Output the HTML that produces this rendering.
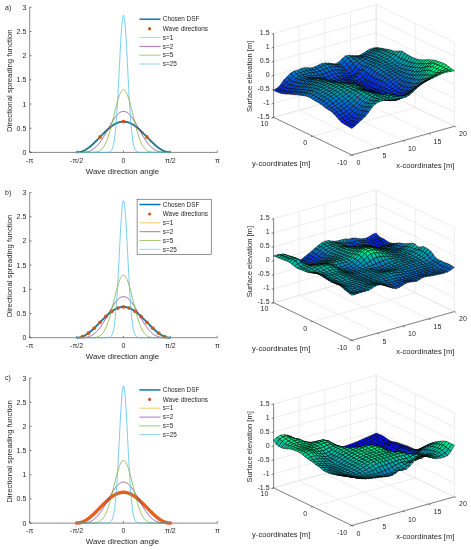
<!DOCTYPE html>
<html><head><meta charset="utf-8"><title>Directional spreading functions and wave surfaces</title>
<style>
html,body{margin:0;padding:0;background:#fff}
svg{display:block}
text{font-family:"Liberation Sans", sans-serif;fill:#262626}
.tk{font-size:7px}
.lb{font-size:7.9px}
.lg{font-size:6.4px}
.l3{font-size:7.6px}
</style></head><body>
<svg width="471" height="550" viewBox="0 0 471 550">
<rect width="471" height="550" fill="#fff"/>
<path d="M29.70 7.30V152.40H217.30" fill="none" stroke="#262626" stroke-width="0.55"/>
<path d="M29.70 152.40h1.9M29.70 128.22h1.9M29.70 104.03h1.9M29.70 79.85h1.9M29.70 55.67h1.9M29.70 31.48h1.9M29.70 7.30h1.9M29.70 152.40v-1.9M76.60 152.40v-1.9M123.50 152.40v-1.9M170.40 152.40v-1.9M217.30 152.40v-1.9" fill="none" stroke="#262626" stroke-width="0.55"/>
<text x="26.3" y="154.90" text-anchor="end" class="tk">0</text>
<text x="26.3" y="130.72" text-anchor="end" class="tk">0.5</text>
<text x="26.3" y="106.53" text-anchor="end" class="tk">1</text>
<text x="26.3" y="82.35" text-anchor="end" class="tk">1.5</text>
<text x="26.3" y="58.17" text-anchor="end" class="tk">2</text>
<text x="26.3" y="33.98" text-anchor="end" class="tk">2.5</text>
<text x="26.3" y="9.80" text-anchor="end" class="tk">3</text>
<text x="29.70" y="162.60" text-anchor="middle" class="tk">-π</text>
<text x="76.60" y="162.60" text-anchor="middle" class="tk">-π/2</text>
<text x="123.50" y="162.60" text-anchor="middle" class="tk">0</text>
<text x="170.40" y="162.60" text-anchor="middle" class="tk">π/2</text>
<text x="217.30" y="162.60" text-anchor="middle" class="tk">π</text>
<text x="122.50" y="173.70" text-anchor="middle" class="lb">Wave direction angle</text>
<text transform="translate(12.1 80.70) rotate(-90)" text-anchor="middle" class="lb" style="font-size:7.8px">Directional spreading function</text>
<text x="5" y="9.70" class="tk">a)</text>
<polyline points="76.60,152.40 77.12,152.39 77.64,152.36 78.16,152.32 78.68,152.25 79.21,152.17 79.73,152.06 80.25,151.94 80.77,151.80 81.29,151.65 81.81,151.47 82.33,151.28 82.85,151.07 83.37,150.84 83.90,150.60 84.42,150.34 84.94,150.06 85.46,149.77 85.98,149.46 86.50,149.14 87.02,148.80 87.54,148.45 88.06,148.08 88.59,147.70 89.11,147.31 89.63,146.90 90.15,146.48 90.67,146.05 91.19,145.61 91.71,145.16 92.23,144.70 92.75,144.23 93.28,143.75 93.80,143.27 94.32,142.77 94.84,142.27 95.36,141.76 95.88,141.25 96.40,140.73 96.92,140.21 97.44,139.68 97.97,139.15 98.49,138.61 99.01,138.08 99.53,137.54 100.05,137.00 100.57,136.47 101.09,135.93 101.61,135.40 102.13,134.86 102.66,134.33 103.18,133.80 103.70,133.28 104.22,132.76 104.74,132.25 105.26,131.74 105.78,131.24 106.30,130.74 106.82,130.26 107.35,129.78 107.87,129.31 108.39,128.85 108.91,128.40 109.43,127.96 109.95,127.53 110.47,127.11 110.99,126.70 111.51,126.31 112.04,125.93 112.56,125.56 113.08,125.21 113.60,124.87 114.12,124.55 114.64,124.24 115.16,123.95 115.68,123.67 116.20,123.41 116.73,123.17 117.25,122.94 117.77,122.73 118.29,122.54 118.81,122.36 119.33,122.21 119.85,122.07 120.37,121.95 120.89,121.84 121.42,121.76 121.94,121.69 122.46,121.65 122.98,121.62 123.50,121.61 124.02,121.62 124.54,121.65 125.06,121.69 125.58,121.76 126.11,121.84 126.63,121.95 127.15,122.07 127.67,122.21 128.19,122.36 128.71,122.54 129.23,122.73 129.75,122.94 130.27,123.17 130.80,123.41 131.32,123.67 131.84,123.95 132.36,124.24 132.88,124.55 133.40,124.87 133.92,125.21 134.44,125.56 134.96,125.93 135.49,126.31 136.01,126.70 136.53,127.11 137.05,127.53 137.57,127.96 138.09,128.40 138.61,128.85 139.13,129.31 139.65,129.78 140.18,130.26 140.70,130.74 141.22,131.24 141.74,131.74 142.26,132.25 142.78,132.76 143.30,133.28 143.82,133.80 144.34,134.33 144.87,134.86 145.39,135.40 145.91,135.93 146.43,136.47 146.95,137.00 147.47,137.54 147.99,138.08 148.51,138.61 149.03,139.15 149.56,139.68 150.08,140.21 150.60,140.73 151.12,141.25 151.64,141.76 152.16,142.27 152.68,142.77 153.20,143.27 153.72,143.75 154.25,144.23 154.77,144.70 155.29,145.16 155.81,145.61 156.33,146.05 156.85,146.48 157.37,146.90 157.89,147.31 158.41,147.70 158.94,148.08 159.46,148.45 159.98,148.80 160.50,149.14 161.02,149.46 161.54,149.77 162.06,150.06 162.58,150.34 163.10,150.60 163.63,150.84 164.15,151.07 164.67,151.28 165.19,151.47 165.71,151.65 166.23,151.80 166.75,151.94 167.27,152.06 167.79,152.17 168.32,152.25 168.84,152.32 169.36,152.36 169.88,152.39 170.40,152.40" fill="none" stroke="#1b7bb3" stroke-width="1.9" stroke-linejoin="round"/>
<circle cx="100.05" cy="137.00" r="1.9" fill="#E0581B"/>
<circle cx="123.50" cy="121.61" r="1.9" fill="#E0581B"/>
<circle cx="146.95" cy="137.00" r="1.9" fill="#E0581B"/>
<polyline points="76.60,152.40 77.12,152.39 77.64,152.36 78.16,152.32 78.68,152.25 79.21,152.17 79.73,152.06 80.25,151.94 80.77,151.80 81.29,151.65 81.81,151.47 82.33,151.28 82.85,151.07 83.37,150.84 83.90,150.60 84.42,150.34 84.94,150.06 85.46,149.77 85.98,149.46 86.50,149.14 87.02,148.80 87.54,148.45 88.06,148.08 88.59,147.70 89.11,147.31 89.63,146.90 90.15,146.48 90.67,146.05 91.19,145.61 91.71,145.16 92.23,144.70 92.75,144.23 93.28,143.75 93.80,143.27 94.32,142.77 94.84,142.27 95.36,141.76 95.88,141.25 96.40,140.73 96.92,140.21 97.44,139.68 97.97,139.15 98.49,138.61 99.01,138.08 99.53,137.54 100.05,137.00 100.57,136.47 101.09,135.93 101.61,135.40 102.13,134.86 102.66,134.33 103.18,133.80 103.70,133.28 104.22,132.76 104.74,132.25 105.26,131.74 105.78,131.24 106.30,130.74 106.82,130.26 107.35,129.78 107.87,129.31 108.39,128.85 108.91,128.40 109.43,127.96 109.95,127.53 110.47,127.11 110.99,126.70 111.51,126.31 112.04,125.93 112.56,125.56 113.08,125.21 113.60,124.87 114.12,124.55 114.64,124.24 115.16,123.95 115.68,123.67 116.20,123.41 116.73,123.17 117.25,122.94 117.77,122.73 118.29,122.54 118.81,122.36 119.33,122.21 119.85,122.07 120.37,121.95 120.89,121.84 121.42,121.76 121.94,121.69 122.46,121.65 122.98,121.62 123.50,121.61 124.02,121.62 124.54,121.65 125.06,121.69 125.58,121.76 126.11,121.84 126.63,121.95 127.15,122.07 127.67,122.21 128.19,122.36 128.71,122.54 129.23,122.73 129.75,122.94 130.27,123.17 130.80,123.41 131.32,123.67 131.84,123.95 132.36,124.24 132.88,124.55 133.40,124.87 133.92,125.21 134.44,125.56 134.96,125.93 135.49,126.31 136.01,126.70 136.53,127.11 137.05,127.53 137.57,127.96 138.09,128.40 138.61,128.85 139.13,129.31 139.65,129.78 140.18,130.26 140.70,130.74 141.22,131.24 141.74,131.74 142.26,132.25 142.78,132.76 143.30,133.28 143.82,133.80 144.34,134.33 144.87,134.86 145.39,135.40 145.91,135.93 146.43,136.47 146.95,137.00 147.47,137.54 147.99,138.08 148.51,138.61 149.03,139.15 149.56,139.68 150.08,140.21 150.60,140.73 151.12,141.25 151.64,141.76 152.16,142.27 152.68,142.77 153.20,143.27 153.72,143.75 154.25,144.23 154.77,144.70 155.29,145.16 155.81,145.61 156.33,146.05 156.85,146.48 157.37,146.90 157.89,147.31 158.41,147.70 158.94,148.08 159.46,148.45 159.98,148.80 160.50,149.14 161.02,149.46 161.54,149.77 162.06,150.06 162.58,150.34 163.10,150.60 163.63,150.84 164.15,151.07 164.67,151.28 165.19,151.47 165.71,151.65 166.23,151.80 166.75,151.94 167.27,152.06 167.79,152.17 168.32,152.25 168.84,152.32 169.36,152.36 169.88,152.39 170.40,152.40" fill="none" stroke="#4f6f3c" stroke-width="0.75" stroke-linejoin="round"/>
<polyline points="76.60,152.40 77.12,152.40 77.64,152.40 78.16,152.40 78.68,152.40 79.21,152.40 79.73,152.40 80.25,152.39 80.77,152.38 81.29,152.38 81.81,152.36 82.33,152.35 82.85,152.32 83.37,152.29 83.90,152.26 84.42,152.22 84.94,152.16 85.46,152.10 85.98,152.03 86.50,151.94 87.02,151.84 87.54,151.72 88.06,151.59 88.59,151.44 89.11,151.28 89.63,151.09 90.15,150.88 90.67,150.66 91.19,150.41 91.71,150.13 92.23,149.83 92.75,149.51 93.28,149.16 93.80,148.79 94.32,148.39 94.84,147.96 95.36,147.50 95.88,147.01 96.40,146.50 96.92,145.96 97.44,145.39 97.97,144.79 98.49,144.17 99.01,143.52 99.53,142.84 100.05,142.14 100.57,141.41 101.09,140.65 101.61,139.88 102.13,139.08 102.66,138.26 103.18,137.42 103.70,136.57 104.22,135.70 104.74,134.81 105.26,133.91 105.78,133.01 106.30,132.09 106.82,131.17 107.35,130.24 107.87,129.31 108.39,128.38 108.91,127.45 109.43,126.52 109.95,125.61 110.47,124.70 110.99,123.81 111.51,122.92 112.04,122.06 112.56,121.21 113.08,120.39 113.60,119.59 114.12,118.81 114.64,118.06 115.16,117.35 115.68,116.66 116.20,116.01 116.73,115.39 117.25,114.82 117.77,114.28 118.29,113.78 118.81,113.33 119.33,112.92 119.85,112.56 120.37,112.24 120.89,111.97 121.42,111.74 121.94,111.57 122.46,111.45 122.98,111.37 123.50,111.35 124.02,111.37 124.54,111.45 125.06,111.57 125.58,111.74 126.11,111.97 126.63,112.24 127.15,112.56 127.67,112.92 128.19,113.33 128.71,113.78 129.23,114.28 129.75,114.82 130.27,115.39 130.80,116.01 131.32,116.66 131.84,117.35 132.36,118.06 132.88,118.81 133.40,119.59 133.92,120.39 134.44,121.21 134.96,122.06 135.49,122.92 136.01,123.81 136.53,124.70 137.05,125.61 137.57,126.52 138.09,127.45 138.61,128.38 139.13,129.31 139.65,130.24 140.18,131.17 140.70,132.09 141.22,133.01 141.74,133.91 142.26,134.81 142.78,135.70 143.30,136.57 143.82,137.42 144.34,138.26 144.87,139.08 145.39,139.88 145.91,140.65 146.43,141.41 146.95,142.14 147.47,142.84 147.99,143.52 148.51,144.17 149.03,144.79 149.56,145.39 150.08,145.96 150.60,146.50 151.12,147.01 151.64,147.50 152.16,147.96 152.68,148.39 153.20,148.79 153.72,149.16 154.25,149.51 154.77,149.83 155.29,150.13 155.81,150.41 156.33,150.66 156.85,150.88 157.37,151.09 157.89,151.28 158.41,151.44 158.94,151.59 159.46,151.72 159.98,151.84 160.50,151.94 161.02,152.03 161.54,152.10 162.06,152.16 162.58,152.22 163.10,152.26 163.63,152.29 164.15,152.32 164.67,152.35 165.19,152.36 165.71,152.38 166.23,152.38 166.75,152.39 167.27,152.40 167.79,152.40 168.32,152.40 168.84,152.40 169.36,152.40 169.88,152.40 170.40,152.40" fill="none" stroke="#7E2F8E" stroke-width="0.75" stroke-linejoin="round"/>
<polyline points="76.60,152.40 77.12,152.40 77.64,152.40 78.16,152.40 78.68,152.40 79.21,152.40 79.73,152.40 80.25,152.40 80.77,152.40 81.29,152.40 81.81,152.40 82.33,152.40 82.85,152.40 83.37,152.40 83.90,152.40 84.42,152.40 84.94,152.40 85.46,152.40 85.98,152.40 86.50,152.40 87.02,152.40 87.54,152.40 88.06,152.40 88.59,152.39 89.11,152.39 89.63,152.39 90.15,152.38 90.67,152.38 91.19,152.37 91.71,152.36 92.23,152.34 92.75,152.32 93.28,152.29 93.80,152.26 94.32,152.21 94.84,152.16 95.36,152.09 95.88,152.01 96.40,151.91 96.92,151.79 97.44,151.65 97.97,151.48 98.49,151.27 99.01,151.04 99.53,150.76 100.05,150.45 100.57,150.08 101.09,149.66 101.61,149.19 102.13,148.65 102.66,148.05 103.18,147.37 103.70,146.62 104.22,145.80 104.74,144.89 105.26,143.89 105.78,142.81 106.30,141.63 106.82,140.36 107.35,139.00 107.87,137.55 108.39,136.01 108.91,134.38 109.43,132.67 109.95,130.88 110.47,129.01 110.99,127.07 111.51,125.08 112.04,123.03 112.56,120.94 113.08,118.81 113.60,116.67 114.12,114.52 114.64,112.38 115.16,110.26 115.68,108.17 116.20,106.13 116.73,104.15 117.25,102.24 117.77,100.43 118.29,98.72 118.81,97.13 119.33,95.67 119.85,94.35 120.37,93.18 120.89,92.18 121.42,91.35 121.94,90.69 122.46,90.22 122.98,89.94 123.50,89.84 124.02,89.94 124.54,90.22 125.06,90.69 125.58,91.35 126.11,92.18 126.63,93.18 127.15,94.35 127.67,95.67 128.19,97.13 128.71,98.72 129.23,100.43 129.75,102.24 130.27,104.15 130.80,106.13 131.32,108.17 131.84,110.26 132.36,112.38 132.88,114.52 133.40,116.67 133.92,118.81 134.44,120.94 134.96,123.03 135.49,125.08 136.01,127.07 136.53,129.01 137.05,130.88 137.57,132.67 138.09,134.38 138.61,136.01 139.13,137.55 139.65,139.00 140.18,140.36 140.70,141.63 141.22,142.81 141.74,143.89 142.26,144.89 142.78,145.80 143.30,146.62 143.82,147.37 144.34,148.05 144.87,148.65 145.39,149.19 145.91,149.66 146.43,150.08 146.95,150.45 147.47,150.76 147.99,151.04 148.51,151.27 149.03,151.48 149.56,151.65 150.08,151.79 150.60,151.91 151.12,152.01 151.64,152.09 152.16,152.16 152.68,152.21 153.20,152.26 153.72,152.29 154.25,152.32 154.77,152.34 155.29,152.36 155.81,152.37 156.33,152.38 156.85,152.38 157.37,152.39 157.89,152.39 158.41,152.39 158.94,152.40 159.46,152.40 159.98,152.40 160.50,152.40 161.02,152.40 161.54,152.40 162.06,152.40 162.58,152.40 163.10,152.40 163.63,152.40 164.15,152.40 164.67,152.40 165.19,152.40 165.71,152.40 166.23,152.40 166.75,152.40 167.27,152.40 167.79,152.40 168.32,152.40 168.84,152.40 169.36,152.40 169.88,152.40 170.40,152.40" fill="none" stroke="#77AC30" stroke-width="0.75" stroke-linejoin="round"/>
<polyline points="76.60,152.40 77.12,152.40 77.64,152.40 78.16,152.40 78.68,152.40 79.21,152.40 79.73,152.40 80.25,152.40 80.77,152.40 81.29,152.40 81.81,152.40 82.33,152.40 82.85,152.40 83.37,152.40 83.90,152.40 84.42,152.40 84.94,152.40 85.46,152.40 85.98,152.40 86.50,152.40 87.02,152.40 87.54,152.40 88.06,152.40 88.59,152.40 89.11,152.40 89.63,152.40 90.15,152.40 90.67,152.40 91.19,152.40 91.71,152.40 92.23,152.40 92.75,152.40 93.28,152.40 93.80,152.40 94.32,152.40 94.84,152.40 95.36,152.40 95.88,152.40 96.40,152.40 96.92,152.40 97.44,152.40 97.97,152.40 98.49,152.40 99.01,152.40 99.53,152.40 100.05,152.40 100.57,152.40 101.09,152.40 101.61,152.40 102.13,152.40 102.66,152.40 103.18,152.40 103.70,152.40 104.22,152.40 104.74,152.40 105.26,152.39 105.78,152.39 106.30,152.38 106.82,152.36 107.35,152.34 107.87,152.30 108.39,152.23 108.91,152.13 109.43,151.97 109.95,151.74 110.47,151.40 110.99,150.91 111.51,150.22 112.04,149.27 112.56,147.99 113.08,146.28 113.60,144.07 114.12,141.25 114.64,137.71 115.16,133.38 115.68,128.17 116.20,122.04 116.73,114.96 117.25,106.97 117.77,98.14 118.29,88.62 118.81,78.59 119.33,68.31 119.85,58.07 120.37,48.21 120.89,39.08 121.42,31.02 121.94,24.36 122.46,19.39 122.98,16.32 123.50,15.28 124.02,16.32 124.54,19.39 125.06,24.36 125.58,31.02 126.11,39.08 126.63,48.21 127.15,58.07 127.67,68.31 128.19,78.59 128.71,88.62 129.23,98.14 129.75,106.97 130.27,114.96 130.80,122.04 131.32,128.17 131.84,133.38 132.36,137.71 132.88,141.25 133.40,144.07 133.92,146.28 134.44,147.99 134.96,149.27 135.49,150.22 136.01,150.91 136.53,151.40 137.05,151.74 137.57,151.97 138.09,152.13 138.61,152.23 139.13,152.30 139.65,152.34 140.18,152.36 140.70,152.38 141.22,152.39 141.74,152.39 142.26,152.40 142.78,152.40 143.30,152.40 143.82,152.40 144.34,152.40 144.87,152.40 145.39,152.40 145.91,152.40 146.43,152.40 146.95,152.40 147.47,152.40 147.99,152.40 148.51,152.40 149.03,152.40 149.56,152.40 150.08,152.40 150.60,152.40 151.12,152.40 151.64,152.40 152.16,152.40 152.68,152.40 153.20,152.40 153.72,152.40 154.25,152.40 154.77,152.40 155.29,152.40 155.81,152.40 156.33,152.40 156.85,152.40 157.37,152.40 157.89,152.40 158.41,152.40 158.94,152.40 159.46,152.40 159.98,152.40 160.50,152.40 161.02,152.40 161.54,152.40 162.06,152.40 162.58,152.40 163.10,152.40 163.63,152.40 164.15,152.40 164.67,152.40 165.19,152.40 165.71,152.40 166.23,152.40 166.75,152.40 167.27,152.40 167.79,152.40 168.32,152.40 168.84,152.40 169.36,152.40 169.88,152.40 170.40,152.40" fill="none" stroke="#4DBEEE" stroke-width="0.75" stroke-linejoin="round"/>
<path d="M139.4 19.20H160.5" stroke="#0072BD" stroke-width="1.45"/>
<text x="162.8" y="21.45" class="lg">Chosen DSF</text>
<circle cx="149.6" cy="28.70" r="1.6" fill="#D95319"/>
<text x="162.8" y="30.95" class="lg">Wave directions</text>
<path d="M139.4 37.50H160.5" stroke="#EDB120" stroke-width="0.65"/>
<text x="162.8" y="39.75" class="lg">s=1</text>
<path d="M139.4 46.40H160.5" stroke="#7E2F8E" stroke-width="0.65"/>
<text x="162.8" y="48.65" class="lg">s=2</text>
<path d="M139.4 55.20H160.5" stroke="#77AC30" stroke-width="0.65"/>
<text x="162.8" y="57.45" class="lg">s=5</text>
<path d="M139.4 64.00H160.5" stroke="#4DBEEE" stroke-width="0.65"/>
<text x="162.8" y="66.25" class="lg">s=25</text>
<path d="M29.70 192.60V337.70H217.30" fill="none" stroke="#262626" stroke-width="0.55"/>
<path d="M29.70 337.70h1.9M29.70 313.52h1.9M29.70 289.33h1.9M29.70 265.15h1.9M29.70 240.97h1.9M29.70 216.78h1.9M29.70 192.60h1.9M29.70 337.70v-1.9M76.60 337.70v-1.9M123.50 337.70v-1.9M170.40 337.70v-1.9M217.30 337.70v-1.9" fill="none" stroke="#262626" stroke-width="0.55"/>
<text x="26.3" y="340.20" text-anchor="end" class="tk">0</text>
<text x="26.3" y="316.02" text-anchor="end" class="tk">0.5</text>
<text x="26.3" y="291.83" text-anchor="end" class="tk">1</text>
<text x="26.3" y="267.65" text-anchor="end" class="tk">1.5</text>
<text x="26.3" y="243.47" text-anchor="end" class="tk">2</text>
<text x="26.3" y="219.28" text-anchor="end" class="tk">2.5</text>
<text x="26.3" y="195.10" text-anchor="end" class="tk">3</text>
<text x="29.70" y="347.90" text-anchor="middle" class="tk">-π</text>
<text x="76.60" y="347.90" text-anchor="middle" class="tk">-π/2</text>
<text x="123.50" y="347.90" text-anchor="middle" class="tk">0</text>
<text x="170.40" y="347.90" text-anchor="middle" class="tk">π/2</text>
<text x="217.30" y="347.90" text-anchor="middle" class="tk">π</text>
<text x="122.50" y="359.00" text-anchor="middle" class="lb">Wave direction angle</text>
<text transform="translate(12.1 266.00) rotate(-90)" text-anchor="middle" class="lb" style="font-size:7.8px">Directional spreading function</text>
<text x="5" y="195.00" class="tk">b)</text>
<polyline points="76.60,337.70 77.12,337.69 77.64,337.66 78.16,337.62 78.68,337.55 79.21,337.47 79.73,337.36 80.25,337.24 80.77,337.10 81.29,336.95 81.81,336.77 82.33,336.58 82.85,336.37 83.37,336.14 83.90,335.90 84.42,335.64 84.94,335.36 85.46,335.07 85.98,334.76 86.50,334.44 87.02,334.10 87.54,333.75 88.06,333.38 88.59,333.00 89.11,332.61 89.63,332.20 90.15,331.78 90.67,331.35 91.19,330.91 91.71,330.46 92.23,330.00 92.75,329.53 93.28,329.05 93.80,328.57 94.32,328.07 94.84,327.57 95.36,327.06 95.88,326.55 96.40,326.03 96.92,325.51 97.44,324.98 97.97,324.45 98.49,323.91 99.01,323.38 99.53,322.84 100.05,322.30 100.57,321.77 101.09,321.23 101.61,320.70 102.13,320.16 102.66,319.63 103.18,319.10 103.70,318.58 104.22,318.06 104.74,317.55 105.26,317.04 105.78,316.54 106.30,316.04 106.82,315.56 107.35,315.08 107.87,314.61 108.39,314.15 108.91,313.70 109.43,313.26 109.95,312.83 110.47,312.41 110.99,312.00 111.51,311.61 112.04,311.23 112.56,310.86 113.08,310.51 113.60,310.17 114.12,309.85 114.64,309.54 115.16,309.25 115.68,308.97 116.20,308.71 116.73,308.47 117.25,308.24 117.77,308.03 118.29,307.84 118.81,307.66 119.33,307.51 119.85,307.37 120.37,307.25 120.89,307.14 121.42,307.06 121.94,306.99 122.46,306.95 122.98,306.92 123.50,306.91 124.02,306.92 124.54,306.95 125.06,306.99 125.58,307.06 126.11,307.14 126.63,307.25 127.15,307.37 127.67,307.51 128.19,307.66 128.71,307.84 129.23,308.03 129.75,308.24 130.27,308.47 130.80,308.71 131.32,308.97 131.84,309.25 132.36,309.54 132.88,309.85 133.40,310.17 133.92,310.51 134.44,310.86 134.96,311.23 135.49,311.61 136.01,312.00 136.53,312.41 137.05,312.83 137.57,313.26 138.09,313.70 138.61,314.15 139.13,314.61 139.65,315.08 140.18,315.56 140.70,316.04 141.22,316.54 141.74,317.04 142.26,317.55 142.78,318.06 143.30,318.58 143.82,319.10 144.34,319.63 144.87,320.16 145.39,320.70 145.91,321.23 146.43,321.77 146.95,322.30 147.47,322.84 147.99,323.38 148.51,323.91 149.03,324.45 149.56,324.98 150.08,325.51 150.60,326.03 151.12,326.55 151.64,327.06 152.16,327.57 152.68,328.07 153.20,328.57 153.72,329.05 154.25,329.53 154.77,330.00 155.29,330.46 155.81,330.91 156.33,331.35 156.85,331.78 157.37,332.20 157.89,332.61 158.41,333.00 158.94,333.38 159.46,333.75 159.98,334.10 160.50,334.44 161.02,334.76 161.54,335.07 162.06,335.36 162.58,335.64 163.10,335.90 163.63,336.14 164.15,336.37 164.67,336.58 165.19,336.77 165.71,336.95 166.23,337.10 166.75,337.24 167.27,337.36 167.79,337.47 168.32,337.55 168.84,337.62 169.36,337.66 169.88,337.69 170.40,337.70" fill="none" stroke="#1b7bb3" stroke-width="1.9" stroke-linejoin="round"/>
<circle cx="82.46" cy="336.53" r="1.9" fill="#E0581B"/>
<circle cx="88.33" cy="333.19" r="1.9" fill="#E0581B"/>
<circle cx="94.19" cy="328.20" r="1.9" fill="#E0581B"/>
<circle cx="100.05" cy="322.30" r="1.9" fill="#E0581B"/>
<circle cx="105.91" cy="316.41" r="1.9" fill="#E0581B"/>
<circle cx="111.78" cy="311.42" r="1.9" fill="#E0581B"/>
<circle cx="117.64" cy="308.08" r="1.9" fill="#E0581B"/>
<circle cx="123.50" cy="306.91" r="1.9" fill="#E0581B"/>
<circle cx="129.36" cy="308.08" r="1.9" fill="#E0581B"/>
<circle cx="135.22" cy="311.42" r="1.9" fill="#E0581B"/>
<circle cx="141.09" cy="316.41" r="1.9" fill="#E0581B"/>
<circle cx="146.95" cy="322.30" r="1.9" fill="#E0581B"/>
<circle cx="152.81" cy="328.20" r="1.9" fill="#E0581B"/>
<circle cx="158.67" cy="333.19" r="1.9" fill="#E0581B"/>
<circle cx="164.54" cy="336.53" r="1.9" fill="#E0581B"/>
<polyline points="76.60,337.70 77.12,337.69 77.64,337.66 78.16,337.62 78.68,337.55 79.21,337.47 79.73,337.36 80.25,337.24 80.77,337.10 81.29,336.95 81.81,336.77 82.33,336.58 82.85,336.37 83.37,336.14 83.90,335.90 84.42,335.64 84.94,335.36 85.46,335.07 85.98,334.76 86.50,334.44 87.02,334.10 87.54,333.75 88.06,333.38 88.59,333.00 89.11,332.61 89.63,332.20 90.15,331.78 90.67,331.35 91.19,330.91 91.71,330.46 92.23,330.00 92.75,329.53 93.28,329.05 93.80,328.57 94.32,328.07 94.84,327.57 95.36,327.06 95.88,326.55 96.40,326.03 96.92,325.51 97.44,324.98 97.97,324.45 98.49,323.91 99.01,323.38 99.53,322.84 100.05,322.30 100.57,321.77 101.09,321.23 101.61,320.70 102.13,320.16 102.66,319.63 103.18,319.10 103.70,318.58 104.22,318.06 104.74,317.55 105.26,317.04 105.78,316.54 106.30,316.04 106.82,315.56 107.35,315.08 107.87,314.61 108.39,314.15 108.91,313.70 109.43,313.26 109.95,312.83 110.47,312.41 110.99,312.00 111.51,311.61 112.04,311.23 112.56,310.86 113.08,310.51 113.60,310.17 114.12,309.85 114.64,309.54 115.16,309.25 115.68,308.97 116.20,308.71 116.73,308.47 117.25,308.24 117.77,308.03 118.29,307.84 118.81,307.66 119.33,307.51 119.85,307.37 120.37,307.25 120.89,307.14 121.42,307.06 121.94,306.99 122.46,306.95 122.98,306.92 123.50,306.91 124.02,306.92 124.54,306.95 125.06,306.99 125.58,307.06 126.11,307.14 126.63,307.25 127.15,307.37 127.67,307.51 128.19,307.66 128.71,307.84 129.23,308.03 129.75,308.24 130.27,308.47 130.80,308.71 131.32,308.97 131.84,309.25 132.36,309.54 132.88,309.85 133.40,310.17 133.92,310.51 134.44,310.86 134.96,311.23 135.49,311.61 136.01,312.00 136.53,312.41 137.05,312.83 137.57,313.26 138.09,313.70 138.61,314.15 139.13,314.61 139.65,315.08 140.18,315.56 140.70,316.04 141.22,316.54 141.74,317.04 142.26,317.55 142.78,318.06 143.30,318.58 143.82,319.10 144.34,319.63 144.87,320.16 145.39,320.70 145.91,321.23 146.43,321.77 146.95,322.30 147.47,322.84 147.99,323.38 148.51,323.91 149.03,324.45 149.56,324.98 150.08,325.51 150.60,326.03 151.12,326.55 151.64,327.06 152.16,327.57 152.68,328.07 153.20,328.57 153.72,329.05 154.25,329.53 154.77,330.00 155.29,330.46 155.81,330.91 156.33,331.35 156.85,331.78 157.37,332.20 157.89,332.61 158.41,333.00 158.94,333.38 159.46,333.75 159.98,334.10 160.50,334.44 161.02,334.76 161.54,335.07 162.06,335.36 162.58,335.64 163.10,335.90 163.63,336.14 164.15,336.37 164.67,336.58 165.19,336.77 165.71,336.95 166.23,337.10 166.75,337.24 167.27,337.36 167.79,337.47 168.32,337.55 168.84,337.62 169.36,337.66 169.88,337.69 170.40,337.70" fill="none" stroke="#4f6f3c" stroke-width="0.75" stroke-linejoin="round"/>
<polyline points="76.60,337.70 77.12,337.70 77.64,337.70 78.16,337.70 78.68,337.70 79.21,337.70 79.73,337.70 80.25,337.69 80.77,337.68 81.29,337.68 81.81,337.66 82.33,337.65 82.85,337.62 83.37,337.59 83.90,337.56 84.42,337.52 84.94,337.46 85.46,337.40 85.98,337.33 86.50,337.24 87.02,337.14 87.54,337.02 88.06,336.89 88.59,336.74 89.11,336.58 89.63,336.39 90.15,336.18 90.67,335.96 91.19,335.71 91.71,335.43 92.23,335.13 92.75,334.81 93.28,334.46 93.80,334.09 94.32,333.69 94.84,333.26 95.36,332.80 95.88,332.31 96.40,331.80 96.92,331.26 97.44,330.69 97.97,330.09 98.49,329.47 99.01,328.82 99.53,328.14 100.05,327.44 100.57,326.71 101.09,325.95 101.61,325.18 102.13,324.38 102.66,323.56 103.18,322.72 103.70,321.87 104.22,321.00 104.74,320.11 105.26,319.21 105.78,318.31 106.30,317.39 106.82,316.47 107.35,315.54 107.87,314.61 108.39,313.68 108.91,312.75 109.43,311.82 109.95,310.91 110.47,310.00 110.99,309.11 111.51,308.22 112.04,307.36 112.56,306.51 113.08,305.69 113.60,304.89 114.12,304.11 114.64,303.36 115.16,302.65 115.68,301.96 116.20,301.31 116.73,300.69 117.25,300.12 117.77,299.58 118.29,299.08 118.81,298.63 119.33,298.22 119.85,297.86 120.37,297.54 120.89,297.27 121.42,297.04 121.94,296.87 122.46,296.75 122.98,296.67 123.50,296.65 124.02,296.67 124.54,296.75 125.06,296.87 125.58,297.04 126.11,297.27 126.63,297.54 127.15,297.86 127.67,298.22 128.19,298.63 128.71,299.08 129.23,299.58 129.75,300.12 130.27,300.69 130.80,301.31 131.32,301.96 131.84,302.65 132.36,303.36 132.88,304.11 133.40,304.89 133.92,305.69 134.44,306.51 134.96,307.36 135.49,308.22 136.01,309.11 136.53,310.00 137.05,310.91 137.57,311.82 138.09,312.75 138.61,313.68 139.13,314.61 139.65,315.54 140.18,316.47 140.70,317.39 141.22,318.31 141.74,319.21 142.26,320.11 142.78,321.00 143.30,321.87 143.82,322.72 144.34,323.56 144.87,324.38 145.39,325.18 145.91,325.95 146.43,326.71 146.95,327.44 147.47,328.14 147.99,328.82 148.51,329.47 149.03,330.09 149.56,330.69 150.08,331.26 150.60,331.80 151.12,332.31 151.64,332.80 152.16,333.26 152.68,333.69 153.20,334.09 153.72,334.46 154.25,334.81 154.77,335.13 155.29,335.43 155.81,335.71 156.33,335.96 156.85,336.18 157.37,336.39 157.89,336.58 158.41,336.74 158.94,336.89 159.46,337.02 159.98,337.14 160.50,337.24 161.02,337.33 161.54,337.40 162.06,337.46 162.58,337.52 163.10,337.56 163.63,337.59 164.15,337.62 164.67,337.65 165.19,337.66 165.71,337.68 166.23,337.68 166.75,337.69 167.27,337.70 167.79,337.70 168.32,337.70 168.84,337.70 169.36,337.70 169.88,337.70 170.40,337.70" fill="none" stroke="#7E2F8E" stroke-width="0.75" stroke-linejoin="round"/>
<polyline points="76.60,337.70 77.12,337.70 77.64,337.70 78.16,337.70 78.68,337.70 79.21,337.70 79.73,337.70 80.25,337.70 80.77,337.70 81.29,337.70 81.81,337.70 82.33,337.70 82.85,337.70 83.37,337.70 83.90,337.70 84.42,337.70 84.94,337.70 85.46,337.70 85.98,337.70 86.50,337.70 87.02,337.70 87.54,337.70 88.06,337.70 88.59,337.69 89.11,337.69 89.63,337.69 90.15,337.68 90.67,337.68 91.19,337.67 91.71,337.66 92.23,337.64 92.75,337.62 93.28,337.59 93.80,337.56 94.32,337.51 94.84,337.46 95.36,337.39 95.88,337.31 96.40,337.21 96.92,337.09 97.44,336.95 97.97,336.78 98.49,336.57 99.01,336.34 99.53,336.06 100.05,335.75 100.57,335.38 101.09,334.96 101.61,334.49 102.13,333.95 102.66,333.35 103.18,332.67 103.70,331.92 104.22,331.10 104.74,330.19 105.26,329.19 105.78,328.11 106.30,326.93 106.82,325.66 107.35,324.30 107.87,322.85 108.39,321.31 108.91,319.68 109.43,317.97 109.95,316.18 110.47,314.31 110.99,312.37 111.51,310.38 112.04,308.33 112.56,306.24 113.08,304.11 113.60,301.97 114.12,299.82 114.64,297.68 115.16,295.56 115.68,293.47 116.20,291.43 116.73,289.45 117.25,287.54 117.77,285.73 118.29,284.02 118.81,282.43 119.33,280.97 119.85,279.65 120.37,278.48 120.89,277.48 121.42,276.65 121.94,275.99 122.46,275.52 122.98,275.24 123.50,275.14 124.02,275.24 124.54,275.52 125.06,275.99 125.58,276.65 126.11,277.48 126.63,278.48 127.15,279.65 127.67,280.97 128.19,282.43 128.71,284.02 129.23,285.73 129.75,287.54 130.27,289.45 130.80,291.43 131.32,293.47 131.84,295.56 132.36,297.68 132.88,299.82 133.40,301.97 133.92,304.11 134.44,306.24 134.96,308.33 135.49,310.38 136.01,312.37 136.53,314.31 137.05,316.18 137.57,317.97 138.09,319.68 138.61,321.31 139.13,322.85 139.65,324.30 140.18,325.66 140.70,326.93 141.22,328.11 141.74,329.19 142.26,330.19 142.78,331.10 143.30,331.92 143.82,332.67 144.34,333.35 144.87,333.95 145.39,334.49 145.91,334.96 146.43,335.38 146.95,335.75 147.47,336.06 147.99,336.34 148.51,336.57 149.03,336.78 149.56,336.95 150.08,337.09 150.60,337.21 151.12,337.31 151.64,337.39 152.16,337.46 152.68,337.51 153.20,337.56 153.72,337.59 154.25,337.62 154.77,337.64 155.29,337.66 155.81,337.67 156.33,337.68 156.85,337.68 157.37,337.69 157.89,337.69 158.41,337.69 158.94,337.70 159.46,337.70 159.98,337.70 160.50,337.70 161.02,337.70 161.54,337.70 162.06,337.70 162.58,337.70 163.10,337.70 163.63,337.70 164.15,337.70 164.67,337.70 165.19,337.70 165.71,337.70 166.23,337.70 166.75,337.70 167.27,337.70 167.79,337.70 168.32,337.70 168.84,337.70 169.36,337.70 169.88,337.70 170.40,337.70" fill="none" stroke="#77AC30" stroke-width="0.75" stroke-linejoin="round"/>
<polyline points="76.60,337.70 77.12,337.70 77.64,337.70 78.16,337.70 78.68,337.70 79.21,337.70 79.73,337.70 80.25,337.70 80.77,337.70 81.29,337.70 81.81,337.70 82.33,337.70 82.85,337.70 83.37,337.70 83.90,337.70 84.42,337.70 84.94,337.70 85.46,337.70 85.98,337.70 86.50,337.70 87.02,337.70 87.54,337.70 88.06,337.70 88.59,337.70 89.11,337.70 89.63,337.70 90.15,337.70 90.67,337.70 91.19,337.70 91.71,337.70 92.23,337.70 92.75,337.70 93.28,337.70 93.80,337.70 94.32,337.70 94.84,337.70 95.36,337.70 95.88,337.70 96.40,337.70 96.92,337.70 97.44,337.70 97.97,337.70 98.49,337.70 99.01,337.70 99.53,337.70 100.05,337.70 100.57,337.70 101.09,337.70 101.61,337.70 102.13,337.70 102.66,337.70 103.18,337.70 103.70,337.70 104.22,337.70 104.74,337.70 105.26,337.69 105.78,337.69 106.30,337.68 106.82,337.66 107.35,337.64 107.87,337.60 108.39,337.53 108.91,337.43 109.43,337.27 109.95,337.04 110.47,336.70 110.99,336.21 111.51,335.52 112.04,334.57 112.56,333.29 113.08,331.58 113.60,329.37 114.12,326.55 114.64,323.01 115.16,318.68 115.68,313.47 116.20,307.34 116.73,300.26 117.25,292.27 117.77,283.44 118.29,273.92 118.81,263.89 119.33,253.61 119.85,243.37 120.37,233.51 120.89,224.38 121.42,216.32 121.94,209.66 122.46,204.69 122.98,201.62 123.50,200.58 124.02,201.62 124.54,204.69 125.06,209.66 125.58,216.32 126.11,224.38 126.63,233.51 127.15,243.37 127.67,253.61 128.19,263.89 128.71,273.92 129.23,283.44 129.75,292.27 130.27,300.26 130.80,307.34 131.32,313.47 131.84,318.68 132.36,323.01 132.88,326.55 133.40,329.37 133.92,331.58 134.44,333.29 134.96,334.57 135.49,335.52 136.01,336.21 136.53,336.70 137.05,337.04 137.57,337.27 138.09,337.43 138.61,337.53 139.13,337.60 139.65,337.64 140.18,337.66 140.70,337.68 141.22,337.69 141.74,337.69 142.26,337.70 142.78,337.70 143.30,337.70 143.82,337.70 144.34,337.70 144.87,337.70 145.39,337.70 145.91,337.70 146.43,337.70 146.95,337.70 147.47,337.70 147.99,337.70 148.51,337.70 149.03,337.70 149.56,337.70 150.08,337.70 150.60,337.70 151.12,337.70 151.64,337.70 152.16,337.70 152.68,337.70 153.20,337.70 153.72,337.70 154.25,337.70 154.77,337.70 155.29,337.70 155.81,337.70 156.33,337.70 156.85,337.70 157.37,337.70 157.89,337.70 158.41,337.70 158.94,337.70 159.46,337.70 159.98,337.70 160.50,337.70 161.02,337.70 161.54,337.70 162.06,337.70 162.58,337.70 163.10,337.70 163.63,337.70 164.15,337.70 164.67,337.70 165.19,337.70 165.71,337.70 166.23,337.70 166.75,337.70 167.27,337.70 167.79,337.70 168.32,337.70 168.84,337.70 169.36,337.70 169.88,337.70 170.40,337.70" fill="none" stroke="#4DBEEE" stroke-width="0.75" stroke-linejoin="round"/>
<rect x="137.1" y="199.20" width="74.1" height="55.4" fill="#fff" stroke="#262626" stroke-width="0.5"/>
<path d="M139.4 204.50H160.5" stroke="#0072BD" stroke-width="1.45"/>
<text x="162.8" y="206.75" class="lg">Chosen DSF</text>
<circle cx="149.6" cy="214.00" r="1.6" fill="#D95319"/>
<text x="162.8" y="216.25" class="lg">Wave directions</text>
<path d="M139.4 222.80H160.5" stroke="#EDB120" stroke-width="0.65"/>
<text x="162.8" y="225.05" class="lg">s=1</text>
<path d="M139.4 231.70H160.5" stroke="#7E2F8E" stroke-width="0.65"/>
<text x="162.8" y="233.95" class="lg">s=2</text>
<path d="M139.4 240.50H160.5" stroke="#77AC30" stroke-width="0.65"/>
<text x="162.8" y="242.75" class="lg">s=5</text>
<path d="M139.4 249.30H160.5" stroke="#4DBEEE" stroke-width="0.65"/>
<text x="162.8" y="251.55" class="lg">s=25</text>
<path d="M29.70 378.00V523.10H217.30" fill="none" stroke="#262626" stroke-width="0.55"/>
<path d="M29.70 523.10h1.9M29.70 498.92h1.9M29.70 474.73h1.9M29.70 450.55h1.9M29.70 426.37h1.9M29.70 402.18h1.9M29.70 378.00h1.9M29.70 523.10v-1.9M76.60 523.10v-1.9M123.50 523.10v-1.9M170.40 523.10v-1.9M217.30 523.10v-1.9" fill="none" stroke="#262626" stroke-width="0.55"/>
<text x="26.3" y="525.60" text-anchor="end" class="tk">0</text>
<text x="26.3" y="501.42" text-anchor="end" class="tk">0.5</text>
<text x="26.3" y="477.23" text-anchor="end" class="tk">1</text>
<text x="26.3" y="453.05" text-anchor="end" class="tk">1.5</text>
<text x="26.3" y="428.87" text-anchor="end" class="tk">2</text>
<text x="26.3" y="404.68" text-anchor="end" class="tk">2.5</text>
<text x="26.3" y="380.50" text-anchor="end" class="tk">3</text>
<text x="29.70" y="533.30" text-anchor="middle" class="tk">-π</text>
<text x="76.60" y="533.30" text-anchor="middle" class="tk">-π/2</text>
<text x="123.50" y="533.30" text-anchor="middle" class="tk">0</text>
<text x="170.40" y="533.30" text-anchor="middle" class="tk">π/2</text>
<text x="217.30" y="533.30" text-anchor="middle" class="tk">π</text>
<text x="122.50" y="544.40" text-anchor="middle" class="lb">Wave direction angle</text>
<text transform="translate(12.1 451.40) rotate(-90)" text-anchor="middle" class="lb" style="font-size:7.8px">Directional spreading function</text>
<text x="5" y="380.40" class="tk">c)</text>
<polyline points="76.60,523.10 77.12,523.09 77.64,523.06 78.16,523.02 78.68,522.95 79.21,522.87 79.73,522.76 80.25,522.64 80.77,522.50 81.29,522.35 81.81,522.17 82.33,521.98 82.85,521.77 83.37,521.54 83.90,521.30 84.42,521.04 84.94,520.76 85.46,520.47 85.98,520.16 86.50,519.84 87.02,519.50 87.54,519.15 88.06,518.78 88.59,518.40 89.11,518.01 89.63,517.60 90.15,517.18 90.67,516.75 91.19,516.31 91.71,515.86 92.23,515.40 92.75,514.93 93.28,514.45 93.80,513.97 94.32,513.47 94.84,512.97 95.36,512.46 95.88,511.95 96.40,511.43 96.92,510.91 97.44,510.38 97.97,509.85 98.49,509.31 99.01,508.78 99.53,508.24 100.05,507.70 100.57,507.17 101.09,506.63 101.61,506.10 102.13,505.56 102.66,505.03 103.18,504.50 103.70,503.98 104.22,503.46 104.74,502.95 105.26,502.44 105.78,501.94 106.30,501.44 106.82,500.96 107.35,500.48 107.87,500.01 108.39,499.55 108.91,499.10 109.43,498.66 109.95,498.23 110.47,497.81 110.99,497.40 111.51,497.01 112.04,496.63 112.56,496.26 113.08,495.91 113.60,495.57 114.12,495.25 114.64,494.94 115.16,494.65 115.68,494.37 116.20,494.11 116.73,493.87 117.25,493.64 117.77,493.43 118.29,493.24 118.81,493.06 119.33,492.91 119.85,492.77 120.37,492.65 120.89,492.54 121.42,492.46 121.94,492.39 122.46,492.35 122.98,492.32 123.50,492.31 124.02,492.32 124.54,492.35 125.06,492.39 125.58,492.46 126.11,492.54 126.63,492.65 127.15,492.77 127.67,492.91 128.19,493.06 128.71,493.24 129.23,493.43 129.75,493.64 130.27,493.87 130.80,494.11 131.32,494.37 131.84,494.65 132.36,494.94 132.88,495.25 133.40,495.57 133.92,495.91 134.44,496.26 134.96,496.63 135.49,497.01 136.01,497.40 136.53,497.81 137.05,498.23 137.57,498.66 138.09,499.10 138.61,499.55 139.13,500.01 139.65,500.48 140.18,500.96 140.70,501.44 141.22,501.94 141.74,502.44 142.26,502.95 142.78,503.46 143.30,503.98 143.82,504.50 144.34,505.03 144.87,505.56 145.39,506.10 145.91,506.63 146.43,507.17 146.95,507.70 147.47,508.24 147.99,508.78 148.51,509.31 149.03,509.85 149.56,510.38 150.08,510.91 150.60,511.43 151.12,511.95 151.64,512.46 152.16,512.97 152.68,513.47 153.20,513.97 153.72,514.45 154.25,514.93 154.77,515.40 155.29,515.86 155.81,516.31 156.33,516.75 156.85,517.18 157.37,517.60 157.89,518.01 158.41,518.40 158.94,518.78 159.46,519.15 159.98,519.50 160.50,519.84 161.02,520.16 161.54,520.47 162.06,520.76 162.58,521.04 163.10,521.30 163.63,521.54 164.15,521.77 164.67,521.98 165.19,522.17 165.71,522.35 166.23,522.50 166.75,522.64 167.27,522.76 167.79,522.87 168.32,522.95 168.84,523.02 169.36,523.06 169.88,523.09 170.40,523.10" fill="none" stroke="#1b7bb3" stroke-width="1.9" stroke-linejoin="round"/>
<polyline points="76.60,523.10 77.12,523.09 77.64,523.06 78.16,523.02 78.68,522.95 79.21,522.87 79.73,522.76 80.25,522.64 80.77,522.50 81.29,522.35 81.81,522.17 82.33,521.98 82.85,521.77 83.37,521.54 83.90,521.30 84.42,521.04 84.94,520.76 85.46,520.47 85.98,520.16 86.50,519.84 87.02,519.50 87.54,519.15 88.06,518.78 88.59,518.40 89.11,518.01 89.63,517.60 90.15,517.18 90.67,516.75 91.19,516.31 91.71,515.86 92.23,515.40 92.75,514.93 93.28,514.45 93.80,513.97 94.32,513.47 94.84,512.97 95.36,512.46 95.88,511.95 96.40,511.43 96.92,510.91 97.44,510.38 97.97,509.85 98.49,509.31 99.01,508.78 99.53,508.24 100.05,507.70 100.57,507.17 101.09,506.63 101.61,506.10 102.13,505.56 102.66,505.03 103.18,504.50 103.70,503.98 104.22,503.46 104.74,502.95 105.26,502.44 105.78,501.94 106.30,501.44 106.82,500.96 107.35,500.48 107.87,500.01 108.39,499.55 108.91,499.10 109.43,498.66 109.95,498.23 110.47,497.81 110.99,497.40 111.51,497.01 112.04,496.63 112.56,496.26 113.08,495.91 113.60,495.57 114.12,495.25 114.64,494.94 115.16,494.65 115.68,494.37 116.20,494.11 116.73,493.87 117.25,493.64 117.77,493.43 118.29,493.24 118.81,493.06 119.33,492.91 119.85,492.77 120.37,492.65 120.89,492.54 121.42,492.46 121.94,492.39 122.46,492.35 122.98,492.32 123.50,492.31 124.02,492.32 124.54,492.35 125.06,492.39 125.58,492.46 126.11,492.54 126.63,492.65 127.15,492.77 127.67,492.91 128.19,493.06 128.71,493.24 129.23,493.43 129.75,493.64 130.27,493.87 130.80,494.11 131.32,494.37 131.84,494.65 132.36,494.94 132.88,495.25 133.40,495.57 133.92,495.91 134.44,496.26 134.96,496.63 135.49,497.01 136.01,497.40 136.53,497.81 137.05,498.23 137.57,498.66 138.09,499.10 138.61,499.55 139.13,500.01 139.65,500.48 140.18,500.96 140.70,501.44 141.22,501.94 141.74,502.44 142.26,502.95 142.78,503.46 143.30,503.98 143.82,504.50 144.34,505.03 144.87,505.56 145.39,506.10 145.91,506.63 146.43,507.17 146.95,507.70 147.47,508.24 147.99,508.78 148.51,509.31 149.03,509.85 149.56,510.38 150.08,510.91 150.60,511.43 151.12,511.95 151.64,512.46 152.16,512.97 152.68,513.47 153.20,513.97 153.72,514.45 154.25,514.93 154.77,515.40 155.29,515.86 155.81,516.31 156.33,516.75 156.85,517.18 157.37,517.60 157.89,518.01 158.41,518.40 158.94,518.78 159.46,519.15 159.98,519.50 160.50,519.84 161.02,520.16 161.54,520.47 162.06,520.76 162.58,521.04 163.10,521.30 163.63,521.54 164.15,521.77 164.67,521.98 165.19,522.17 165.71,522.35 166.23,522.50 166.75,522.64 167.27,522.76 167.79,522.87 168.32,522.95 168.84,523.02 169.36,523.06 169.88,523.09 170.40,523.10" fill="none" stroke="#E5601E" stroke-width="3.4" stroke-linecap="round" stroke-linejoin="round"/>
<polyline points="76.60,523.10 77.12,523.10 77.64,523.10 78.16,523.10 78.68,523.10 79.21,523.10 79.73,523.10 80.25,523.09 80.77,523.08 81.29,523.08 81.81,523.06 82.33,523.05 82.85,523.02 83.37,522.99 83.90,522.96 84.42,522.92 84.94,522.86 85.46,522.80 85.98,522.73 86.50,522.64 87.02,522.54 87.54,522.42 88.06,522.29 88.59,522.14 89.11,521.98 89.63,521.79 90.15,521.58 90.67,521.36 91.19,521.11 91.71,520.83 92.23,520.53 92.75,520.21 93.28,519.86 93.80,519.49 94.32,519.09 94.84,518.66 95.36,518.20 95.88,517.71 96.40,517.20 96.92,516.66 97.44,516.09 97.97,515.49 98.49,514.87 99.01,514.22 99.53,513.54 100.05,512.84 100.57,512.11 101.09,511.35 101.61,510.58 102.13,509.78 102.66,508.96 103.18,508.12 103.70,507.27 104.22,506.40 104.74,505.51 105.26,504.61 105.78,503.71 106.30,502.79 106.82,501.87 107.35,500.94 107.87,500.01 108.39,499.08 108.91,498.15 109.43,497.22 109.95,496.31 110.47,495.40 110.99,494.51 111.51,493.62 112.04,492.76 112.56,491.91 113.08,491.09 113.60,490.29 114.12,489.51 114.64,488.76 115.16,488.05 115.68,487.36 116.20,486.71 116.73,486.09 117.25,485.52 117.77,484.98 118.29,484.48 118.81,484.03 119.33,483.62 119.85,483.26 120.37,482.94 120.89,482.67 121.42,482.44 121.94,482.27 122.46,482.15 122.98,482.07 123.50,482.05 124.02,482.07 124.54,482.15 125.06,482.27 125.58,482.44 126.11,482.67 126.63,482.94 127.15,483.26 127.67,483.62 128.19,484.03 128.71,484.48 129.23,484.98 129.75,485.52 130.27,486.09 130.80,486.71 131.32,487.36 131.84,488.05 132.36,488.76 132.88,489.51 133.40,490.29 133.92,491.09 134.44,491.91 134.96,492.76 135.49,493.62 136.01,494.51 136.53,495.40 137.05,496.31 137.57,497.22 138.09,498.15 138.61,499.08 139.13,500.01 139.65,500.94 140.18,501.87 140.70,502.79 141.22,503.71 141.74,504.61 142.26,505.51 142.78,506.40 143.30,507.27 143.82,508.12 144.34,508.96 144.87,509.78 145.39,510.58 145.91,511.35 146.43,512.11 146.95,512.84 147.47,513.54 147.99,514.22 148.51,514.87 149.03,515.49 149.56,516.09 150.08,516.66 150.60,517.20 151.12,517.71 151.64,518.20 152.16,518.66 152.68,519.09 153.20,519.49 153.72,519.86 154.25,520.21 154.77,520.53 155.29,520.83 155.81,521.11 156.33,521.36 156.85,521.58 157.37,521.79 157.89,521.98 158.41,522.14 158.94,522.29 159.46,522.42 159.98,522.54 160.50,522.64 161.02,522.73 161.54,522.80 162.06,522.86 162.58,522.92 163.10,522.96 163.63,522.99 164.15,523.02 164.67,523.05 165.19,523.06 165.71,523.08 166.23,523.08 166.75,523.09 167.27,523.10 167.79,523.10 168.32,523.10 168.84,523.10 169.36,523.10 169.88,523.10 170.40,523.10" fill="none" stroke="#7E2F8E" stroke-width="0.75" stroke-linejoin="round"/>
<polyline points="76.60,523.10 77.12,523.10 77.64,523.10 78.16,523.10 78.68,523.10 79.21,523.10 79.73,523.10 80.25,523.10 80.77,523.10 81.29,523.10 81.81,523.10 82.33,523.10 82.85,523.10 83.37,523.10 83.90,523.10 84.42,523.10 84.94,523.10 85.46,523.10 85.98,523.10 86.50,523.10 87.02,523.10 87.54,523.10 88.06,523.10 88.59,523.09 89.11,523.09 89.63,523.09 90.15,523.08 90.67,523.08 91.19,523.07 91.71,523.06 92.23,523.04 92.75,523.02 93.28,522.99 93.80,522.96 94.32,522.91 94.84,522.86 95.36,522.79 95.88,522.71 96.40,522.61 96.92,522.49 97.44,522.35 97.97,522.18 98.49,521.97 99.01,521.74 99.53,521.46 100.05,521.15 100.57,520.78 101.09,520.36 101.61,519.89 102.13,519.35 102.66,518.75 103.18,518.07 103.70,517.32 104.22,516.50 104.74,515.59 105.26,514.59 105.78,513.51 106.30,512.33 106.82,511.06 107.35,509.70 107.87,508.25 108.39,506.71 108.91,505.08 109.43,503.37 109.95,501.58 110.47,499.71 110.99,497.77 111.51,495.78 112.04,493.73 112.56,491.64 113.08,489.51 113.60,487.37 114.12,485.22 114.64,483.08 115.16,480.96 115.68,478.87 116.20,476.83 116.73,474.85 117.25,472.94 117.77,471.13 118.29,469.42 118.81,467.83 119.33,466.37 119.85,465.05 120.37,463.88 120.89,462.88 121.42,462.05 121.94,461.39 122.46,460.92 122.98,460.64 123.50,460.54 124.02,460.64 124.54,460.92 125.06,461.39 125.58,462.05 126.11,462.88 126.63,463.88 127.15,465.05 127.67,466.37 128.19,467.83 128.71,469.42 129.23,471.13 129.75,472.94 130.27,474.85 130.80,476.83 131.32,478.87 131.84,480.96 132.36,483.08 132.88,485.22 133.40,487.37 133.92,489.51 134.44,491.64 134.96,493.73 135.49,495.78 136.01,497.77 136.53,499.71 137.05,501.58 137.57,503.37 138.09,505.08 138.61,506.71 139.13,508.25 139.65,509.70 140.18,511.06 140.70,512.33 141.22,513.51 141.74,514.59 142.26,515.59 142.78,516.50 143.30,517.32 143.82,518.07 144.34,518.75 144.87,519.35 145.39,519.89 145.91,520.36 146.43,520.78 146.95,521.15 147.47,521.46 147.99,521.74 148.51,521.97 149.03,522.18 149.56,522.35 150.08,522.49 150.60,522.61 151.12,522.71 151.64,522.79 152.16,522.86 152.68,522.91 153.20,522.96 153.72,522.99 154.25,523.02 154.77,523.04 155.29,523.06 155.81,523.07 156.33,523.08 156.85,523.08 157.37,523.09 157.89,523.09 158.41,523.09 158.94,523.10 159.46,523.10 159.98,523.10 160.50,523.10 161.02,523.10 161.54,523.10 162.06,523.10 162.58,523.10 163.10,523.10 163.63,523.10 164.15,523.10 164.67,523.10 165.19,523.10 165.71,523.10 166.23,523.10 166.75,523.10 167.27,523.10 167.79,523.10 168.32,523.10 168.84,523.10 169.36,523.10 169.88,523.10 170.40,523.10" fill="none" stroke="#77AC30" stroke-width="0.75" stroke-linejoin="round"/>
<polyline points="76.60,523.10 77.12,523.10 77.64,523.10 78.16,523.10 78.68,523.10 79.21,523.10 79.73,523.10 80.25,523.10 80.77,523.10 81.29,523.10 81.81,523.10 82.33,523.10 82.85,523.10 83.37,523.10 83.90,523.10 84.42,523.10 84.94,523.10 85.46,523.10 85.98,523.10 86.50,523.10 87.02,523.10 87.54,523.10 88.06,523.10 88.59,523.10 89.11,523.10 89.63,523.10 90.15,523.10 90.67,523.10 91.19,523.10 91.71,523.10 92.23,523.10 92.75,523.10 93.28,523.10 93.80,523.10 94.32,523.10 94.84,523.10 95.36,523.10 95.88,523.10 96.40,523.10 96.92,523.10 97.44,523.10 97.97,523.10 98.49,523.10 99.01,523.10 99.53,523.10 100.05,523.10 100.57,523.10 101.09,523.10 101.61,523.10 102.13,523.10 102.66,523.10 103.18,523.10 103.70,523.10 104.22,523.10 104.74,523.10 105.26,523.09 105.78,523.09 106.30,523.08 106.82,523.06 107.35,523.04 107.87,523.00 108.39,522.93 108.91,522.83 109.43,522.67 109.95,522.44 110.47,522.10 110.99,521.61 111.51,520.92 112.04,519.97 112.56,518.69 113.08,516.98 113.60,514.77 114.12,511.95 114.64,508.41 115.16,504.08 115.68,498.87 116.20,492.74 116.73,485.66 117.25,477.67 117.77,468.84 118.29,459.32 118.81,449.29 119.33,439.01 119.85,428.77 120.37,418.91 120.89,409.78 121.42,401.72 121.94,395.06 122.46,390.09 122.98,387.02 123.50,385.98 124.02,387.02 124.54,390.09 125.06,395.06 125.58,401.72 126.11,409.78 126.63,418.91 127.15,428.77 127.67,439.01 128.19,449.29 128.71,459.32 129.23,468.84 129.75,477.67 130.27,485.66 130.80,492.74 131.32,498.87 131.84,504.08 132.36,508.41 132.88,511.95 133.40,514.77 133.92,516.98 134.44,518.69 134.96,519.97 135.49,520.92 136.01,521.61 136.53,522.10 137.05,522.44 137.57,522.67 138.09,522.83 138.61,522.93 139.13,523.00 139.65,523.04 140.18,523.06 140.70,523.08 141.22,523.09 141.74,523.09 142.26,523.10 142.78,523.10 143.30,523.10 143.82,523.10 144.34,523.10 144.87,523.10 145.39,523.10 145.91,523.10 146.43,523.10 146.95,523.10 147.47,523.10 147.99,523.10 148.51,523.10 149.03,523.10 149.56,523.10 150.08,523.10 150.60,523.10 151.12,523.10 151.64,523.10 152.16,523.10 152.68,523.10 153.20,523.10 153.72,523.10 154.25,523.10 154.77,523.10 155.29,523.10 155.81,523.10 156.33,523.10 156.85,523.10 157.37,523.10 157.89,523.10 158.41,523.10 158.94,523.10 159.46,523.10 159.98,523.10 160.50,523.10 161.02,523.10 161.54,523.10 162.06,523.10 162.58,523.10 163.10,523.10 163.63,523.10 164.15,523.10 164.67,523.10 165.19,523.10 165.71,523.10 166.23,523.10 166.75,523.10 167.27,523.10 167.79,523.10 168.32,523.10 168.84,523.10 169.36,523.10 169.88,523.10 170.40,523.10" fill="none" stroke="#4DBEEE" stroke-width="0.75" stroke-linejoin="round"/>
<path d="M139.4 389.90H160.5" stroke="#0072BD" stroke-width="1.45"/>
<text x="162.8" y="392.15" class="lg">Chosen DSF</text>
<circle cx="149.6" cy="399.40" r="1.6" fill="#D95319"/>
<text x="162.8" y="401.65" class="lg">Wave directions</text>
<path d="M139.4 408.20H160.5" stroke="#EDB120" stroke-width="0.65"/>
<text x="162.8" y="410.45" class="lg">s=1</text>
<path d="M139.4 417.10H160.5" stroke="#7E2F8E" stroke-width="0.65"/>
<text x="162.8" y="419.35" class="lg">s=2</text>
<path d="M139.4 425.90H160.5" stroke="#77AC30" stroke-width="0.65"/>
<text x="162.8" y="428.15" class="lg">s=5</text>
<path d="M139.4 434.70H160.5" stroke="#4DBEEE" stroke-width="0.65"/>
<text x="162.8" y="436.95" class="lg">s=25</text>
<path d="M351.8 155.0L273.6 117.4M273.6 117.4L273.6 33.4M377.4 147.8L299.2 110.2M299.2 110.2L299.2 26.2M403.1 140.7L324.9 103.1M324.9 103.1L324.9 19.1M428.8 133.5L350.6 95.9M350.6 95.9L350.6 11.9M454.4 126.3L376.2 88.7M376.2 88.7L376.2 4.7M351.8 155.0L454.4 126.3M454.4 126.3L454.4 42.3M312.7 136.2L415.3 107.5M415.3 107.5L415.3 23.5M273.6 117.4L376.2 88.7M376.2 88.7L376.2 4.7M273.6 117.4L376.2 88.7M376.2 88.7L454.4 126.3M273.6 103.4L376.2 74.7M376.2 74.7L454.4 112.3M273.6 89.4L376.2 60.7M376.2 60.7L454.4 98.3M273.6 75.4L376.2 46.7M376.2 46.7L454.4 84.3M273.6 61.4L376.2 32.7M376.2 32.7L454.4 70.3M273.6 47.4L376.2 18.7M376.2 18.7L454.4 56.3M273.6 33.4L376.2 4.7M376.2 4.7L454.4 42.3" fill="none" stroke="#e0e0e0" stroke-width="0.6"/>
<g stroke="#000" stroke-width="0.52" stroke-linejoin="round"><path d="M375.4 48.9l3.4-1l-2.6-.4l-3.4 .8z" fill="#009ab2"/><path d="M372 50.2l3.4-1.3l-2.6-.6l-3.4 1.1z" fill="#0097b3"/><path d="M378 49.4l3.4-1.1l-2.6-.4l-3.4 1z" fill="#00a0af"/><path d="M368.5 52.2l3.5-2l-2.6-.8l-3.5 2.1z" fill="#008fb7"/><path d="M374.6 50.8l3.4-1.4l-2.6-.5l-3.4 1.3z" fill="#009cb1"/><path d="M380.6 49.8l3.4-1l-2.6-.5l-3.4 1.1z" fill="#00a7ac"/><path d="M365.1 54.3l3.4-2.1l-2.6-.7l-3.4 2.3z" fill="#0086bc"/><path d="M371.2 52.7l3.4-1.9l-2.6-.6l-3.5 2z" fill="#0095b5"/><path d="M377.2 51.3l3.4-1.5l-2.6-.4l-3.4 1.4z" fill="#00a3ae"/><path d="M383.2 50.5l3.4-1.3l-2.6-.4l-3.4 1z" fill="#00aba9"/><path d="M361.7 55.9l3.4-1.6l-2.6-.5l-3.4 1.7z" fill="#0081bf"/><path d="M367.7 54.7l3.5-2l-2.7-.5l-3.4 2.1z" fill="#008db9"/><path d="M373.8 53.3l3.4-2l-2.6-.5l-3.4 1.9z" fill="#009ab2"/><path d="M379.8 52.1l3.4-1.6l-2.6-.7l-3.4 1.5z" fill="#00a6ac"/><path d="M358.3 56.5l3.4-.6l-2.6-.4l-3.4 .3z" fill="#0083bd"/><path d="M385.8 51.4l3.4-1.8l-2.6-.4l-3.4 1.3z" fill="#00aea8"/><path d="M364.3 56.3l3.4-1.6l-2.6-.4l-3.4 1.6z" fill="#0088bb"/><path d="M370.3 55.3l3.5-2l-2.6-.6l-3.5 2z" fill="#0092b6"/><path d="M376.4 54.1l3.4-2l-2.6-.8l-3.4 2z" fill="#009eb0"/><path d="M354.9 56.7l3.4-.2l-2.6-.7l-3.4-.2z" fill="#008aba"/><path d="M382.4 53.3l3.4-1.9l-2.6-.9l-3.4 1.6z" fill="#00a7ac"/><path d="M360.9 57.2l3.4-.9l-2.6-.4l-3.4 .6z" fill="#0088bb"/><path d="M388.4 52.5l3.4-2.1l-2.6-.8l-3.4 1.8z" fill="#00afa7"/><path d="M366.9 57l3.4-1.7l-2.6-.6l-3.4 1.6z" fill="#008cb9"/><path d="M372.9 56.2l3.5-2.1l-2.6-.8l-3.5 2z" fill="#0095b5"/><path d="M351.4 57l3.5-.3l-2.6-1.1l-3.5-.2z" fill="#008fb8"/><path d="M379 55.3l3.4-2l-2.6-1.2l-3.4 2z" fill="#009fb0"/><path d="M357.5 57.8l3.4-.6l-2.6-.7l-3.4 .2z" fill="#008bba"/><path d="M385 54.5l3.4-2l-2.6-1.1l-3.4 1.9z" fill="#00a7ac"/><path d="M363.5 58.1l3.4-1.1l-2.6-.7l-3.4 .9z" fill="#008aba"/><path d="M391 53.6l3.4-2.4l-2.6-.8l-3.4 2.1z" fill="#00b0a7"/><path d="M369.5 58l3.4-1.8l-2.6-.9l-3.4 1.7z" fill="#008eb8"/><path d="M348 58.4l3.4-1.4l-2.6-1.6l-3.4 .6z" fill="#008bb9"/><path d="M375.6 57.3l3.4-2l-2.6-1.2l-3.5 2.1z" fill="#0096b4"/><path d="M354.1 58.8l3.4-1l-2.6-1.1l-3.5 .3z" fill="#008aba"/><path d="M381.6 56.5l3.4-2l-2.6-1.2l-3.4 2z" fill="#009fb0"/><path d="M360.1 59.2l3.4-1.1l-2.6-.9l-3.4 .6z" fill="#008aba"/><path d="M387.6 55.8l3.4-2.2l-2.6-1.1l-3.4 2z" fill="#00a7ac"/><path d="M366.1 59.4l3.4-1.4l-2.6-1l-3.4 1.1z" fill="#008aba"/><path d="M344.6 61.6l3.4-3.2l-2.6-2.4l-3.4 2.8z" fill="#0079c2"/><path d="M393.6 54.4l3.5-3.2l-2.7 0l-3.4 2.4z" fill="#00b4a5"/><path d="M372.1 59.2l3.5-1.9l-2.7-1.1l-3.4 1.8z" fill="#008eb8"/><path d="M350.6 60.9l3.5-2.1l-2.7-1.8l-3.4 1.4z" fill="#0082be"/><path d="M378.2 58.4l3.4-1.9l-2.6-1.2l-3.4 2z" fill="#0097b3"/><path d="M356.7 60.8l3.4-1.6l-2.6-1.4l-3.4 1z" fill="#0084bd"/><path d="M384.2 57.8l3.4-2l-2.6-1.3l-3.4 2z" fill="#009fb0"/><path d="M362.7 60.8l3.4-1.4l-2.6-1.3l-3.4 1.1z" fill="#0087bc"/><path d="M341.2 64.6l3.4-3l-2.6-2.8l-3.4 3.4z" fill="#0069ca"/><path d="M390.2 57.1l3.4-2.7l-2.6-.8l-3.4 2.2z" fill="#00a7ac"/><path d="M368.7 60.8l3.4-1.6l-2.6-1.2l-3.4 1.4z" fill="#0089ba"/><path d="M347.2 64.7l3.4-3.8l-2.6-2.5l-3.4 3.2z" fill="#006bca"/><path d="M396.2 55.4l3.5-4.4l-2.6 .2l-3.5 3.2z" fill="#00b6a4"/><path d="M374.7 60.2l3.5-1.8l-2.6-1.1l-3.5 1.9z" fill="#0091b7"/><path d="M353.2 63.5l3.5-2.7l-2.6-2l-3.5 2.1z" fill="#0077c4"/><path d="M380.8 59.5l3.4-1.7l-2.6-1.3l-3.4 1.9z" fill="#0098b3"/><path d="M359.3 63.2l3.4-2.4l-2.6-1.6l-3.4 1.6z" fill="#007cc1"/><path d="M337.8 65l3.4-.4l-2.6-2.4l-3.4 1.8z" fill="#006dc8"/><path d="M386.8 59.1l3.4-2l-2.6-1.3l-3.4 2z" fill="#009eb0"/><path d="M365.3 62.6l3.4-1.8l-2.6-1.4l-3.4 1.4z" fill="#0083be"/><path d="M343.8 68l3.4-3.3l-2.6-3.1l-3.4 3z" fill="#0058d3"/><path d="M392.8 58.7l3.4-3.3l-2.6-1l-3.4 2.7z" fill="#00a3ad"/><path d="M371.3 61.9l3.4-1.7l-2.6-1l-3.4 1.6z" fill="#008bba"/><path d="M349.8 67.2l3.4-3.7l-2.6-2.6l-3.4 3.8z" fill="#0061ce"/><path d="M398.8 57.4l3.5-6.2l-2.6-.2l-3.5 4.4z" fill="#00b1a7"/><path d="M377.3 61.2l3.5-1.7l-2.6-1.1l-3.5 1.8z" fill="#0093b6"/><path d="M355.8 67.1l3.5-3.9l-2.6-2.4l-3.5 2.7z" fill="#0064cd"/><path d="M334.3 64.7l3.5 .3l-2.6-1l-3.5-.4z" fill="#0078c3"/><path d="M383.4 60.8l3.4-1.7l-2.6-1.3l-3.4 1.7z" fill="#0098b3"/><path d="M361.9 65.4l3.4-2.8l-2.6-1.8l-3.4 2.4z" fill="#0074c5"/><path d="M340.4 66.7l3.4 1.3l-2.6-3.4l-3.4 .4z" fill="#006aca"/><path d="M389.4 60.8l3.4-2.1l-2.6-1.6l-3.4 2z" fill="#009bb2"/><path d="M367.9 63.8l3.4-1.9l-2.6-1.1l-3.4 1.8z" fill="#0083be"/><path d="M346.4 70.5l3.4-3.3l-2.6-2.5l-3.4 3.3z" fill="#004ed8"/><path d="M395.4 60.9l3.4-3.5l-2.6-2l-3.4 3.3z" fill="#009cb1"/><path d="M373.9 62.8l3.4-1.6l-2.6-1l-3.4 1.7z" fill="#008db8"/><path d="M352.4 71.2l3.4-4.1l-2.6-3.6l-3.4 3.7z" fill="#004ada"/><path d="M330.9 64.4l3.4 .3l-2.6-1.1l-3.4-.6z" fill="#0082be"/><path d="M401.5 58.9l3.4-5.8l-2.6-1.9l-3.5 6.2z" fill="#00aea8"/><path d="M380 62.3l3.4-1.5l-2.6-1.3l-3.5 1.7z" fill="#0093b5"/><path d="M358.5 69.7l3.4-4.3l-2.6-2.2l-3.5 3.9z" fill="#0059d2"/><path d="M337 66.5l3.4 .2l-2.6-1.7l-3.5-.3z" fill="#0073c5"/><path d="M386 62.4l3.4-1.6l-2.6-1.7l-3.4 1.7z" fill="#0096b4"/><path d="M364.5 66.5l3.4-2.7l-2.6-1.2l-3.4 2.8z" fill="#0075c4"/><path d="M343 70.4l3.4 .1l-2.6-2.5l-3.4-1.3z" fill="#0057d4"/><path d="M392 62.8l3.4-1.9l-2.6-2.2l-3.4 2.1z" fill="#0094b5"/><path d="M370.5 64.7l3.4-1.9l-2.6-.9l-3.4 1.9z" fill="#0085bc"/><path d="M349 73.5l3.4-2.3l-2.6-4l-3.4 3.3z" fill="#0040df"/><path d="M327.5 64.6l3.4-.2l-2.6-1.4l-3.4 .1z" fill="#0087bb"/><path d="M398 62.6l3.5-3.7l-2.7-1.5l-3.4 3.5z" fill="#0098b3"/><path d="M376.5 63.9l3.5-1.6l-2.7-1.1l-3.4 1.6z" fill="#008fb8"/><path d="M355 74.3l3.5-4.6l-2.7-2.6l-3.4 4.1z" fill="#003ce1"/><path d="M333.5 66.6l3.5-.1l-2.7-1.8l-3.4-.3z" fill="#007ac2"/><path d="M404.1 59.9l3.4-5.1l-2.6-1.7l-3.4 5.8z" fill="#00b0a7"/><path d="M382.6 63.7l3.4-1.3l-2.6-1.6l-3.4 1.5z" fill="#0092b6"/><path d="M361.1 69.8l3.4-3.3l-2.6-1.1l-3.4 4.3z" fill="#0062ce"/><path d="M339.6 69.8l3.4 .6l-2.6-3.7l-3.4-.2z" fill="#0063cd"/><path d="M388.6 64.2l3.4-1.4l-2.6-2l-3.4 1.6z" fill="#0091b7"/><path d="M367.1 67.2l3.4-2.5l-2.6-.9l-3.4 2.7z" fill="#0079c2"/><path d="M345.6 73.6l3.4-.1l-2.6-3l-3.4-.1z" fill="#0047dc"/><path d="M324.1 65.6l3.4-1l-2.6-1.5l-3.4 .7z" fill="#0087bb"/><path d="M394.6 64.8l3.4-2.2l-2.6-1.7l-3.4 1.9z" fill="#008fb8"/><path d="M373.1 65.8l3.4-1.9l-2.6-1.1l-3.4 1.9z" fill="#0087bb"/><path d="M351.6 75.8l3.4-1.5l-2.6-3.1l-3.4 2.3z" fill="#0038e3"/><path d="M330.1 67l3.4-.4l-2.6-2.2l-3.4 .2z" fill="#007ec0"/><path d="M400.6 63.9l3.5-4l-2.6-1l-3.5 3.7z" fill="#0098b3"/><path d="M379.1 65.1l3.5-1.4l-2.6-1.4l-3.5 1.6z" fill="#008fb8"/><path d="M357.6 73.4l3.5-3.6l-2.6-.1l-3.5 4.6z" fill="#004ed8"/><path d="M336.1 69.8l3.5 0l-2.6-3.3l-3.5 .1z" fill="#006bca"/><path d="M406.7 61.1l3.4-5l-2.6-1.3l-3.4 5.1z" fill="#00b0a7"/><path d="M385.2 65.4l3.4-1.2l-2.6-1.8l-3.4 1.3z" fill="#008fb7"/><path d="M363.7 70.1l3.4-2.9l-2.6-.7l-3.4 3.3z" fill="#006aca"/><path d="M342.2 73.2l3.4 .4l-2.6-3.2l-3.4-.6z" fill="#0052d6"/><path d="M320.7 66.9l3.4-1.3l-2.6-1.8l-3.4 1.4z" fill="#0084bd"/><path d="M391.2 66.2l3.4-1.4l-2.6-2l-3.4 1.4z" fill="#008bb9"/><path d="M369.7 68.4l3.4-2.6l-2.6-1.1l-3.4 2.5z" fill="#007ac2"/><path d="M348.2 76l3.4-.2l-2.6-2.3l-3.4 .1z" fill="#003de0"/><path d="M326.7 68.2l3.4-1.2l-2.6-2.4l-3.4 1z" fill="#007dc1"/><path d="M397.2 66.4l3.4-2.5l-2.6-1.3l-3.4 2.2z" fill="#008cb9"/><path d="M375.7 67l3.4-1.9l-2.6-1.2l-3.4 1.9z" fill="#0087bb"/><path d="M354.2 76.1l3.4-2.7l-2.6 .9l-3.4 1.5z" fill="#003fe0"/><path d="M332.7 70.4l3.4-.6l-2.6-3.2l-3.4 .4z" fill="#006dc8"/><path d="M403.2 65l3.5-3.9l-2.6-1.2l-3.5 4z" fill="#0099b2"/><path d="M381.7 66.6l3.5-1.2l-2.6-1.7l-3.5 1.4z" fill="#008db9"/><path d="M360.2 73.3l3.5-3.2l-2.6-.3l-3.5 3.6z" fill="#0058d3"/><path d="M338.7 73.2l3.5 0l-2.6-3.4l-3.5 0z" fill="#0059d2"/><path d="M409.3 62.2l3.4-4.7l-2.6-1.4l-3.4 5z" fill="#00b2a6"/><path d="M317.2 68.5l3.5-1.6l-2.6-1.7l-3.5 1.7z" fill="#007fbf"/><path d="M387.8 67.2l3.4-1l-2.6-2l-3.4 1.2z" fill="#008bba"/><path d="M366.3 72.1l3.4-3.7l-2.6-1.2l-3.4 2.9z" fill="#0064cd"/><path d="M344.8 75.9l3.4 .1l-2.6-2.4l-3.4-.4z" fill="#0046dc"/><path d="M323.3 69.5l3.4-1.3l-2.6-2.6l-3.4 1.3z" fill="#007ac2"/><path d="M393.8 68l3.4-1.6l-2.6-1.6l-3.4 1.4z" fill="#0087bc"/><path d="M372.3 69.8l3.4-2.8l-2.6-1.2l-3.4 2.6z" fill="#0078c3"/><path d="M350.8 77.5l3.4-1.4l-2.6-.3l-3.4 .2z" fill="#003ce1"/><path d="M329.3 71.6l3.4-1.2l-2.6-3.4l-3.4 1.2z" fill="#006bc9"/><path d="M399.8 67.8l3.4-2.8l-2.6-1.1l-3.4 2.5z" fill="#008aba"/><path d="M378.3 68.5l3.4-1.9l-2.6-1.5l-3.4 1.9z" fill="#0086bc"/><path d="M356.8 76.9l3.4-3.6l-2.6 .1l-3.4 2.7z" fill="#0043de"/><path d="M335.3 73.8l3.4-.6l-2.6-3.4l-3.4 .6z" fill="#005cd1"/><path d="M405.9 65.9l3.4-3.7l-2.6-1.1l-3.5 3.9z" fill="#009cb1"/><path d="M313.8 69.8l3.4-1.3l-2.6-1.6l-3.4 1z" fill="#007dc1"/><path d="M384.4 68.3l3.4-1.1l-2.6-1.8l-3.5 1.2z" fill="#0089ba"/><path d="M362.9 76.5l3.4-4.4l-2.6-2l-3.5 3.2z" fill="#0049db"/><path d="M341.4 76l3.4-.1l-2.6-2.7l-3.5 0z" fill="#004dd9"/><path d="M411.9 62.8l3.4-4.2l-2.6-1.1l-3.4 4.7z" fill="#00b7a4"/><path d="M319.9 71l3.4-1.5l-2.6-2.6l-3.5 1.6z" fill="#0076c4"/><path d="M390.4 69.1l3.4-1.1l-2.6-1.8l-3.4 1z" fill="#0085bc"/><path d="M368.9 74.3l3.4-4.5l-2.6-1.4l-3.4 3.7z" fill="#005dd1"/><path d="M347.4 77.9l3.4-.4l-2.6-1.5l-3.4-.1z" fill="#0041df"/><path d="M325.9 73l3.4-1.4l-2.6-3.4l-3.4 1.3z" fill="#0068cb"/><path d="M396.4 69.7l3.4-1.9l-2.6-1.4l-3.4 1.6z" fill="#0083bd"/><path d="M374.9 71.6l3.4-3.1l-2.6-1.5l-3.4 2.8z" fill="#0074c5"/><path d="M353.4 78.8l3.4-1.9l-2.6-.8l-3.4 1.4z" fill="#003be1"/><path d="M331.9 75.1l3.4-1.3l-2.6-3.4l-3.4 1.2z" fill="#0059d2"/><path d="M402.4 68.9l3.5-3l-2.7-.9l-3.4 2.8z" fill="#008cb9"/><path d="M310.4 70.1l3.4-.3l-2.6-1.9l-3.4-.1z" fill="#0082be"/><path d="M380.9 70.1l3.5-1.8l-2.7-1.7l-3.4 1.9z" fill="#0083be"/><path d="M359.4 79.5l3.5-3l-2.7-3.2l-3.4 3.6z" fill="#0038e3"/><path d="M337.9 76.7l3.5-.7l-2.7-2.8l-3.4 .6z" fill="#004fd7"/><path d="M408.5 66.5l3.4-3.7l-2.6-.6l-3.4 3.7z" fill="#00a1ae"/><path d="M316.4 72.1l3.5-1.1l-2.7-2.5l-3.4 1.3z" fill="#0074c5"/><path d="M387 70.2l3.4-1.1l-2.6-1.9l-3.4 1.1z" fill="#0084bd"/><path d="M365.5 79.9l3.4-5.6l-2.6-2.2l-3.4 4.4z" fill="#0037e3"/><path d="M344 78.1l3.4-.2l-2.6-2l-3.4 .1z" fill="#0047dc"/><path d="M414.5 63.3l3.4-3.9l-2.6-.8l-3.4 4.2z" fill="#00bda0"/><path d="M322.5 74.3l3.4-1.3l-2.6-3.5l-3.4 1.5z" fill="#0065cc"/><path d="M393 70.9l3.4-1.2l-2.6-1.7l-3.4 1.1z" fill="#0081be"/><path d="M371.5 76.2l3.4-4.6l-2.6-1.8l-3.4 4.5z" fill="#0057d3"/><path d="M350 79.4l3.4-.6l-2.6-1.3l-3.4 .4z" fill="#003ee0"/><path d="M328.5 76.6l3.4-1.5l-2.6-3.5l-3.4 1.4z" fill="#0055d4"/><path d="M399 71l3.4-2.1l-2.6-1.1l-3.4 1.9z" fill="#0082be"/><path d="M307 70.5l3.4-.4l-2.6-2.3l-3.4 0z" fill="#0087bc"/><path d="M377.5 73.3l3.4-3.2l-2.6-1.6l-3.4 3.1z" fill="#0071c7"/><path d="M356 80.8l3.4-1.3l-2.6-2.6l-3.4 1.9z" fill="#0035e4"/><path d="M334.5 77.9l3.4-1.2l-2.6-2.9l-3.4 1.3z" fill="#004dd9"/><path d="M405 69.6l3.5-3.1l-2.6-.6l-3.5 3z" fill="#0090b7"/><path d="M313 72.7l3.4-.6l-2.6-2.3l-3.4 .3z" fill="#0077c3"/><path d="M383.5 72l3.5-1.8l-2.6-1.9l-3.5 1.8z" fill="#007ec0"/><path d="M362 82.4l3.5-2.5l-2.6-3.4l-3.5 3z" fill="#002be9"/><path d="M340.5 78.6l3.5-.5l-2.6-2.1l-3.5 .7z" fill="#004ada"/><path d="M411.1 66.9l3.4-3.6l-2.6-.5l-3.4 3.7z" fill="#00a8ab"/><path d="M319 75.1l3.5-.8l-2.6-3.3l-3.5 1.1z" fill="#0066cc"/><path d="M389.6 72.1l3.4-1.2l-2.6-1.8l-3.4 1.1z" fill="#007fbf"/><path d="M368.1 81.2l3.4-5l-2.6-1.9l-3.4 5.6z" fill="#0037e3"/><path d="M346.6 79.5l3.4-.1l-2.6-1.5l-3.4 .2z" fill="#0045dd"/><path d="M417.1 63.7l3.4-3.9l-2.6-.4l-3.4 3.9z" fill="#00c49d"/><path d="M325.1 77.8l3.4-1.2l-2.6-3.6l-3.4 1.3z" fill="#0053d5"/><path d="M395.6 72.5l3.4-1.5l-2.6-1.3l-3.4 1.2z" fill="#007ec0"/><path d="M303.6 71.5l3.4-1l-2.6-2.7l-3.4 .9z" fill="#0086bc"/><path d="M374.1 77.8l3.4-4.5l-2.6-1.7l-3.4 4.6z" fill="#0055d5"/><path d="M352.6 81l3.4-.2l-2.6-2l-3.4 .6z" fill="#003be1"/><path d="M331.1 79.6l3.4-1.7l-2.6-2.8l-3.4 1.5z" fill="#0047db"/><path d="M401.6 72l3.4-2.4l-2.6-.7l-3.4 2.1z" fill="#0084bd"/><path d="M309.6 73.1l3.4-.4l-2.6-2.6l-3.4 .4z" fill="#007bc1"/><path d="M380.1 74.9l3.4-2.9l-2.6-1.9l-3.4 3.2z" fill="#006ec8"/><path d="M358.6 83.1l3.4-.7l-2.6-2.9l-3.4 1.3z" fill="#002de9"/><path d="M337.1 79.6l3.4-1l-2.6-1.9l-3.4 1.2z" fill="#0049da"/><path d="M407.6 70.1l3.5-3.2l-2.6-.4l-3.5 3.1z" fill="#0097b4"/><path d="M315.6 75.5l3.4-.4l-2.6-3l-3.4 .6z" fill="#006bca"/><path d="M386.1 73.7l3.5-1.6l-2.6-1.9l-3.5 1.8z" fill="#007ac2"/><path d="M364.6 84.1l3.5-2.9l-2.6-1.3l-3.5 2.5z" fill="#0027eb"/><path d="M343.1 79.8l3.5-.3l-2.6-1.4l-3.5 .5z" fill="#004ada"/><path d="M413.7 67.2l3.4-3.5l-2.6-.4l-3.4 3.6z" fill="#00afa7"/><path d="M321.6 78.2l3.5-.4l-2.6-3.5l-3.5 .8z" fill="#0057d3"/><path d="M392.2 73.8l3.4-1.3l-2.6-1.6l-3.4 1.2z" fill="#007bc1"/><path d="M300.1 72.8l3.5-1.3l-2.6-2.8l-3.5 1.6z" fill="#0083bd"/><path d="M370.7 82.3l3.4-4.5l-2.6-1.6l-3.4 5z" fill="#0038e3"/><path d="M349.2 80.8l3.4 .2l-2.6-1.6l-3.4 .1z" fill="#0044dd"/><path d="M419.7 63.8l3.4-3.9l-2.6-.1l-3.4 3.9z" fill="#00cd98"/><path d="M327.7 80.7l3.4-1.1l-2.6-3l-3.4 1.2z" fill="#0046dc"/><path d="M398.2 74l3.4-2l-2.6-1l-3.4 1.5z" fill="#007cc1"/><path d="M306.2 73.8l3.4-.7l-2.6-2.6l-3.4 1z" fill="#007dc0"/><path d="M376.7 79l3.4-4.1l-2.6-1.6l-3.4 4.5z" fill="#0055d5"/><path d="M355.2 82.9l3.4 .2l-2.6-2.3l-3.4 .2z" fill="#0036e4"/><path d="M333.7 81l3.4-1.4l-2.6-1.7l-3.4 1.7z" fill="#0046dc"/><path d="M404.2 72.9l3.4-2.8l-2.6-.5l-3.4 2.4z" fill="#0087bb"/><path d="M312.2 75.6l3.4-.1l-2.6-2.8l-3.4 .4z" fill="#0072c6"/><path d="M382.7 76.2l3.4-2.5l-2.6-1.7l-3.4 2.9z" fill="#006ec8"/><path d="M361.2 85.1l3.4-1l-2.6-1.7l-3.4 .7z" fill="#0027eb"/><path d="M339.7 80.5l3.4-.7l-2.6-1.2l-3.4 1z" fill="#004cd9"/><path d="M410.3 70.5l3.4-3.3l-2.6-.3l-3.5 3.2z" fill="#009db1"/><path d="M318.2 78.1l3.4 .1l-2.6-3.1l-3.4 .4z" fill="#0060cf"/><path d="M388.8 75.4l3.4-1.6l-2.6-1.7l-3.5 1.6z" fill="#0076c4"/><path d="M296.7 74l3.4-1.2l-2.6-2.5l-3.4 .8z" fill="#0081be"/><path d="M367.3 85.4l3.4-3.1l-2.6-1.1l-3.5 2.9z" fill="#0027ec"/><path d="M345.8 80.9l3.4-.1l-2.6-1.3l-3.5 .3z" fill="#004bd9"/><path d="M416.3 67.6l3.4-3.8l-2.6-.1l-3.4 3.5z" fill="#00b6a4"/><path d="M324.3 80.7l3.4 0l-2.6-2.9l-3.5 .4z" fill="#004ed8"/><path d="M394.8 75.6l3.4-1.6l-2.6-1.5l-3.4 1.3z" fill="#0077c4"/><path d="M302.8 74.9l3.4-1.1l-2.6-2.3l-3.5 1.3z" fill="#007dc1"/><path d="M373.3 83.5l3.4-4.5l-2.6-1.2l-3.4 4.5z" fill="#0038e3"/><path d="M351.8 82.4l3.4 .5l-2.6-1.9l-3.4-.2z" fill="#0042de"/><path d="M422.3 63.9l3.4-4.1l-2.6 .1l-3.4 3.9z" fill="#00d794"/><path d="M330.3 81.9l3.4-.9l-2.6-1.4l-3.4 1.1z" fill="#0047dc"/><path d="M400.8 75.4l3.4-2.5l-2.6-.9l-3.4 2z" fill="#007bc2"/><path d="M308.8 75.9l3.4-.3l-2.6-2.5l-3.4 .7z" fill="#0077c3"/><path d="M379.3 79.8l3.4-3.6l-2.6-1.3l-3.4 4.1z" fill="#0058d3"/><path d="M357.8 84.9l3.4 .2l-2.6-2l-3.4-.2z" fill="#0030e7"/><path d="M336.3 81.5l3.4-1l-2.6-.9l-3.4 1.4z" fill="#004cd9"/><path d="M406.8 73.8l3.5-3.3l-2.7-.4l-3.4 2.8z" fill="#008bba"/><path d="M314.8 77.7l3.4 .4l-2.6-2.6l-3.4 .1z" fill="#006bc9"/><path d="M385.3 77.7l3.5-2.3l-2.7-1.7l-3.4 2.5z" fill="#006cc9"/><path d="M293.3 76.5l3.4-2.5l-2.6-2.9l-3.4 1.9z" fill="#0075c4"/><path d="M363.8 86.7l3.5-1.3l-2.7-1.3l-3.4 1z" fill="#0024ed"/><path d="M342.3 81.6l3.5-.7l-2.7-1.1l-3.4 .7z" fill="#004ed8"/><path d="M412.9 71.2l3.4-3.6l-2.6-.4l-3.4 3.3z" fill="#00a2ae"/><path d="M320.8 80.1l3.5 .6l-2.7-2.5l-3.4-.1z" fill="#005ad2"/><path d="M391.4 77.3l3.4-1.7l-2.6-1.8l-3.4 1.6z" fill="#0071c6"/><path d="M299.3 76.2l3.5-1.3l-2.7-2.1l-3.4 1.2z" fill="#0079c2"/><path d="M369.9 86.7l3.4-3.2l-2.6-1.2l-3.4 3.1z" fill="#0027ec"/><path d="M348.4 82.4l3.4 0l-2.6-1.6l-3.4 .1z" fill="#004ada"/><path d="M418.9 67.9l3.4-4l-2.6-.1l-3.4 3.8z" fill="#00bea0"/><path d="M326.9 81.8l3.4 .1l-2.6-1.2l-3.4 0z" fill="#004fd7"/><path d="M397.4 77.6l3.4-2.2l-2.6-1.4l-3.4 1.6z" fill="#0071c6"/><path d="M305.4 76.5l3.4-.6l-2.6-2.1l-3.4 1.1z" fill="#007ac2"/><path d="M375.9 84.6l3.4-4.8l-2.6-.8l-3.4 4.5z" fill="#003ae2"/><path d="M354.4 84.4l3.4 .5l-2.6-2l-3.4-.5z" fill="#003ce1"/><path d="M424.9 63.7l3.4-4l-2.6 .1l-3.4 4.1z" fill="#00e28e"/><path d="M332.9 82l3.4-.5l-2.6-.5l-3.4 .9z" fill="#004fd7"/><path d="M403.4 76.8l3.4-3l-2.6-.9l-3.4 2.5z" fill="#007ac2"/><path d="M311.4 77.4l3.4 .3l-2.6-2.1l-3.4 .3z" fill="#0075c5"/><path d="M381.9 81.1l3.4-3.4l-2.6-1.5l-3.4 3.6z" fill="#0059d3"/><path d="M289.9 79.8l3.4-3.3l-2.6-3.5l-3.4 3.6z" fill="#0063ce"/><path d="M360.4 86.9l3.4-.2l-2.6-1.6l-3.4-.2z" fill="#002bea"/><path d="M338.9 82.7l3.4-1.1l-2.6-1.1l-3.4 1z" fill="#004cd9"/><path d="M409.4 74.5l3.5-3.3l-2.6-.7l-3.5 3.3z" fill="#008eb8"/><path d="M317.4 79.1l3.4 1l-2.6-2l-3.4-.4z" fill="#006aca"/><path d="M387.9 79.5l3.5-2.2l-2.6-1.9l-3.5 2.3z" fill="#0067cb"/><path d="M295.9 78.5l3.4-2.3l-2.6-2.2l-3.4 2.5z" fill="#006fc7"/><path d="M366.4 88.2l3.5-1.5l-2.6-1.3l-3.5 1.3z" fill="#0023ee"/><path d="M344.9 83.6l3.5-1.2l-2.6-1.5l-3.5 .7z" fill="#0048db"/><path d="M415.5 71.7l3.4-3.8l-2.6-.3l-3.4 3.6z" fill="#00a8ab"/><path d="M323.4 81.1l3.5 .7l-2.6-1.1l-3.5-.6z" fill="#005cd1"/><path d="M394 79.5l3.4-1.9l-2.6-2l-3.4 1.7z" fill="#006aca"/><path d="M301.9 77.6l3.5-1.1l-2.6-1.6l-3.5 1.3z" fill="#0078c3"/><path d="M372.5 87.9l3.4-3.3l-2.6-1.1l-3.4 3.2z" fill="#0027eb"/><path d="M351 84.5l3.4-.1l-2.6-2l-3.4 0z" fill="#0043de"/><path d="M421.5 68l3.4-4.3l-2.6 .2l-3.4 4z" fill="#00c89b"/><path d="M329.5 81.5l3.4 .5l-2.6-.1l-3.4-.1z" fill="#005cd1"/><path d="M400 79.5l3.4-2.7l-2.6-1.4l-3.4 2.2z" fill="#006cc9"/><path d="M308 77.7l3.4-.3l-2.6-1.5l-3.4 .6z" fill="#007ac2"/><path d="M378.5 86.1l3.4-5l-2.6-1.3l-3.4 4.8z" fill="#0038e3"/><path d="M286.5 82.5l3.4-2.7l-2.6-3.2l-3.4 3.2z" fill="#0054d5"/><path d="M357 86.7l3.4 .2l-2.6-2l-3.4-.5z" fill="#0034e5"/><path d="M427.5 63.5l3.4-3.6l-2.6-.2l-3.4 4z" fill="#00ee88"/><path d="M335.5 83.5l3.4-.8l-2.6-1.2l-3.4 .5z" fill="#004ed8"/><path d="M406 77.8l3.4-3.3l-2.6-.7l-3.4 3z" fill="#007cc1"/><path d="M314 78.3l3.4 .8l-2.6-1.4l-3.4-.3z" fill="#0077c3"/><path d="M384.5 82.9l3.4-3.4l-2.6-1.8l-3.4 3.4z" fill="#0054d5"/><path d="M292.5 81.4l3.4-2.9l-2.6-2l-3.4 3.3z" fill="#0060cf"/><path d="M363 88.5l3.4-.3l-2.6-1.5l-3.4 .2z" fill="#0027eb"/><path d="M341.5 85.4l3.4-1.8l-2.6-2l-3.4 1.1z" fill="#0041df"/><path d="M412 75l3.5-3.3l-2.6-.5l-3.5 3.3z" fill="#0094b5"/><path d="M320 79.5l3.4 1.6l-2.6-1l-3.4-1z" fill="#0070c7"/><path d="M390.5 81.6l3.5-2.1l-2.6-2.2l-3.5 2.2z" fill="#0060cf"/><path d="M298.5 79.5l3.4-1.9l-2.6-1.4l-3.4 2.3z" fill="#0071c7"/><path d="M369 89.3l3.5-1.4l-2.6-1.2l-3.5 1.5z" fill="#0023ed"/><path d="M347.5 85.6l3.5-1.1l-2.6-2.1l-3.5 1.2z" fill="#0041de"/><path d="M418.1 71.8l3.4-3.8l-2.6-.1l-3.4 3.8z" fill="#00b1a7"/><path d="M326 80.8l3.5 .7l-2.6 .3l-3.5-.7z" fill="#0068cb"/><path d="M396.6 81.8l3.4-2.3l-2.6-1.9l-3.4 1.9z" fill="#0061ce"/><path d="M304.5 78.6l3.5-.9l-2.6-1.2l-3.5 1.1z" fill="#007bc2"/><path d="M375.1 88.9l3.4-2.8l-2.6-1.5l-3.4 3.3z" fill="#0029ea"/><path d="M283 86.3l3.5-3.8l-2.6-2.7l-3.5 5.2z" fill="#003ee0"/><path d="M353.6 86.8l3.4-.1l-2.6-2.3l-3.4 .1z" fill="#003be2"/><path d="M424.1 67.4l3.4-3.9l-2.6 .2l-3.4 4.3z" fill="#00d694"/><path d="M332.1 82.7l3.4 .8l-2.6-1.5l-3.4-.5z" fill="#005cd1"/><path d="M402.6 81l3.4-3.2l-2.6-1l-3.4 2.7z" fill="#006aca"/><path d="M310.6 78.4l3.4-.1l-2.6-.9l-3.4 .3z" fill="#007ec0"/><path d="M381.1 86.8l3.4-3.9l-2.6-1.8l-3.4 5z" fill="#003de1"/><path d="M289.1 84.4l3.4-3l-2.6-1.6l-3.4 2.7z" fill="#0050d7"/><path d="M359.6 88.5l3.4 0l-2.6-1.6l-3.4-.2z" fill="#002fe7"/><path d="M430.1 63.2l3.4-3l-2.6-.3l-3.4 3.6z" fill="#00fa82"/><path d="M338.1 85.9l3.4-.5l-2.6-2.7l-3.4 .8z" fill="#0045dd"/><path d="M408.6 78.4l3.4-3.4l-2.6-.5l-3.4 3.3z" fill="#0081be"/><path d="M316.6 78.4l3.4 1.1l-2.6-.4l-3.4-.8z" fill="#0081bf"/><path d="M387.1 84.6l3.4-3l-2.6-2.1l-3.4 3.4z" fill="#0050d7"/><path d="M295.1 82.2l3.4-2.7l-2.6-1l-3.4 2.9z" fill="#0063ce"/><path d="M365.6 89.8l3.4-.5l-2.6-1.1l-3.4 .3z" fill="#0027eb"/><path d="M344.1 86.9l3.4-1.3l-2.6-2l-3.4 1.8z" fill="#003fe0"/><path d="M414.7 75.3l3.4-3.5l-2.6-.1l-3.5 3.3z" fill="#009db1"/><path d="M322.6 79.2l3.4 1.6l-2.6 .3l-3.4-1.6z" fill="#007dc0"/><path d="M393.2 84.1l3.4-2.3l-2.6-2.3l-3.5 2.1z" fill="#0057d4"/><path d="M301.1 80.2l3.4-1.6l-2.6-1l-3.4 1.9z" fill="#0075c4"/><path d="M371.7 90.2l3.4-1.3l-2.6-1l-3.5 1.4z" fill="#0026ec"/><path d="M279.6 89.5l3.4-3.2l-2.6-1.3l-3.4 3.3z" fill="#002ce9"/><path d="M350.2 87.4l3.4-.6l-2.6-2.3l-3.5 1.1z" fill="#003ee0"/><path d="M420.7 71.4l3.4-4l-2.6 .6l-3.4 3.8z" fill="#00bea0"/><path d="M328.7 81.3l3.4 1.4l-2.6-1.2l-3.5-.7z" fill="#006fc8"/><path d="M399.2 83.9l3.4-2.9l-2.6-1.5l-3.4 2.3z" fill="#005bd2"/><path d="M307.2 79.4l3.4-1l-2.6-.7l-3.5 .9z" fill="#007ec0"/><path d="M377.7 89.4l3.4-2.6l-2.6-.7l-3.4 2.8z" fill="#002fe8"/><path d="M285.7 87.5l3.4-3.1l-2.6-1.9l-3.5 3.8z" fill="#003ee0"/><path d="M356.2 88.5l3.4 0l-2.6-1.8l-3.4 .1z" fill="#0037e3"/><path d="M426.7 66.7l3.4-3.5l-2.6 .3l-3.4 3.9z" fill="#00e68c"/><path d="M334.7 84.9l3.4 1l-2.6-2.4l-3.4-.8z" fill="#0054d5"/><path d="M405.2 81.9l3.4-3.5l-2.6-.6l-3.4 3.2z" fill="#006dc9"/><path d="M313.2 78.6l3.4-.2l-2.6-.1l-3.4 .1z" fill="#0087bc"/><path d="M383.7 87.6l3.4-3l-2.6-1.7l-3.4 3.9z" fill="#0040df"/><path d="M291.7 85.3l3.4-3.1l-2.6-.8l-3.4 3z" fill="#0052d6"/><path d="M362.2 89.8l3.4 0l-2.6-1.3l-3.4 0z" fill="#002fe7"/><path d="M432.7 63.2l3.5-2.5l-2.7-.5l-3.4 3z" fill="#00ff80"/><path d="M340.7 87.2l3.4-.3l-2.6-1.5l-3.4 .5z" fill="#0044dd"/><path d="M411.2 78.7l3.5-3.4l-2.7-.3l-3.4 3.4z" fill="#0089bb"/><path d="M319.2 78l3.4 1.2l-2.6 .3l-3.4-1.1z" fill="#008eb8"/><path d="M389.7 86.5l3.5-2.4l-2.7-2.5l-3.4 3z" fill="#004bd9"/><path d="M297.7 82.8l3.4-2.6l-2.6-.7l-3.4 2.7z" fill="#0068cb"/><path d="M368.2 90.6l3.5-.4l-2.7-.9l-3.4 .5z" fill="#002bea"/><path d="M276.2 91.6l3.4-2.1l-2.6-1.2l-3.4 1.9z" fill="#0023ee"/><path d="M346.7 87.9l3.5-.5l-2.7-1.8l-3.4 1.3z" fill="#0041df"/><path d="M417.3 75.3l3.4-3.9l-2.6 .4l-3.4 3.5z" fill="#00a7ac"/><path d="M325.2 79.5l3.5 1.8l-2.7-.5l-3.4-1.6z" fill="#0085bd"/><path d="M395.8 86.4l3.4-2.5l-2.6-2.1l-3.4 2.3z" fill="#004ed8"/><path d="M303.7 81l3.5-1.6l-2.7-.8l-3.4 1.6z" fill="#0079c3"/><path d="M374.3 90.8l3.4-1.4l-2.6-.5l-3.4 1.3z" fill="#002ce9"/><path d="M282.2 90.4l3.5-2.9l-2.7-1.2l-3.4 3.2z" fill="#002fe8"/><path d="M352.8 88.6l3.4-.1l-2.6-1.7l-3.4 .6z" fill="#003de0"/><path d="M423.3 70.8l3.4-4.1l-2.6 .7l-3.4 4z" fill="#00cd99"/><path d="M331.3 82.7l3.4 2.2l-2.6-2.2l-3.4-1.4z" fill="#006ec8"/><path d="M401.8 85.5l3.4-3.6l-2.6-.9l-3.4 2.9z" fill="#0057d3"/><path d="M309.8 79.8l3.4-1.2l-2.6-.2l-3.4 1z" fill="#0085bd"/><path d="M380.3 90l3.4-2.4l-2.6-.8l-3.4 2.6z" fill="#0034e5"/><path d="M288.3 88.4l3.4-3.1l-2.6-.9l-3.4 3.1z" fill="#0041df"/><path d="M358.8 89.6l3.4 .2l-2.6-1.3l-3.4 0z" fill="#0038e3"/><path d="M429.3 66.2l3.4-3l-2.6 0l-3.4 3.5z" fill="#00f485"/><path d="M337.3 86.1l3.4 1.1l-2.6-1.3l-3.4-1z" fill="#0055d5"/><path d="M407.8 82.5l3.4-3.8l-2.6-.3l-3.4 3.5z" fill="#0072c6"/><path d="M315.8 78.5l3.4-.5l-2.6 .4l-3.4 .2z" fill="#0092b6"/><path d="M386.3 88.9l3.4-2.4l-2.6-1.9l-3.4 3z" fill="#0040df"/><path d="M294.3 85.9l3.4-3.1l-2.6-.6l-3.4 3.1z" fill="#0057d3"/><path d="M364.8 90.6l3.4 0l-2.6-.8l-3.4 0z" fill="#0033e6"/><path d="M435.3 63.9l3.5-2.4l-2.6-.8l-3.5 2.5z" fill="#00ff80"/><path d="M343.3 87.7l3.4 .2l-2.6-1l-3.4 .3z" fill="#004ada"/><path d="M413.8 79.1l3.5-3.8l-2.6 0l-3.5 3.4z" fill="#008fb7"/><path d="M321.8 78.3l3.4 1.2l-2.6-.3l-3.4-1.2z" fill="#0095b4"/><path d="M392.3 88.6l3.5-2.2l-2.6-2.3l-3.5 2.4z" fill="#0045dd"/><path d="M300.3 83.4l3.4-2.4l-2.6-.8l-3.4 2.6z" fill="#006dc8"/><path d="M370.8 91.2l3.5-.4l-2.6-.6l-3.5 .4z" fill="#0030e7"/><path d="M278.8 92.6l3.4-2.2l-2.6-.9l-3.4 2.1z" fill="#0024ed"/><path d="M349.3 88.7l3.5-.1l-2.6-1.2l-3.5 .5z" fill="#0045dd"/><path d="M419.9 75.2l3.4-4.4l-2.6 .6l-3.4 3.9z" fill="#00b1a7"/><path d="M327.8 80.4l3.5 2.3l-2.6-1.4l-3.5-1.8z" fill="#0087bb"/><path d="M398.4 88.6l3.4-3.1l-2.6-1.6l-3.4 2.5z" fill="#0047dc"/><path d="M306.3 81.6l3.5-1.8l-2.6-.4l-3.5 1.6z" fill="#007ec0"/><path d="M376.9 91.4l3.4-1.4l-2.6-.6l-3.4 1.4z" fill="#0030e7"/><path d="M284.8 91.1l3.5-2.7l-2.6-.9l-3.5 2.9z" fill="#0033e6"/><path d="M355.4 89.4l3.4 .2l-2.6-1.1l-3.4 .1z" fill="#0041de"/><path d="M425.9 70.3l3.4-4.1l-2.6 .5l-3.4 4.1z" fill="#00da92"/><path d="M333.9 83.6l3.4 2.5l-2.6-1.2l-3.4-2.2z" fill="#0070c7"/><path d="M404.4 86.6l3.4-4.1l-2.6-.6l-3.4 3.6z" fill="#0059d2"/><path d="M312.4 79.9l3.4-1.4l-2.6 .1l-3.4 1.2z" fill="#008eb8"/><path d="M382.9 91l3.4-2.1l-2.6-1.3l-3.4 2.4z" fill="#0037e4"/><path d="M290.9 89l3.4-3.1l-2.6-.6l-3.4 3.1z" fill="#0046dc"/><path d="M361.4 90.3l3.4 .3l-2.6-.8l-3.4-.2z" fill="#003ce1"/><path d="M431.9 66.6l3.4-2.7l-2.6-.7l-3.4 3z" fill="#00fb82"/><path d="M339.9 86.2l3.4 1.5l-2.6-.5l-3.4-1.1z" fill="#005ed0"/><path d="M410.4 83.1l3.4-4l-2.6-.4l-3.4 3.8z" fill="#0077c4"/><path d="M318.4 78.7l3.4-.4l-2.6-.3l-3.4 .5z" fill="#009ab2"/><path d="M388.9 90.5l3.4-1.9l-2.6-2.1l-3.4 2.4z" fill="#003de0"/><path d="M296.9 86.3l3.4-2.9l-2.6-.6l-3.4 3.1z" fill="#005ed0"/><path d="M367.4 91.1l3.4 .1l-2.6-.6l-3.4 0z" fill="#0038e3"/><path d="M437.9 65.1l3.5-2.5l-2.6-1.1l-3.5 2.4z" fill="#00ff80"/><path d="M345.9 87.9l3.4 .8l-2.6-.8l-3.4-.2z" fill="#0053d6"/><path d="M416.4 79.6l3.5-4.4l-2.6 .1l-3.5 3.8z" fill="#0096b4"/><path d="M324.4 79.2l3.4 1.2l-2.6-.9l-3.4-1.2z" fill="#0098b3"/><path d="M394.9 90.7l3.5-2.1l-2.6-2.2l-3.5 2.2z" fill="#003ee0"/><path d="M302.9 83.9l3.4-2.3l-2.6-.6l-3.4 2.4z" fill="#0073c5"/><path d="M373.4 92l3.5-.6l-2.6-.6l-3.5 .4z" fill="#0034e5"/><path d="M281.4 93.4l3.4-2.3l-2.6-.7l-3.4 2.2z" fill="#0028eb"/><path d="M351.9 88.9l3.5 .5l-2.6-.8l-3.5 .1z" fill="#004dd8"/><path d="M422.5 75.1l3.4-4.8l-2.6 .5l-3.4 4.4z" fill="#00bca1"/><path d="M330.4 81.2l3.5 2.4l-2.6-.9l-3.5-2.3z" fill="#008bba"/><path d="M401 90l3.4-3.4l-2.6-1.1l-3.4 3.1z" fill="#0045dc"/><path d="M308.9 81.9l3.5-2l-2.6-.1l-3.5 1.8z" fill="#0086bc"/><path d="M379.5 92.4l3.4-1.4l-2.6-1l-3.4 1.4z" fill="#0033e6"/><path d="M287.4 91.6l3.5-2.6l-2.6-.6l-3.5 2.7z" fill="#0039e2"/><path d="M358 89.7l3.4 .6l-2.6-.7l-3.4-.2z" fill="#0049db"/><path d="M428.5 70.2l3.4-3.6l-2.6-.4l-3.4 4.1z" fill="#00e58c"/><path d="M336.5 83.9l3.4 2.3l-2.6-.1l-3.4-2.5z" fill="#0078c3"/><path d="M407 87.1l3.4-4l-2.6-.6l-3.4 4.1z" fill="#005fd0"/><path d="M315 80.1l3.4-1.4l-2.6-.2l-3.4 1.4z" fill="#0097b4"/><path d="M385.5 92.3l3.4-1.8l-2.6-1.6l-3.4 2.1z" fill="#0036e4"/><path d="M293.5 89.2l3.4-2.9l-2.6-.4l-3.4 3.1z" fill="#004fd8"/><path d="M364 90.9l3.4 .2l-2.6-.5l-3.4-.3z" fill="#0042de"/><path d="M434.5 67.6l3.4-2.5l-2.6-1.2l-3.4 2.7z" fill="#00fc81"/><path d="M342.5 86l3.4 1.9l-2.6-.2l-3.4-1.5z" fill="#0069ca"/><path d="M413 83.7l3.4-4.1l-2.6-.5l-3.4 4z" fill="#007dc1"/><path d="M321 79.4l3.4-.2l-2.6-.9l-3.4 .4z" fill="#009fb0"/><path d="M391.5 92.4l3.4-1.7l-2.6-2.1l-3.4 1.9z" fill="#0038e3"/><path d="M299.5 86.6l3.4-2.7l-2.6-.5l-3.4 2.9z" fill="#0066cc"/><path d="M370 92l3.4 0l-2.6-.8l-3.4-.1z" fill="#003be1"/><path d="M440.6 66.2l3.4-2.6l-2.6-1l-3.5 2.5z" fill="#00ff80"/><path d="M348.5 87.6l3.4 1.3l-2.6-.2l-3.4-.8z" fill="#005fcf"/><path d="M419.1 79.9l3.4-4.8l-2.6 .1l-3.5 4.4z" fill="#009db0"/><path d="M327 80l3.4 1.2l-2.6-.8l-3.4-1.2z" fill="#009cb1"/><path d="M397.6 92.3l3.4-2.3l-2.6-1.4l-3.5 2.1z" fill="#003be2"/><path d="M305.5 84.2l3.4-2.3l-2.6-.3l-3.4 2.3z" fill="#007bc1"/><path d="M376.1 93.1l3.4-.7l-2.6-1l-3.5 .6z" fill="#0035e4"/><path d="M284 93.8l3.4-2.2l-2.6-.5l-3.4 2.3z" fill="#002fe8"/><path d="M354.6 88.6l3.4 1.1l-2.6-.3l-3.5-.5z" fill="#005ad2"/><path d="M425.1 74.9l3.4-4.7l-2.6 .1l-3.4 4.8z" fill="#00c79b"/><path d="M333.1 81.8l3.4 2.1l-2.6-.3l-3.5-2.4z" fill="#0090b7"/><path d="M403.6 90.5l3.4-3.4l-2.6-.5l-3.4 3.4z" fill="#004bd9"/><path d="M311.6 82.1l3.4-2l-2.6-.2l-3.5 2z" fill="#008fb8"/><path d="M382.1 93.7l3.4-1.4l-2.6-1.3l-3.4 1.4z" fill="#0033e6"/><path d="M290.1 91.7l3.4-2.5l-2.6-.2l-3.5 2.6z" fill="#0042de"/><path d="M360.6 90l3.4 .9l-2.6-.6l-3.4-.6z" fill="#0050d7"/><path d="M431.1 70.8l3.4-3.2l-2.6-1l-3.4 3.6z" fill="#00ea8a"/><path d="M339.1 83.9l3.4 2.1l-2.6 .2l-3.4-2.3z" fill="#0082be"/><path d="M409.6 87.4l3.4-3.7l-2.6-.6l-3.4 4z" fill="#0067cc"/><path d="M317.6 80.5l3.4-1.1l-2.6-.7l-3.4 1.4z" fill="#009db0"/><path d="M388.1 93.9l3.4-1.5l-2.6-1.9l-3.4 1.8z" fill="#0033e5"/><path d="M296.1 89.3l3.4-2.7l-2.6-.3l-3.4 2.9z" fill="#0058d3"/><path d="M366.6 91.7l3.4 .3l-2.6-.9l-3.4-.2z" fill="#0045dc"/><path d="M437.1 68.9l3.5-2.7l-2.7-1.1l-3.4 2.5z" fill="#00fc81"/><path d="M345.1 85.5l3.4 2.1l-2.6 .3l-3.4-1.9z" fill="#0078c3"/><path d="M415.6 83.8l3.5-3.9l-2.7-.3l-3.4 4.1z" fill="#0086bc"/><path d="M323.6 80.1l3.4-.1l-2.6-.8l-3.4 .2z" fill="#00a3ae"/><path d="M394.1 94l3.5-1.7l-2.7-1.6l-3.4 1.7z" fill="#0035e5"/><path d="M302.1 86.8l3.4-2.6l-2.6-.3l-3.4 2.7z" fill="#006ec8"/><path d="M372.6 93.2l3.5-.1l-2.7-1.1l-3.4 0z" fill="#003ce1"/><path d="M443.2 67.5l3.4-2.4l-2.6-1.5l-3.4 2.6z" fill="#00ff80"/><path d="M351.1 86.8l3.5 1.8l-2.7 .3l-3.4-1.3z" fill="#006fc7"/><path d="M421.7 79.6l3.4-4.7l-2.6 .2l-3.4 4.8z" fill="#00aaaa"/><path d="M329.6 80.8l3.5 1l-2.7-.6l-3.4-1.2z" fill="#00a0af"/><path d="M400.2 93.1l3.4-2.6l-2.6-.5l-3.4 2.3z" fill="#003ee0"/><path d="M308.1 84.4l3.5-2.3l-2.7-.2l-3.4 2.3z" fill="#0083bd"/><path d="M378.7 94.4l3.4-.7l-2.6-1.3l-3.4 .7z" fill="#0035e5"/><path d="M286.6 94l3.5-2.3l-2.7-.1l-3.4 2.2z" fill="#0037e3"/><path d="M357.2 88.3l3.4 1.7l-2.6-.3l-3.4-1.1z" fill="#0066cc"/><path d="M427.7 75.1l3.4-4.3l-2.6-.6l-3.4 4.7z" fill="#00d097"/><path d="M335.7 82.3l3.4 1.6l-2.6 0l-3.4-2.1z" fill="#0096b4"/><path d="M406.2 90.7l3.4-3.3l-2.6-.3l-3.4 3.4z" fill="#0054d5"/><path d="M314.2 82.4l3.4-1.9l-2.6-.4l-3.4 2z" fill="#0096b4"/><path d="M384.7 95.2l3.4-1.3l-2.6-1.6l-3.4 1.4z" fill="#0031e7"/><path d="M292.7 91.8l3.4-2.5l-2.6-.1l-3.4 2.5z" fill="#004bd9"/><path d="M363.2 90.7l3.4 1l-2.6-.8l-3.4-.9z" fill="#0055d4"/><path d="M433.7 72l3.4-3.1l-2.6-1.3l-3.4 3.2z" fill="#00eb89"/><path d="M341.7 83.5l3.4 2l-2.6 .5l-3.4-2.1z" fill="#008fb8"/><path d="M412.2 87.3l3.4-3.5l-2.6-.1l-3.4 3.7z" fill="#0071c6"/><path d="M320.2 81.2l3.4-1.1l-2.6-.7l-3.4 1.1z" fill="#00a2ae"/><path d="M390.7 95.5l3.4-1.5l-2.6-1.6l-3.4 1.5z" fill="#0031e7"/><path d="M298.7 89.5l3.4-2.7l-2.6-.2l-3.4 2.7z" fill="#0060cf"/><path d="M369.2 92.7l3.4 .5l-2.6-1.2l-3.4-.3z" fill="#0048db"/><path d="M439.7 70.1l3.5-2.6l-2.6-1.3l-3.5 2.7z" fill="#00fd80"/><path d="M347.7 84.8l3.4 2l-2.6 .8l-3.4-2.1z" fill="#0087bc"/><path d="M418.2 83.4l3.5-3.8l-2.6 .3l-3.5 3.9z" fill="#0093b6"/><path d="M326.2 81l3.4-.2l-2.6-.8l-3.4 .1z" fill="#00a6ac"/><path d="M396.7 95.1l3.5-2l-2.6-.8l-3.5 1.7z" fill="#0036e4"/><path d="M304.7 87l3.4-2.6l-2.6-.2l-3.4 2.6z" fill="#0076c4"/><path d="M375.2 94.5l3.5-.1l-2.6-1.3l-3.5 .1z" fill="#003ce1"/><path d="M445.8 68.9l3.4-1.8l-2.6-2l-3.4 2.4z" fill="#00ff80"/><path d="M353.7 86.2l3.5 2.1l-2.6 .3l-3.5-1.8z" fill="#007fc0"/><path d="M424.3 79.1l3.4-4l-2.6-.2l-3.4 4.7z" fill="#00b7a3"/><path d="M332.2 81.6l3.5 .7l-2.6-.5l-3.5-1z" fill="#00a4ad"/><path d="M402.8 93.4l3.4-2.7l-2.6-.2l-3.4 2.6z" fill="#0046dc"/><path d="M310.7 84.7l3.5-2.3l-2.6-.3l-3.5 2.3z" fill="#008bb9"/><path d="M381.3 95.9l3.4-.7l-2.6-1.5l-3.4 .7z" fill="#0033e6"/><path d="M289.2 94.1l3.5-2.3l-2.6-.1l-3.5 2.3z" fill="#0041df"/><path d="M359.8 88.2l3.4 2.5l-2.6-.7l-3.4-1.7z" fill="#0070c7"/><path d="M430.3 75.4l3.4-3.4l-2.6-1.2l-3.4 4.3z" fill="#00d793"/><path d="M338.3 82.5l3.4 1l-2.6 .4l-3.4-1.6z" fill="#009fb0"/><path d="M408.8 90.5l3.4-3.2l-2.6 .1l-3.4 3.3z" fill="#0060cf"/><path d="M316.8 82.9l3.4-1.7l-2.6-.7l-3.4 1.9z" fill="#009cb1"/><path d="M387.3 96.7l3.4-1.2l-2.6-1.6l-3.4 1.3z" fill="#002fe8"/><path d="M295.3 92l3.4-2.5l-2.6-.2l-3.4 2.5z" fill="#0054d5"/><path d="M365.8 91.2l3.4 1.5l-2.6-1l-3.4-1z" fill="#005bd2"/><path d="M436.3 72.6l3.4-2.5l-2.6-1.2l-3.4 3.1z" fill="#00f187"/><path d="M344.3 83.3l3.4 1.5l-2.6 .7l-3.4-2z" fill="#009bb2"/><path d="M414.8 86.8l3.4-3.4l-2.6 .4l-3.4 3.5z" fill="#0080bf"/><path d="M322.8 81.9l3.4-.9l-2.6-.9l-3.4 1.1z" fill="#00a6ac"/><path d="M393.3 96.7l3.4-1.6l-2.6-1.1l-3.4 1.5z" fill="#0031e7"/><path d="M301.3 89.7l3.4-2.7l-2.6-.2l-3.4 2.7z" fill="#0069cb"/><path d="M371.8 93.8l3.4 .7l-2.6-1.3l-3.4-.5z" fill="#0048db"/><path d="M442.3 70.8l3.5-1.9l-2.6-1.4l-3.5 2.6z" fill="#00ff80"/><path d="M350.3 84.3l3.4 1.9l-2.6 .6l-3.4-2z" fill="#0095b5"/><path d="M420.8 82.7l3.5-3.6l-2.6 .5l-3.5 3.8z" fill="#00a3ae"/><path d="M328.8 81.8l3.4-.2l-2.6-.8l-3.4 .2z" fill="#00a9aa"/><path d="M399.3 95.6l3.5-2.2l-2.6-.3l-3.5 2z" fill="#003ce1"/><path d="M307.3 87.2l3.4-2.5l-2.6-.3l-3.4 2.6z" fill="#007fc0"/><path d="M377.8 96l3.5-.1l-2.6-1.5l-3.5 .1z" fill="#0039e2"/><path d="M448.4 70.2l3.4-1.1l-2.6-2l-3.4 1.8z" fill="#00ff80"/><path d="M356.3 85.6l3.5 2.6l-2.6 .1l-3.5-2.1z" fill="#008db9"/><path d="M426.9 78.6l3.4-3.2l-2.6-.3l-3.4 4z" fill="#00c59c"/><path d="M334.8 82.2l3.5 .3l-2.6-.2l-3.5-.7z" fill="#00a9ab"/><path d="M405.4 93.2l3.4-2.7l-2.6 .2l-3.4 2.7z" fill="#0051d6"/><path d="M313.3 85.1l3.5-2.2l-2.6-.5l-3.5 2.3z" fill="#0092b6"/><path d="M383.9 97.4l3.4-.7l-2.6-1.5l-3.4 .7z" fill="#0031e7"/><path d="M291.8 94.3l3.5-2.3l-2.6-.2l-3.5 2.3z" fill="#0049db"/><path d="M362.4 88.4l3.4 2.8l-2.6-.5l-3.4-2.5z" fill="#0079c3"/><path d="M432.9 75.2l3.4-2.6l-2.6-.6l-3.4 3.4z" fill="#00e38e"/><path d="M340.9 82.6l3.4 .7l-2.6 .2l-3.4-1z" fill="#00a8ab"/><path d="M411.4 89.8l3.4-3l-2.6 .5l-3.4 3.2z" fill="#006fc7"/><path d="M319.4 83.5l3.4-1.6l-2.6-.7l-3.4 1.7z" fill="#00a1af"/><path d="M389.9 97.9l3.4-1.2l-2.6-1.2l-3.4 1.2z" fill="#002fe8"/><path d="M297.9 92.2l3.4-2.5l-2.6-.2l-3.4 2.5z" fill="#005cd1"/><path d="M368.4 92.2l3.4 1.6l-2.6-1.1l-3.4-1.5z" fill="#005dd1"/><path d="M438.9 72.7l3.4-1.9l-2.6-.7l-3.4 2.5z" fill="#00fa82"/><path d="M346.9 83.2l3.4 1.1l-2.6 .5l-3.4-1.5z" fill="#00a5ac"/><path d="M417.4 85.8l3.4-3.1l-2.6 .7l-3.4 3.4z" fill="#0092b6"/><path d="M325.4 82.8l3.4-1l-2.6-.8l-3.4 .9z" fill="#00a9aa"/><path d="M395.9 97.4l3.4-1.8l-2.6-.5l-3.4 1.6z" fill="#0035e4"/><path d="M303.9 89.8l3.4-2.6l-2.6-.2l-3.4 2.7z" fill="#0072c6"/><path d="M374.4 95.4l3.4 .6l-2.6-1.5l-3.4-.7z" fill="#0046dc"/><path d="M445 71.3l3.4-1.1l-2.6-1.3l-3.5 1.9z" fill="#00ff80"/><path d="M352.9 84l3.4 1.6l-2.6 .6l-3.4-1.9z" fill="#00a1ae"/><path d="M423.5 81.6l3.4-3l-2.6 .5l-3.5 3.6z" fill="#00b5a4"/><path d="M331.4 82.7l3.4-.5l-2.6-.6l-3.4 .2z" fill="#00ada9"/><path d="M402 95.6l3.4-2.4l-2.6 .2l-3.5 2.2z" fill="#0046dc"/><path d="M309.9 87.5l3.4-2.4l-2.6-.4l-3.4 2.5z" fill="#0086bc"/><path d="M380.5 97.6l3.4-.2l-2.6-1.5l-3.5 .1z" fill="#0037e4"/><path d="M451 71.4l3.4-.6l-2.6-1.7l-3.4 1.1z" fill="#00ff80"/><path d="M359 85.5l3.4 2.9l-2.6-.2l-3.5-2.6z" fill="#0098b3"/><path d="M429.5 77.9l3.4-2.7l-2.6 .2l-3.4 3.2z" fill="#00d594"/><path d="M337.5 82.8l3.4-.2l-2.6-.1l-3.5-.3z" fill="#00aea8"/><path d="M408 92.6l3.4-2.8l-2.6 .7l-3.4 2.7z" fill="#0061cf"/><path d="M316 85.6l3.4-2.1l-2.6-.6l-3.5 2.2z" fill="#0098b3"/><path d="M386.5 98.7l3.4-.8l-2.6-1.2l-3.4 .7z" fill="#0030e7"/><path d="M294.5 94.6l3.4-2.4l-2.6-.2l-3.5 2.3z" fill="#0051d7"/><path d="M365 89.7l3.4 2.5l-2.6-1l-3.4-2.8z" fill="#0079c3"/><path d="M435.5 74.8l3.4-2.1l-2.6-.1l-3.4 2.6z" fill="#00f087"/><path d="M343.5 83l3.4 .2l-2.6 .1l-3.4-.7z" fill="#00afa8"/><path d="M414 88.7l3.4-2.9l-2.6 1l-3.4 3z" fill="#0082be"/><path d="M322 84.4l3.4-1.6l-2.6-.9l-3.4 1.6z" fill="#00a4ad"/><path d="M392.5 98.8l3.4-1.4l-2.6-.7l-3.4 1.2z" fill="#0032e6"/><path d="M300.5 92.4l3.4-2.6l-2.6-.1l-3.4 2.5z" fill="#0065cd"/><path d="M371 94.1l3.4 1.3l-2.6-1.6l-3.4-1.6z" fill="#0058d3"/><path d="M441.5 72.7l3.5-1.4l-2.7-.5l-3.4 1.9z" fill="#00ff80"/><path d="M349.5 83.4l3.4 .6l-2.6 .3l-3.4-1.1z" fill="#00aea8"/><path d="M420 84.5l3.5-2.9l-2.7 1.1l-3.4 3.1z" fill="#00a6ac"/><path d="M328 83.8l3.4-1.1l-2.6-.9l-3.4 1z" fill="#00aba9"/><path d="M398.5 97.6l3.5-2l-2.7 0l-3.4 1.8z" fill="#003ee0"/><path d="M306.5 90.1l3.4-2.6l-2.6-.3l-3.4 2.6z" fill="#007ac2"/><path d="M377 97.2l3.5 .4l-2.7-1.6l-3.4-.6z" fill="#0042de"/><path d="M447.6 71.9l3.4-.5l-2.6-1.2l-3.4 1.1z" fill="#00ff80"/><path d="M355.5 84.2l3.5 1.3l-2.7 .1l-3.4-1.6z" fill="#00a9aa"/><path d="M426.1 80.4l3.4-2.5l-2.6 .7l-3.4 3z" fill="#00c99b"/><path d="M334 83.6l3.5-.8l-2.7-.6l-3.4 .5z" fill="#00afa7"/><path d="M404.6 95.1l3.4-2.5l-2.6 .6l-3.4 2.4z" fill="#0054d5"/><path d="M312.5 87.9l3.5-2.3l-2.7-.5l-3.4 2.4z" fill="#008db8"/><path d="M383.1 99l3.4-.3l-2.6-1.3l-3.4 .2z" fill="#0036e4"/><path d="M361.6 87l3.4 2.7l-2.6-1.3l-3.4-2.9z" fill="#0096b4"/><path d="M432.1 77l3.4-2.2l-2.6 .4l-3.4 2.7z" fill="#00e68c"/><path d="M340.1 83.5l3.4-.5l-2.6-.4l-3.4 .2z" fill="#00b2a6"/><path d="M410.6 91.4l3.4-2.7l-2.6 1.1l-3.4 2.8z" fill="#0074c5"/><path d="M318.6 86.3l3.4-1.9l-2.6-.9l-3.4 2.1z" fill="#009db1"/><path d="M389.1 99.6l3.4-.8l-2.6-.9l-3.4 .8z" fill="#0033e6"/><path d="M297.1 94.8l3.4-2.4l-2.6-.2l-3.4 2.4z" fill="#0059d3"/><path d="M367.6 92l3.4 2.1l-2.6-1.9l-3.4-2.5z" fill="#0071c7"/><path d="M438.1 74.4l3.4-1.7l-2.6 0l-3.4 2.1z" fill="#00fe80"/><path d="M346.1 83.6l3.4-.2l-2.6-.2l-3.4-.2z" fill="#00b4a5"/><path d="M416.6 87.2l3.4-2.7l-2.6 1.3l-3.4 2.9z" fill="#0098b3"/><path d="M324.6 85.4l3.4-1.6l-2.6-1l-3.4 1.6z" fill="#00a6ac"/><path d="M395.1 99.2l3.4-1.6l-2.6-.2l-3.4 1.4z" fill="#0039e3"/><path d="M303.1 92.6l3.4-2.5l-2.6-.3l-3.4 2.6z" fill="#006dc9"/><path d="M373.6 96.2l3.4 1l-2.6-1.8l-3.4-1.3z" fill="#0051d7"/><path d="M444.1 72.8l3.5-.9l-2.6-.6l-3.5 1.4z" fill="#00ff80"/><path d="M352.1 84l3.4 .2l-2.6-.2l-3.4-.6z" fill="#00b3a6"/><path d="M422.6 82.9l3.5-2.5l-2.6 1.2l-3.5 2.9z" fill="#00bca1"/><path d="M330.6 84.9l3.4-1.3l-2.6-.9l-3.4 1.1z" fill="#00aca9"/><path d="M401.1 97.3l3.5-2.2l-2.6 .5l-3.5 2z" fill="#004ada"/><path d="M309.1 90.4l3.4-2.5l-2.6-.4l-3.4 2.6z" fill="#0081be"/><path d="M379.6 98.7l3.5 .3l-2.6-1.4l-3.5-.4z" fill="#003fdf"/><path d="M358.1 85.6l3.5 1.4l-2.6-1.5l-3.5-1.3z" fill="#00a8ab"/><path d="M428.7 79.2l3.4-2.2l-2.6 .9l-3.4 2.5z" fill="#00dd91"/><path d="M336.6 84.6l3.5-1.1l-2.6-.7l-3.5 .8z" fill="#00b1a6"/><path d="M407.2 94l3.4-2.6l-2.6 1.2l-3.4 2.5z" fill="#0067cc"/><path d="M315.1 88.5l3.5-2.2l-2.6-.7l-3.5 2.3z" fill="#0093b6"/><path d="M385.7 100l3.4-.4l-2.6-.9l-3.4 .3z" fill="#0038e3"/><path d="M364.2 89.6l3.4 2.4l-2.6-2.3l-3.4-2.7z" fill="#008bba"/><path d="M434.7 76.2l3.4-1.8l-2.6 .4l-3.4 2.2z" fill="#00f784"/><path d="M342.7 84.4l3.4-.8l-2.6-.6l-3.4 .5z" fill="#00b5a4"/><path d="M413.2 89.8l3.4-2.6l-2.6 1.5l-3.4 2.7z" fill="#008bba"/><path d="M321.2 87.2l3.4-1.8l-2.6-1l-3.4 1.9z" fill="#009faf"/><path d="M391.7 100.2l3.4-1l-2.6-.4l-3.4 .8z" fill="#0038e3"/><path d="M299.7 95.1l3.4-2.5l-2.6-.2l-3.4 2.4z" fill="#0060cf"/><path d="M370.2 94.6l3.4 1.6l-2.6-2.1l-3.4-2.1z" fill="#0066cc"/><path d="M440.7 74.2l3.4-1.4l-2.6-.1l-3.4 1.7z" fill="#00ff80"/><path d="M348.7 84.5l3.4-.5l-2.6-.6l-3.4 .2z" fill="#00b7a4"/><path d="M419.2 85.4l3.4-2.5l-2.6 1.6l-3.4 2.7z" fill="#00b0a7"/><path d="M327.2 86.6l3.4-1.7l-2.6-1.1l-3.4 1.6z" fill="#00a7ac"/><path d="M397.7 99.1l3.4-1.8l-2.6 .3l-3.4 1.6z" fill="#0043dd"/><path d="M305.7 92.9l3.4-2.5l-2.6-.3l-3.4 2.5z" fill="#0075c5"/><path d="M376.2 98l3.4 .7l-2.6-1.5l-3.4-1z" fill="#004cd9"/><path d="M354.7 85.4l3.4 .2l-2.6-1.4l-3.4-.2z" fill="#00b2a6"/><path d="M425.2 81.4l3.5-2.2l-2.6 1.2l-3.5 2.5z" fill="#00d396"/><path d="M333.2 86.1l3.4-1.5l-2.6-1l-3.4 1.3z" fill="#00ada9"/><path d="M403.7 96.4l3.5-2.4l-2.6 1.1l-3.5 2.2z" fill="#005bd1"/><path d="M311.7 90.8l3.4-2.3l-2.6-.6l-3.4 2.5z" fill="#0088bb"/><path d="M382.2 99.7l3.5 .3l-2.6-1l-3.5-.3z" fill="#0042de"/><path d="M360.7 87.8l3.5 1.8l-2.6-2.6l-3.5-1.4z" fill="#00a1af"/><path d="M431.3 78.1l3.4-1.9l-2.6 .8l-3.4 2.2z" fill="#00ef87"/><path d="M339.2 85.6l3.5-1.2l-2.6-.9l-3.5 1.1z" fill="#00b3a6"/><path d="M409.8 92.5l3.4-2.7l-2.6 1.6l-3.4 2.6z" fill="#007dc0"/><path d="M317.7 89.2l3.5-2l-2.6-.9l-3.5 2.2z" fill="#0097b4"/><path d="M388.3 100.5l3.4-.3l-2.6-.6l-3.4 .4z" fill="#003ee0"/><path d="M366.8 92.2l3.4 2.4l-2.6-2.6l-3.4-2.4z" fill="#0080bf"/><path d="M437.3 75.8l3.4-1.6l-2.6 .2l-3.4 1.8z" fill="#00ff80"/><path d="M345.3 85.5l3.4-1l-2.6-.9l-3.4 .8z" fill="#00b6a4"/><path d="M415.8 87.9l3.4-2.5l-2.6 1.8l-3.4 2.6z" fill="#00a4ad"/><path d="M323.8 88.4l3.4-1.8l-2.6-1.2l-3.4 1.8z" fill="#00a0af"/><path d="M394.3 100.3l3.4-1.2l-2.6 .1l-3.4 1z" fill="#0042de"/><path d="M302.3 95.5l3.4-2.6l-2.6-.3l-3.4 2.5z" fill="#0068cb"/><path d="M372.8 96.8l3.4 1.2l-2.6-1.8l-3.4-1.6z" fill="#005ed0"/><path d="M351.3 85.9l3.4-.5l-2.6-1.4l-3.4 .5z" fill="#00b6a4"/><path d="M421.8 83.6l3.4-2.2l-2.6 1.5l-3.4 2.5z" fill="#00c99b"/><path d="M329.8 88l3.4-1.9l-2.6-1.2l-3.4 1.7z" fill="#00a5ac"/><path d="M400.3 98.5l3.4-2.1l-2.6 .9l-3.4 1.8z" fill="#0052d6"/><path d="M308.3 93.3l3.4-2.5l-2.6-.4l-3.4 2.5z" fill="#007cc1"/><path d="M378.8 98.8l3.4 .9l-2.6-1l-3.4-.7z" fill="#0050d7"/><path d="M357.3 87.1l3.4 .7l-2.6-2.2l-3.4-.2z" fill="#00aea8"/><path d="M427.9 80l3.4-1.9l-2.6 1.1l-3.5 2.2z" fill="#00e88b"/><path d="M335.8 87.4l3.4-1.8l-2.6-1l-3.4 1.5z" fill="#00ada9"/><path d="M406.4 95l3.4-2.5l-2.6 1.5l-3.5 2.4z" fill="#0071c7"/><path d="M314.3 91.5l3.4-2.3l-2.6-.7l-3.4 2.3z" fill="#008cb9"/><path d="M384.9 100l3.4 .5l-2.6-.5l-3.5-.3z" fill="#0049da"/><path d="M363.4 90l3.4 2.2l-2.6-2.6l-3.5-1.8z" fill="#009ab2"/><path d="M433.9 77.5l3.4-1.7l-2.6 .4l-3.4 1.9z" fill="#00fe80"/><path d="M341.9 86.9l3.4-1.4l-2.6-1.1l-3.5 1.2z" fill="#00b3a6"/><path d="M412.4 90.5l3.4-2.6l-2.6 1.9l-3.4 2.7z" fill="#0096b4"/><path d="M320.4 90.4l3.4-2l-2.6-1.2l-3.5 2z" fill="#0098b3"/><path d="M390.9 100.6l3.4-.3l-2.6-.1l-3.4 .3z" fill="#0047dc"/><path d="M369.4 94.2l3.4 2.6l-2.6-2.2l-3.4-2.4z" fill="#007ac2"/><path d="M347.9 87l3.4-1.1l-2.6-1.4l-3.4 1z" fill="#00b4a5"/><path d="M418.4 85.9l3.4-2.3l-2.6 1.8l-3.4 2.5z" fill="#00bea0"/><path d="M326.4 89.9l3.4-1.9l-2.6-1.4l-3.4 1.8z" fill="#009db0"/><path d="M396.9 99.9l3.4-1.4l-2.6 .6l-3.4 1.2z" fill="#004ed8"/><path d="M304.9 95.8l3.4-2.5l-2.6-.4l-3.4 2.6z" fill="#006fc7"/><path d="M375.4 97.3l3.4 1.5l-2.6-.8l-3.4-1.2z" fill="#0064cd"/><path d="M353.9 87.4l3.4-.3l-2.6-1.7l-3.4 .5z" fill="#00b3a5"/><path d="M424.4 81.9l3.5-1.9l-2.7 1.4l-3.4 2.2z" fill="#00e08f"/><path d="M332.4 89.4l3.4-2l-2.6-1.3l-3.4 1.9z" fill="#00a4ad"/><path d="M402.9 97.3l3.5-2.3l-2.7 1.4l-3.4 2.1z" fill="#0066cc"/><path d="M310.9 94l3.4-2.5l-2.6-.7l-3.4 2.5z" fill="#0080bf"/><path d="M381.4 98.8l3.5 1.2l-2.7-.3l-3.4-.9z" fill="#005ad2"/><path d="M359.9 88.7l3.5 1.3l-2.7-2.2l-3.4-.7z" fill="#00aca9"/><path d="M430.5 79.1l3.4-1.6l-2.6 .6l-3.4 1.9z" fill="#00f983"/><path d="M338.4 88.6l3.5-1.7l-2.7-1.3l-3.4 1.8z" fill="#00ada8"/><path d="M409 93.2l3.4-2.7l-2.6 2l-3.4 2.5z" fill="#0089ba"/><path d="M316.9 92.7l3.5-2.3l-2.7-1.2l-3.4 2.3z" fill="#008db9"/><path d="M387.5 99.9l3.4 .7l-2.6-.1l-3.4-.5z" fill="#0054d5"/><path d="M366 91.4l3.4 2.8l-2.6-2l-3.4-2.2z" fill="#0098b3"/><path d="M344.5 88.4l3.4-1.4l-2.6-1.5l-3.4 1.4z" fill="#00b1a7"/><path d="M415 88.5l3.4-2.6l-2.6 2l-3.4 2.6z" fill="#00b1a6"/><path d="M323 91.9l3.4-2l-2.6-1.5l-3.4 2z" fill="#0095b4"/><path d="M393.5 100.4l3.4-.5l-2.6 .4l-3.4 .3z" fill="#0053d6"/><path d="M372 94.8l3.4 2.5l-2.6-.5l-3.4-2.6z" fill="#007fbf"/><path d="M350.5 88.7l3.4-1.3l-2.6-1.5l-3.4 1.1z" fill="#00b1a6"/><path d="M421 84.1l3.4-2.2l-2.6 1.7l-3.4 2.3z" fill="#00d694"/><path d="M329 91.4l3.4-2l-2.6-1.4l-3.4 1.9z" fill="#009cb1"/><path d="M399.5 98.9l3.4-1.6l-2.6 1.2l-3.4 1.4z" fill="#0060cf"/><path d="M307.5 96.5l3.4-2.5l-2.6-.7l-3.4 2.5z" fill="#0074c5"/><path d="M378 97l3.4 1.8l-2.6 0l-3.4-1.5z" fill="#0071c7"/><path d="M356.5 88.8l3.4-.1l-2.6-1.6l-3.4 .3z" fill="#00b3a6"/><path d="M427 80.8l3.5-1.7l-2.6 .9l-3.5 1.9z" fill="#00f386"/><path d="M335 90.6l3.4-2l-2.6-1.2l-3.4 2z" fill="#00a5ad"/><path d="M405.5 95.6l3.5-2.4l-2.6 1.8l-3.5 2.3z" fill="#007ec0"/><path d="M313.5 95.1l3.4-2.4l-2.6-1.2l-3.4 2.5z" fill="#0081bf"/><path d="M384 98.3l3.5 1.6l-2.6 .1l-3.5-1.2z" fill="#0068cb"/><path d="M362.5 89.8l3.5 1.6l-2.6-1.4l-3.5-1.3z" fill="#00ada9"/><path d="M341 90.1l3.5-1.7l-2.6-1.5l-3.5 1.7z" fill="#00aba9"/><path d="M411.6 91.2l3.4-2.7l-2.6 2l-3.4 2.7z" fill="#00a3ad"/><path d="M319.5 94.2l3.5-2.3l-2.6-1.5l-3.5 2.3z" fill="#008bba"/><path d="M390.1 99.5l3.4 .9l-2.6 .2l-3.4-.7z" fill="#0061ce"/><path d="M368.6 92.2l3.4 2.6l-2.6-.6l-3.4-2.8z" fill="#009cb1"/><path d="M347.1 90.2l3.4-1.5l-2.6-1.7l-3.4 1.4z" fill="#00aca9"/><path d="M417.6 86.6l3.4-2.5l-2.6 1.8l-3.4 2.6z" fill="#00ca9a"/><path d="M325.6 93.5l3.4-2.1l-2.6-1.5l-3.4 2z" fill="#0093b6"/><path d="M396.1 99.7l3.4-.8l-2.6 1l-3.4 .5z" fill="#0062ce"/><path d="M374.6 94.7l3.4 2.3l-2.6 .3l-3.4-2.5z" fill="#008aba"/><path d="M353.1 90l3.4-1.2l-2.6-1.4l-3.4 1.3z" fill="#00b0a7"/><path d="M423.6 82.8l3.4-2l-2.6 1.1l-3.4 2.2z" fill="#00ea8a"/><path d="M331.6 92.7l3.4-2.1l-2.6-1.2l-3.4 2z" fill="#009bb1"/><path d="M402.1 97.3l3.4-1.7l-2.6 1.7l-3.4 1.6z" fill="#0077c3"/><path d="M310.1 97.7l3.4-2.6l-2.6-1.1l-3.4 2.5z" fill="#0074c5"/><path d="M380.6 96.3l3.4 2l-2.6 .5l-3.4-1.8z" fill="#0080bf"/><path d="M359.1 89.7l3.4 .1l-2.6-1.1l-3.4 .1z" fill="#00b5a5"/><path d="M337.6 92.1l3.4-2l-2.6-1.5l-3.4 2z" fill="#00a2ae"/><path d="M408.1 93.8l3.5-2.6l-2.6 2l-3.5 2.4z" fill="#0096b4"/><path d="M316.1 96.7l3.4-2.5l-2.6-1.5l-3.4 2.4z" fill="#007ec0"/><path d="M386.6 97.5l3.5 2l-2.6 .4l-3.5-1.6z" fill="#0079c3"/><path d="M365.1 90.7l3.5 1.5l-2.6-.8l-3.5-1.6z" fill="#00b0a7"/><path d="M343.6 92l3.5-1.8l-2.6-1.8l-3.5 1.7z" fill="#00a6ac"/><path d="M414.2 89.4l3.4-2.8l-2.6 1.9l-3.4 2.7z" fill="#00bca1"/><path d="M322.1 95.8l3.5-2.3l-2.6-1.6l-3.5 2.3z" fill="#0088bb"/><path d="M392.7 98.8l3.4 .9l-2.6 .7l-3.4-.9z" fill="#0071c7"/><path d="M371.2 92.6l3.4 2.1l-2.6 .1l-3.4-2.6z" fill="#00a3ae"/><path d="M349.7 91.9l3.4-1.9l-2.6-1.3l-3.4 1.5z" fill="#00a9ab"/><path d="M420.2 85.3l3.4-2.5l-2.6 1.3l-3.4 2.5z" fill="#00de90"/><path d="M328.2 94.9l3.4-2.2l-2.6-1.3l-3.4 2.1z" fill="#0091b6"/><path d="M398.7 98.1l3.4-.8l-2.6 1.6l-3.4 .8z" fill="#0079c2"/><path d="M377.2 94.4l3.4 1.9l-2.6 .7l-3.4-2.3z" fill="#0097b4"/><path d="M355.7 91.2l3.4-1.5l-2.6-.9l-3.4 1.2z" fill="#00b1a7"/><path d="M334.2 94.3l3.4-2.2l-2.6-1.5l-3.4 2.1z" fill="#0099b3"/><path d="M404.7 95.7l3.4-1.9l-2.6 1.8l-3.4 1.7z" fill="#008eb8"/><path d="M312.7 99.3l3.4-2.6l-2.6-1.6l-3.4 2.6z" fill="#0071c6"/><path d="M383.2 95.5l3.4 2l-2.6 .8l-3.4-2z" fill="#0091b7"/><path d="M361.7 90.9l3.4-.2l-2.6-.9l-3.4-.1z" fill="#00b6a4"/><path d="M340.2 94.1l3.4-2.1l-2.6-1.9l-3.4 2z" fill="#009db1"/><path d="M410.8 92.4l3.4-3l-2.6 1.8l-3.5 2.6z" fill="#00aba9"/><path d="M318.7 98.4l3.4-2.6l-2.6-1.6l-3.4 2.5z" fill="#007bc1"/><path d="M389.3 96.4l3.4 2.4l-2.6 .7l-3.5-2z" fill="#008cb9"/><path d="M367.8 91.7l3.4 .9l-2.6-.4l-3.5-1.5z" fill="#00b2a6"/><path d="M346.3 94l3.4-2.1l-2.6-1.7l-3.5 1.8z" fill="#00a0af"/><path d="M416.8 88.1l3.4-2.8l-2.6 1.3l-3.4 2.8z" fill="#00d097"/><path d="M324.8 97.3l3.4-2.4l-2.6-1.4l-3.5 2.3z" fill="#0086bc"/><path d="M395.3 97.2l3.4 .9l-2.6 1.6l-3.4-.9z" fill="#0087bb"/><path d="M373.8 93l3.4 1.4l-2.6 .3l-3.4-2.1z" fill="#00aaaa"/><path d="M352.3 93.5l3.4-2.3l-2.6-1.2l-3.4 1.9z" fill="#00a6ac"/><path d="M330.8 96.5l3.4-2.2l-2.6-1.6l-3.4 2.2z" fill="#008fb8"/><path d="M401.3 96.5l3.4-.8l-2.6 1.6l-3.4 .8z" fill="#008fb7"/><path d="M379.8 94l3.4 1.5l-2.6 .8l-3.4-1.9z" fill="#00a4ad"/><path d="M358.3 92.7l3.4-1.8l-2.6-1.2l-3.4 1.5z" fill="#00afa7"/><path d="M336.8 96.3l3.4-2.2l-2.6-2l-3.4 2.2z" fill="#0093b6"/><path d="M407.3 94.9l3.5-2.5l-2.7 1.4l-3.4 1.9z" fill="#009fb0"/><path d="M315.3 100.9l3.4-2.5l-2.6-1.7l-3.4 2.6z" fill="#006ec8"/><path d="M385.8 94.5l3.5 1.9l-2.7 1.1l-3.4-2z" fill="#00a2ae"/><path d="M364.3 92.3l3.5-.6l-2.7-1l-3.4 .2z" fill="#00b4a5"/><path d="M342.8 96.3l3.5-2.3l-2.7-2l-3.4 2.1z" fill="#0095b5"/><path d="M413.4 91.5l3.4-3.4l-2.6 1.3l-3.4 3z" fill="#00bca1"/><path d="M321.3 99.9l3.5-2.6l-2.7-1.5l-3.4 2.6z" fill="#0079c2"/><path d="M391.9 95.1l3.4 2.1l-2.6 1.6l-3.4-2.4z" fill="#00a0af"/><path d="M370.4 92.6l3.4 .4l-2.6-.4l-3.4-.9z" fill="#00b5a5"/><path d="M348.9 96.1l3.4-2.6l-2.6-1.6l-3.4 2.1z" fill="#0099b2"/><path d="M327.4 98.8l3.4-2.3l-2.6-1.6l-3.4 2.4z" fill="#0084bd"/><path d="M397.9 96l3.4 .5l-2.6 1.6l-3.4-.9z" fill="#009bb1"/><path d="M376.4 93.3l3.4 .7l-2.6 .4l-3.4-1.4z" fill="#00b1a7"/><path d="M354.9 95.3l3.4-2.6l-2.6-1.5l-3.4 2.3z" fill="#00a2ae"/><path d="M333.4 98.5l3.4-2.2l-2.6-2l-3.4 2.2z" fill="#0089ba"/><path d="M403.9 96.1l3.4-1.2l-2.6 .8l-3.4 .8z" fill="#009cb1"/><path d="M382.4 93.8l3.4 .7l-2.6 1l-3.4-1.5z" fill="#00afa7"/><path d="M360.9 94.5l3.4-2.2l-2.6-1.4l-3.4 1.8z" fill="#00abaa"/><path d="M339.4 98.7l3.4-2.4l-2.6-2.2l-3.4 2.2z" fill="#008aba"/><path d="M409.9 94.7l3.5-3.2l-2.6 .9l-3.5 2.5z" fill="#00aaaa"/><path d="M317.9 102.3l3.4-2.4l-2.6-1.5l-3.4 2.5z" fill="#006dc8"/><path d="M388.4 93.9l3.5 1.2l-2.6 1.3l-3.5-1.9z" fill="#00b1a6"/><path d="M366.9 93.8l3.5-1.2l-2.6-.9l-3.5 .6z" fill="#00b3a6"/><path d="M345.4 98.7l3.5-2.6l-2.6-2.1l-3.5 2.3z" fill="#008cb9"/><path d="M323.9 101.4l3.5-2.6l-2.6-1.5l-3.5 2.6z" fill="#0077c3"/><path d="M394.5 95.2l3.4 .8l-2.6 1.2l-3.4-2.1z" fill="#00a9ab"/><path d="M373 93.6l3.4-.3l-2.6-.3l-3.4-.4z" fill="#00b6a4"/><path d="M351.5 98.2l3.4-2.9l-2.6-1.8l-3.4 2.6z" fill="#0092b6"/><path d="M330 100.7l3.4-2.2l-2.6-2l-3.4 2.3z" fill="#007fc0"/><path d="M400.5 96.2l3.4-.1l-2.6 .4l-3.4-.5z" fill="#00a3ad"/><path d="M379 93.9l3.4-.1l-2.6 .2l-3.4-.7z" fill="#00b6a4"/><path d="M357.5 97.4l3.4-2.9l-2.6-1.8l-3.4 2.6z" fill="#009bb2"/><path d="M336 101l3.4-2.3l-2.6-2.4l-3.4 2.2z" fill="#007fc0"/><path d="M406.5 96.8l3.4-2.1l-2.6 .2l-3.4 1.2z" fill="#00a1ae"/><path d="M385 94.2l3.4-.3l-2.6 .6l-3.4-.7z" fill="#00b6a4"/><path d="M363.5 96.3l3.4-2.5l-2.6-1.5l-3.4 2.2z" fill="#00a6ac"/><path d="M342 101.2l3.4-2.5l-2.6-2.4l-3.4 2.4z" fill="#0080bf"/><path d="M320.5 103.9l3.4-2.5l-2.6-1.5l-3.4 2.4z" fill="#006bca"/><path d="M391 95.2l3.5 0l-2.6-.1l-3.5-1.2z" fill="#00b0a7"/><path d="M369.5 95.3l3.5-1.7l-2.6-1l-3.5 1.2z" fill="#00b0a7"/><path d="M348 101l3.5-2.8l-2.6-2.1l-3.5 2.6z" fill="#0083bd"/><path d="M326.5 103.4l3.5-2.7l-2.6-1.9l-3.5 2.6z" fill="#0071c7"/><path d="M397.1 96.5l3.4-.3l-2.6-.2l-3.4-.8z" fill="#00a8ab"/><path d="M375.6 94.9l3.4-1l-2.6-.6l-3.4 .3z" fill="#00b6a4"/><path d="M354.1 100.5l3.4-3.1l-2.6-2.1l-3.4 2.9z" fill="#008aba"/><path d="M332.6 103.4l3.4-2.4l-2.6-2.5l-3.4 2.2z" fill="#0073c5"/><path d="M403.1 98l3.4-1.2l-2.6-.7l-3.4 .1z" fill="#009faf"/><path d="M381.6 94.9l3.4-.7l-2.6-.4l-3.4 .1z" fill="#00b9a3"/><path d="M360.1 99.5l3.4-3.2l-2.6-1.8l-3.4 2.9z" fill="#0094b5"/><path d="M338.6 103.5l3.4-2.3l-2.6-2.5l-3.4 2.3z" fill="#0075c5"/><path d="M387.6 95.7l3.4-.5l-2.6-1.3l-3.4 .3z" fill="#00b4a5"/><path d="M366.1 98.1l3.4-2.8l-2.6-1.5l-3.4 2.5z" fill="#00a2ae"/><path d="M344.6 103.6l3.4-2.6l-2.6-2.3l-3.4 2.5z" fill="#0076c4"/><path d="M323.1 105.9l3.4-2.5l-2.6-2l-3.4 2.5z" fill="#0065cd"/><path d="M393.7 97l3.4-.5l-2.6-1.3l-3.5 0z" fill="#00aca9"/><path d="M372.2 96.9l3.4-2l-2.6-1.3l-3.5 1.7z" fill="#00aea8"/><path d="M350.7 103.5l3.4-3l-2.6-2.3l-3.5 2.8z" fill="#007ac2"/><path d="M329.2 106l3.4-2.6l-2.6-2.7l-3.5 2.7z" fill="#0066cc"/><path d="M399.7 98.3l3.4-.3l-2.6-1.8l-3.4 .3z" fill="#00a4ad"/><path d="M378.2 96.1l3.4-1.2l-2.6-1l-3.4 1z" fill="#00b7a4"/><path d="M356.7 102.7l3.4-3.2l-2.6-2.1l-3.4 3.1z" fill="#0082be"/><path d="M335.2 105.8l3.4-2.3l-2.6-2.5l-3.4 2.4z" fill="#006aca"/><path d="M384.2 96.3l3.4-.6l-2.6-1.5l-3.4 .7z" fill="#00b7a3"/><path d="M362.7 101.3l3.4-3.2l-2.6-1.8l-3.4 3.2z" fill="#0090b7"/><path d="M341.2 106l3.4-2.4l-2.6-2.4l-3.4 2.3z" fill="#006bc9"/><path d="M390.2 97.5l3.5-.5l-2.7-1.8l-3.4 .5z" fill="#00b0a7"/><path d="M368.7 99.7l3.5-2.8l-2.7-1.6l-3.4 2.8z" fill="#009faf"/><path d="M347.2 106.2l3.5-2.7l-2.7-2.5l-3.4 2.6z" fill="#006cc9"/><path d="M325.7 108l3.5-2l-2.7-2.6l-3.4 2.5z" fill="#005ed0"/><path d="M396.3 98.8l3.4-.5l-2.6-1.8l-3.4 .5z" fill="#00a8ab"/><path d="M374.8 98l3.4-1.9l-2.6-1.2l-3.4 2z" fill="#00afa8"/><path d="M353.3 105.9l3.4-3.2l-2.6-2.2l-3.4 3z" fill="#0071c7"/><path d="M331.8 108l3.4-2.2l-2.6-2.4l-3.4 2.6z" fill="#0060cf"/><path d="M380.8 97.3l3.4-1l-2.6-1.4l-3.4 1.2z" fill="#00b7a4"/><path d="M359.3 104.6l3.4-3.3l-2.6-1.8l-3.4 3.2z" fill="#007dc0"/><path d="M337.8 108l3.4-2l-2.6-2.5l-3.4 2.3z" fill="#0063ce"/><path d="M386.8 97.9l3.4-.4l-2.6-1.8l-3.4 .6z" fill="#00b5a5"/><path d="M365.3 102.7l3.4-3l-2.6-1.6l-3.4 3.2z" fill="#008fb8"/><path d="M343.8 108.5l3.4-2.3l-2.6-2.6l-3.4 2.4z" fill="#0061cf"/><path d="M392.8 99.2l3.5-.4l-2.6-1.8l-3.5 .5z" fill="#00ada9"/><path d="M371.3 100.5l3.5-2.5l-2.6-1.1l-3.5 2.8z" fill="#00a2ae"/><path d="M349.8 108.8l3.5-2.9l-2.6-2.4l-3.5 2.7z" fill="#0061ce"/><path d="M328.3 109.7l3.5-1.7l-2.6-2l-3.5 2z" fill="#005bd2"/><path d="M377.4 98.8l3.4-1.5l-2.6-1.2l-3.4 1.9z" fill="#00b2a6"/><path d="M355.9 107.9l3.4-3.3l-2.6-1.9l-3.4 3.2z" fill="#006aca"/><path d="M334.4 109.7l3.4-1.7l-2.6-2.2l-3.4 2.2z" fill="#005dd1"/><path d="M383.4 98.6l3.4-.7l-2.6-1.6l-3.4 1z" fill="#00b7a4"/><path d="M361.9 106l3.4-3.3l-2.6-1.4l-3.4 3.3z" fill="#007cc1"/><path d="M340.4 110.4l3.4-1.9l-2.6-2.5l-3.4 2z" fill="#0059d2"/><path d="M389.4 99.5l3.4-.3l-2.6-1.7l-3.4 .4z" fill="#00b2a6"/><path d="M367.9 103.4l3.4-2.9l-2.6-.8l-3.4 3z" fill="#0093b5"/><path d="M346.4 111.3l3.4-2.5l-2.6-2.6l-3.4 2.3z" fill="#0055d5"/><path d="M373.9 100.9l3.5-2.1l-2.6-.8l-3.5 2.5z" fill="#00aaaa"/><path d="M352.4 111.2l3.5-3.3l-2.6-2l-3.5 2.9z" fill="#0058d3"/><path d="M330.9 111.2l3.5-1.5l-2.6-1.7l-3.5 1.7z" fill="#0058d3"/><path d="M380 99.6l3.4-1l-2.6-1.3l-3.4 1.5z" fill="#00b6a4"/><path d="M358.5 109.5l3.4-3.5l-2.6-1.4l-3.4 3.3z" fill="#0068cb"/><path d="M337 112.1l3.4-1.7l-2.6-2.4l-3.4 1.7z" fill="#0054d5"/><path d="M386 99.9l3.4-.4l-2.6-1.6l-3.4 .7z" fill="#00b6a4"/><path d="M364.5 106.8l3.4-3.4l-2.6-.7l-3.4 3.3z" fill="#0080bf"/><path d="M343 113.3l3.4-2l-2.6-2.8l-3.4 1.9z" fill="#004cd9"/><path d="M370.5 103.6l3.4-2.7l-2.6-.4l-3.4 2.9z" fill="#009cb1"/><path d="M349 114l3.4-2.8l-2.6-2.4l-3.4 2.5z" fill="#0049db"/><path d="M376.6 101.2l3.4-1.6l-2.6-.8l-3.5 2.1z" fill="#00b1a6"/><path d="M355.1 113.1l3.4-3.6l-2.6-1.6l-3.5 3.3z" fill="#0053d6"/><path d="M333.6 113.7l3.4-1.6l-2.6-2.4l-3.5 1.5z" fill="#004fd8"/><path d="M382.6 100.6l3.4-.7l-2.6-1.3l-3.4 1z" fill="#00b8a3"/><path d="M361.1 110.5l3.4-3.7l-2.6-.8l-3.4 3.5z" fill="#006aca"/><path d="M339.6 115l3.4-1.7l-2.6-2.9l-3.4 1.7z" fill="#0047dc"/><path d="M367.1 107l3.4-3.4l-2.6-.2l-3.4 3.4z" fill="#0088bb"/><path d="M345.6 116.3l3.4-2.3l-2.6-2.7l-3.4 2z" fill="#003ee0"/><path d="M373.1 103.5l3.5-2.3l-2.7-.3l-3.4 2.7z" fill="#00a6ac"/><path d="M351.6 116.3l3.5-3.2l-2.7-1.9l-3.4 2.8z" fill="#0040df"/><path d="M379.2 101.8l3.4-1.2l-2.6-1l-3.4 1.6z" fill="#00b7a4"/><path d="M357.7 114.3l3.4-3.8l-2.6-1l-3.4 3.6z" fill="#0053d6"/><path d="M336.2 116.5l3.4-1.5l-2.6-2.9l-3.4 1.6z" fill="#0042de"/><path d="M363.7 111l3.4-4l-2.6-.2l-3.4 3.7z" fill="#0070c7"/><path d="M342.2 118l3.4-1.7l-2.6-3l-3.4 1.7z" fill="#0039e3"/><path d="M369.7 106.9l3.4-3.4l-2.6 .1l-3.4 3.4z" fill="#0093b5"/><path d="M348.2 119l3.4-2.7l-2.6-2.3l-3.4 2.3z" fill="#0033e5"/><path d="M375.7 103.8l3.5-2l-2.6-.6l-3.5 2.3z" fill="#00aea8"/><path d="M354.2 117.8l3.5-3.5l-2.6-1.2l-3.5 3.2z" fill="#003fe0"/><path d="M360.3 115l3.4-4l-2.6-.5l-3.4 3.8z" fill="#0057d3"/><path d="M338.8 119.4l3.4-1.4l-2.6-3l-3.4 1.5z" fill="#0035e5"/><path d="M366.3 111.3l3.4-4.4l-2.6 .1l-3.4 4z" fill="#0077c3"/><path d="M344.8 120.7l3.4-1.7l-2.6-2.7l-3.4 1.7z" fill="#002de9"/><path d="M372.3 106.9l3.4-3.1l-2.6-.3l-3.4 3.4z" fill="#009db1"/><path d="M350.8 120.6l3.4-2.8l-2.6-1.5l-3.4 2.7z" fill="#0030e7"/><path d="M356.8 118.5l3.5-3.5l-2.6-.7l-3.5 3.5z" fill="#0043de"/><path d="M362.9 115.6l3.4-4.3l-2.6-.3l-3.4 4z" fill="#005dd1"/><path d="M341.4 122.2l3.4-1.5l-2.6-2.7l-3.4 1.4z" fill="#0028eb"/><path d="M368.9 111.9l3.4-5l-2.6 0l-3.4 4.4z" fill="#007dc1"/><path d="M347.4 122.5l3.4-1.9l-2.6-1.6l-3.4 1.7z" fill="#0029eb"/><path d="M353.4 121.4l3.4-2.9l-2.6-.7l-3.4 2.8z" fill="#0034e5"/><path d="M359.5 119l3.4-3.4l-2.6-.6l-3.5 3.5z" fill="#0049da"/><path d="M365.5 116.2l3.4-4.3l-2.6-.6l-3.4 4.3z" fill="#0062ce"/><path d="M344 124.1l3.4-1.6l-2.6-1.8l-3.4 1.5z" fill="#0024ed"/><path d="M350 123.6l3.4-2.2l-2.6-.8l-3.4 1.9z" fill="#002aea"/><path d="M356 122l3.5-3l-2.7-.5l-3.4 2.9z" fill="#0039e3"/><path d="M362.1 119.4l3.4-3.2l-2.6-.6l-3.4 3.4z" fill="#0050d7"/><path d="M346.6 125.4l3.4-1.8l-2.6-1.1l-3.4 1.6z" fill="#0023ed"/><path d="M352.6 124.6l3.4-2.6l-2.6-.6l-3.4 2.2z" fill="#002be9"/><path d="M358.6 122.6l3.5-3.2l-2.6-.4l-3.5 3z" fill="#003ee0"/><path d="M349.2 126.9l3.4-2.3l-2.6-1l-3.4 1.8z" fill="#0021ef"/><path d="M355.2 125.7l3.4-3.1l-2.6-.6l-3.4 2.6z" fill="#002de8"/><path d="M351.8 128.4l3.4-2.7l-2.6-1.1l-3.4 2.3z" fill="#001fef"/></g>
<path d="M273.6 33.4L273.6 117.4M273.6 117.4L351.8 155.0M351.8 155.0L454.4 126.3M273.6 117.4l-2 0.6M273.6 103.4l-2 0.6M273.6 89.4l-2 0.6M273.6 75.4l-2 0.6M273.6 61.4l-2 0.6M273.6 47.4l-2 0.6M273.6 33.4l-2 0.6M351.8 155.0l-2 0.6M312.7 136.2l-2 0.6M273.6 117.4l-2 0.6M351.8 155.0l1.8 0.9M377.4 147.8l1.8 0.9M403.1 140.7l1.8 0.9M428.8 133.5l1.8 0.9M454.4 126.3l1.8 0.9" fill="none" stroke="#262626" stroke-width="0.55"/>
<text x="269.6" y="119.1" text-anchor="end" class="tk">-1.5</text>
<text x="269.6" y="105.1" text-anchor="end" class="tk">-1</text>
<text x="269.6" y="91.1" text-anchor="end" class="tk">-0.5</text>
<text x="269.6" y="77.1" text-anchor="end" class="tk">0</text>
<text x="269.6" y="63.1" text-anchor="end" class="tk">0.5</text>
<text x="269.6" y="49.1" text-anchor="end" class="tk">1</text>
<text x="269.6" y="35.1" text-anchor="end" class="tk">1.5</text>
<text x="264.5" y="125.8" text-anchor="middle" class="tk">10</text>
<text x="305.3" y="145.3" text-anchor="middle" class="tk">0</text>
<text x="342.2" y="164.7" text-anchor="middle" class="tk">-10</text>
<text x="358.4" y="165.1" text-anchor="middle" class="tk">0</text>
<text x="384.4" y="158.2" text-anchor="middle" class="tk">5</text>
<text x="411.9" y="151.1" text-anchor="middle" class="tk">10</text>
<text x="437.4" y="143.7" text-anchor="middle" class="tk">15</text>
<text x="462.9" y="135.9" text-anchor="middle" class="tk">20</text>
<text x="281.2" y="166.0" text-anchor="middle" class="l3">y-coordinates [m]</text>
<text x="425.3" y="168.3" text-anchor="middle" class="l3">x-coordinates [m]</text>
<text transform="translate(252.2 76.3) rotate(-90)" text-anchor="middle" class="l3">Surface elevation [m]</text>
<path d="M351.8 340.3L273.6 302.7M273.6 302.7L273.6 218.7M377.4 333.1L299.2 295.5M299.2 295.5L299.2 211.5M403.1 326.0L324.9 288.4M324.9 288.4L324.9 204.4M428.8 318.8L350.6 281.2M350.6 281.2L350.6 197.2M454.4 311.6L376.2 274.0M376.2 274.0L376.2 190.0M351.8 340.3L454.4 311.6M454.4 311.6L454.4 227.6M312.7 321.5L415.3 292.8M415.3 292.8L415.3 208.8M273.6 302.7L376.2 274.0M376.2 274.0L376.2 190.0M273.6 302.7L376.2 274.0M376.2 274.0L454.4 311.6M273.6 288.7L376.2 260.0M376.2 260.0L454.4 297.6M273.6 274.7L376.2 246.0M376.2 246.0L454.4 283.6M273.6 260.7L376.2 232.0M376.2 232.0L454.4 269.6M273.6 246.7L376.2 218.0M376.2 218.0L454.4 255.6M273.6 232.7L376.2 204.0M376.2 204.0L454.4 241.6M273.6 218.7L376.2 190.0M376.2 190.0L454.4 227.6" fill="none" stroke="#e0e0e0" stroke-width="0.6"/>
<g stroke="#000" stroke-width="0.52" stroke-linejoin="round"><path d="M375.4 237l3.4-.8l-2.6-3l-3.4 1.1z" fill="#0034e5"/><path d="M372 238.6l3.4-1.6l-2.6-2.7l-3.4 2.2z" fill="#003de1"/><path d="M378 238.9l3.4-.9l-2.6-1.8l-3.4 .8z" fill="#0032e6"/><path d="M368.5 239.9l3.5-1.3l-2.6-2.1l-3.5 1.7z" fill="#0045dc"/><path d="M374.6 240.2l3.4-1.3l-2.6-1.9l-3.4 1.6z" fill="#002ee8"/><path d="M380.6 240.6l3.4-1.5l-2.6-1.1l-3.4 .9z" fill="#002ce9"/><path d="M365.1 240.7l3.4-.8l-2.6-1.7l-3.4 .6z" fill="#0057d4"/><path d="M371.2 241.3l3.4-1.1l-2.6-1.6l-3.5 1.3z" fill="#0031e6"/><path d="M377.2 242l3.4-1.4l-2.6-1.7l-3.4 1.3z" fill="#001af2"/><path d="M383.2 242.4l3.4-1.5l-2.6-1.8l-3.4 1.5z" fill="#002fe8"/><path d="M361.7 240.8l3.4-.1l-2.6-1.9l-3.4 0z" fill="#0069cb"/><path d="M367.7 242.3l3.5-1l-2.7-1.4l-3.4 .8z" fill="#0042de"/><path d="M373.8 243.4l3.4-1.4l-2.6-1.8l-3.4 1.1z" fill="#001af2"/><path d="M379.8 244.1l3.4-1.7l-2.6-1.8l-3.4 1.4z" fill="#001af2"/><path d="M358.3 240.7l3.4 .1l-2.6-2l-3.4-.6z" fill="#006ec8"/><path d="M385.8 244l3.4-1.5l-2.6-1.6l-3.4 1.5z" fill="#0038e3"/><path d="M364.3 242.7l3.4-.4l-2.6-1.6l-3.4 .1z" fill="#005ad2"/><path d="M370.3 244.7l3.5-1.3l-2.6-2.1l-3.5 1z" fill="#0020ef"/><path d="M376.4 245.9l3.4-1.8l-2.6-2.1l-3.4 1.4z" fill="#001af2"/><path d="M354.9 241.7l3.4-1l-2.6-2.5l-3.4-.1z" fill="#0063cd"/><path d="M382.4 245.7l3.4-1.7l-2.6-1.6l-3.4 1.7z" fill="#0022ee"/><path d="M360.9 242.5l3.4 .2l-2.6-1.9l-3.4-.1z" fill="#006cc9"/><path d="M388.4 244.7l3.4-1.5l-2.6-.7l-3.4 1.5z" fill="#0046dc"/><path d="M366.9 245.2l3.4-.5l-2.6-2.4l-3.4 .4z" fill="#0040df"/><path d="M372.9 247.4l3.5-1.5l-2.6-2.5l-3.5 1.3z" fill="#001af2"/><path d="M351.4 243l3.5-1.3l-2.6-3.6l-3.5 1.1z" fill="#005dd1"/><path d="M379 247.7l3.4-2l-2.6-1.6l-3.4 1.8z" fill="#001af2"/><path d="M357.5 244.1l3.4-1.6l-2.6-1.8l-3.4 1z" fill="#0059d2"/><path d="M385 246.3l3.4-1.6l-2.6-.7l-3.4 1.7z" fill="#003de0"/><path d="M363.5 244.4l3.4 .8l-2.6-2.5l-3.4-.2z" fill="#0065cd"/><path d="M391 244.8l3.4-1.4l-2.6-.2l-3.4 1.5z" fill="#005ad2"/><path d="M369.5 247.9l3.4-.5l-2.6-2.7l-3.4 .5z" fill="#001bf2"/><path d="M348 242.9l3.4 .1l-2.6-3.8l-3.4-.3z" fill="#006cc9"/><path d="M375.6 249.2l3.4-1.5l-2.6-1.8l-3.5 1.5z" fill="#001af2"/><path d="M354.1 246.4l3.4-2.3l-2.6-2.4l-3.5 1.3z" fill="#0034e5"/><path d="M381.6 247.9l3.4-1.6l-2.6-.6l-3.4 2z" fill="#0036e4"/><path d="M360.1 244.9l3.4-.5l-2.6-1.9l-3.4 1.6z" fill="#0066cc"/><path d="M387.6 245.9l3.4-1.1l-2.6-.1l-3.4 1.6z" fill="#005ad2"/><path d="M366.1 246.8l3.4 1.1l-2.6-2.7l-3.4-.8z" fill="#0050d7"/><path d="M344.6 242.7l3.4 .2l-2.6-4l-3.4 .8z" fill="#0087bb"/><path d="M393.6 244.8l3.5-1.6l-2.7 .2l-3.4 1.4z" fill="#006bc9"/><path d="M372.1 249.3l3.5-.1l-2.7-1.8l-3.4 .5z" fill="#001fef"/><path d="M350.6 246.3l3.5 .1l-2.7-3.4l-3.4-.1z" fill="#0046dc"/><path d="M378.2 249.2l3.4-1.3l-2.6-.2l-3.4 1.5z" fill="#0034e5"/><path d="M356.7 247.6l3.4-2.7l-2.6-.8l-3.4 2.3z" fill="#0033e6"/><path d="M384.2 246.6l3.4-.7l-2.6 .4l-3.4 1.6z" fill="#0064cd"/><path d="M362.7 246.5l3.4 .3l-2.6-2.4l-3.4 .5z" fill="#005fd0"/><path d="M341.2 242.6l3.4 .1l-2.6-3l-3.4 1z" fill="#009eb0"/><path d="M390.2 245.8l3.4-1l-2.6 0l-3.4 1.1z" fill="#006dc9"/><path d="M368.7 248l3.4 1.3l-2.6-1.4l-3.4-1.1z" fill="#0054d5"/><path d="M347.2 245.5l3.4 .8l-2.6-3.4l-3.4-.2z" fill="#0069cb"/><path d="M396.2 245l3.5-2l-2.6 .2l-3.5 1.6z" fill="#0075c4"/><path d="M374.7 249.9l3.5-.7l-2.6 0l-3.5 .1z" fill="#0036e4"/><path d="M353.2 248.4l3.5-.8l-2.6-1.2l-3.5-.1z" fill="#002aea"/><path d="M380.8 246.6l3.4 0l-2.6 1.3l-3.4 1.3z" fill="#0072c6"/><path d="M359.3 248.1l3.4-1.6l-2.6-1.6l-3.4 2.7z" fill="#0042de"/><path d="M337.8 242.5l3.4 .1l-2.6-1.9l-3.4 .6z" fill="#00aaaa"/><path d="M386.8 246.1l3.4-.3l-2.6 .1l-3.4 .7z" fill="#0078c3"/><path d="M365.3 246.6l3.4 1.4l-2.6-1.2l-3.4-.3z" fill="#0072c6"/><path d="M343.8 244.5l3.4 1l-2.6-2.8l-3.4-.1z" fill="#008aba"/><path d="M392.8 246.3l3.4-1.3l-2.6-.2l-3.4 1z" fill="#0073c5"/><path d="M371.3 248.9l3.4 1l-2.6-.6l-3.4-1.3z" fill="#005ad2"/><path d="M349.8 247.7l3.4 .7l-2.6-2.1l-3.4-.8z" fill="#0050d7"/><path d="M398.8 245.9l3.5-2.4l-2.6-.5l-3.5 2z" fill="#007bc2"/><path d="M377.3 249.1l3.5-2.5l-2.6 2.6l-3.5 .7z" fill="#0059d3"/><path d="M355.8 249.4l3.5-1.3l-2.6-.5l-3.5 .8z" fill="#0024ed"/><path d="M334.3 242.6l3.5-.1l-2.6-1.2l-3.5-.2z" fill="#00aea8"/><path d="M383.4 246.5l3.4-.4l-2.6 .5l-3.4 0z" fill="#0081bf"/><path d="M361.9 247.4l3.4-.8l-2.6-.1l-3.4 1.6z" fill="#0068cb"/><path d="M340.4 243.7l3.4 .8l-2.6-1.9l-3.4-.1z" fill="#00a1af"/><path d="M389.4 246.9l3.4-.6l-2.6-.5l-3.4 .3z" fill="#007bc1"/><path d="M367.9 245.4l3.4 3.5l-2.6-.9l-3.4-1.4z" fill="#0097b3"/><path d="M346.4 246.4l3.4 1.3l-2.6-2.2l-3.4-1z" fill="#0078c3"/><path d="M395.4 247.5l3.4-1.6l-2.6-.9l-3.4 1.3z" fill="#0074c5"/><path d="M373.9 250.4l3.4-1.3l-2.6 .8l-3.4-1z" fill="#0051d6"/><path d="M352.4 248.9l3.4 .5l-2.6-1l-3.4-.7z" fill="#0049da"/><path d="M330.9 242.9l3.4-.3l-2.6-1.5l-3.4-.5z" fill="#00afa7"/><path d="M401.5 246.8l3.4-3l-2.6-.3l-3.5 2.4z" fill="#0083bd"/><path d="M380 248.2l3.4-1.7l-2.6 .1l-3.5 2.5z" fill="#0076c4"/><path d="M358.5 248.8l3.4-1.4l-2.6 .7l-3.5 1.3z" fill="#0052d6"/><path d="M337 243.9l3.4-.2l-2.6-1.2l-3.5 .1z" fill="#00abaa"/><path d="M386 247.4l3.4-.5l-2.6-.8l-3.4 .4z" fill="#0083bd"/><path d="M364.5 245.8l3.4-.4l-2.6 1.2l-3.4 .8z" fill="#0096b4"/><path d="M343 245.4l3.4 1l-2.6-1.9l-3.4-.8z" fill="#0096b4"/><path d="M392 248.1l3.4-.6l-2.6-1.2l-3.4 .6z" fill="#007bc2"/><path d="M370.5 246.3l3.4 4.1l-2.6-1.5l-3.4-3.5z" fill="#009cb1"/><path d="M349 247.6l3.4 1.3l-2.6-1.2l-3.4-1.3z" fill="#0075c4"/><path d="M327.5 243.3l3.4-.4l-2.6-2.3l-3.4 .7z" fill="#00b0a7"/><path d="M398 248.6l3.5-1.8l-2.7-.9l-3.4 1.6z" fill="#0078c3"/><path d="M376.5 249.1l3.5-.9l-2.7 .9l-3.4 1.3z" fill="#0078c3"/><path d="M355 248.7l3.5 .1l-2.7 .6l-3.4-.5z" fill="#0064cd"/><path d="M333.5 244.3l3.5-.4l-2.7-1.3l-3.4 .3z" fill="#00afa7"/><path d="M404.1 246.8l3.4-3.1l-2.6 .1l-3.4 3z" fill="#0094b5"/><path d="M382.6 248.1l3.4-.7l-2.6-.9l-3.4 1.7z" fill="#0086bc"/><path d="M361.1 247l3.4-1.2l-2.6 1.6l-3.4 1.4z" fill="#0089ba"/><path d="M339.6 245.2l3.4 .2l-2.6-1.7l-3.4 .2z" fill="#00a7ab"/><path d="M388.6 248.4l3.4-.3l-2.6-1.2l-3.4 .5z" fill="#0085bc"/><path d="M367.1 245.4l3.4 .9l-2.6-.9l-3.4 .4z" fill="#00ada9"/><path d="M345.6 246.6l3.4 1l-2.6-1.2l-3.4-1z" fill="#0095b4"/><path d="M324.1 244.5l3.4-1.2l-2.6-2l-3.4 1.7z" fill="#00ada8"/><path d="M394.6 249.2l3.4-.6l-2.6-1.1l-3.4 .6z" fill="#007dc0"/><path d="M373.1 247.4l3.4 1.7l-2.6 1.3l-3.4-4.1z" fill="#009ab2"/><path d="M351.6 247.8l3.4 .9l-2.6 .2l-3.4-1.3z" fill="#0085bc"/><path d="M330.1 245l3.4-.7l-2.6-1.4l-3.4 .4z" fill="#00b1a7"/><path d="M400.6 248.9l3.5-2.1l-2.6 0l-3.5 1.8z" fill="#0086bc"/><path d="M379.1 248.4l3.5-.3l-2.6 .1l-3.5 .9z" fill="#008fb7"/><path d="M357.6 247.5l3.5-.5l-2.6 1.8l-3.5-.1z" fill="#008eb8"/><path d="M336.1 245.6l3.5-.4l-2.6-1.3l-3.5 .4z" fill="#00afa8"/><path d="M406.7 246.7l3.4-3.3l-2.6 .3l-3.4 3.1z" fill="#00a2ae"/><path d="M385.2 248.5l3.4-.1l-2.6-1l-3.4 .7z" fill="#008fb7"/><path d="M363.7 246l3.4-.6l-2.6 .4l-3.4 1.2z" fill="#00aba9"/><path d="M342.2 246.4l3.4 .2l-2.6-1.2l-3.4-.2z" fill="#00a8ab"/><path d="M320.7 246.6l3.4-2.1l-2.6-1.5l-3.4 2.6z" fill="#00a5ac"/><path d="M391.2 249.3l3.4-.1l-2.6-1.1l-3.4 .3z" fill="#0088bb"/><path d="M369.7 246.1l3.4 1.3l-2.6-1.1l-3.4-.9z" fill="#00b3a5"/><path d="M348.2 247.1l3.4 .7l-2.6-.2l-3.4-1z" fill="#00a0af"/><path d="M326.7 246.1l3.4-1.1l-2.6-1.7l-3.4 1.2z" fill="#00aea8"/><path d="M397.2 250l3.4-1.1l-2.6-.3l-3.4 .6z" fill="#0086bc"/><path d="M375.7 247.7l3.4 .7l-2.6 .7l-3.4-1.7z" fill="#00a4ad"/><path d="M354.2 247.3l3.4 .2l-2.6 1.2l-3.4-.9z" fill="#009faf"/><path d="M332.7 246.4l3.4-.8l-2.6-1.3l-3.4 .7z" fill="#00b0a7"/><path d="M403.2 249.2l3.5-2.5l-2.6 .1l-3.5 2.1z" fill="#0095b5"/><path d="M381.7 248.5l3.5 0l-2.6-.4l-3.5 .3z" fill="#009cb1"/><path d="M360.2 246.6l3.5-.6l-2.6 1l-3.5 .5z" fill="#00aea8"/><path d="M338.7 246.8l3.5-.4l-2.6-1.2l-3.5 .4z" fill="#00afa7"/><path d="M409.3 247l3.4-3.9l-2.6 .3l-3.4 3.3z" fill="#00aca9"/><path d="M317.2 249.4l3.5-2.8l-2.6-1l-3.5 2.9z" fill="#0096b4"/><path d="M387.8 249.3l3.4 0l-2.6-.9l-3.4 .1z" fill="#0095b4"/><path d="M366.3 245.9l3.4 .2l-2.6-.7l-3.4 .6z" fill="#00bda0"/><path d="M344.8 247.1l3.4 0l-2.6-.5l-3.4-.2z" fill="#00afa8"/><path d="M323.3 248l3.4-1.9l-2.6-1.6l-3.4 2.1z" fill="#00a6ac"/><path d="M393.8 250.3l3.4-.3l-2.6-.8l-3.4 .1z" fill="#008db9"/><path d="M372.3 246.7l3.4 1l-2.6-.3l-3.4-1.3z" fill="#00b9a2"/><path d="M350.8 247.1l3.4 .2l-2.6 .5l-3.4-.7z" fill="#00b2a6"/><path d="M329.3 247.8l3.4-1.4l-2.6-1.4l-3.4 1.1z" fill="#00aca9"/><path d="M399.8 250.7l3.4-1.5l-2.6-.3l-3.4 1.1z" fill="#008eb8"/><path d="M378.3 248l3.4 .5l-2.6-.1l-3.4-.7z" fill="#00aea8"/><path d="M356.8 246.8l3.4-.2l-2.6 .9l-3.4-.2z" fill="#00b7a3"/><path d="M335.3 247.8l3.4-1l-2.6-1.2l-3.4 .8z" fill="#00afa7"/><path d="M405.9 249.7l3.4-2.7l-2.6-.3l-3.5 2.5z" fill="#009eb0"/><path d="M313.8 252.6l3.4-3.2l-2.6-.9l-3.4 3z" fill="#007ac2"/><path d="M384.4 249l3.4 .3l-2.6-.8l-3.5 0z" fill="#00a3ad"/><path d="M362.9 246.2l3.4-.3l-2.6 .1l-3.5 .6z" fill="#00c39d"/><path d="M341.4 247.9l3.4-.8l-2.6-.7l-3.5 .4z" fill="#00b2a6"/><path d="M411.9 247.6l3.4-3.4l-2.6-1.1l-3.4 3.9z" fill="#00afa8"/><path d="M319.9 250.6l3.4-2.6l-2.6-1.4l-3.5 2.8z" fill="#0094b5"/><path d="M390.4 250.2l3.4 .1l-2.6-1l-3.4 0z" fill="#0099b3"/><path d="M368.9 246.3l3.4 .4l-2.6-.6l-3.4-.2z" fill="#00c89b"/><path d="M347.4 247.6l3.4-.5l-2.6 0l-3.4 0z" fill="#00b9a2"/><path d="M325.9 249.9l3.4-2.1l-2.6-1.7l-3.4 1.9z" fill="#009fb0"/><path d="M396.4 251.4l3.4-.7l-2.6-.7l-3.4 .3z" fill="#0090b7"/><path d="M374.9 247.3l3.4 .7l-2.6-.3l-3.4-1z" fill="#00c09f"/><path d="M353.4 247.2l3.4-.4l-2.6 .5l-3.4-.2z" fill="#00c09f"/><path d="M331.9 249.4l3.4-1.6l-2.6-1.4l-3.4 1.4z" fill="#00a8ab"/><path d="M402.4 251.5l3.5-1.8l-2.7-.5l-3.4 1.5z" fill="#0094b5"/><path d="M310.4 255.6l3.4-3l-2.6-1.1l-3.4 2.8z" fill="#0056d4"/><path d="M380.9 248.6l3.5 .4l-2.7-.5l-3.4-.5z" fill="#00b4a5"/><path d="M359.4 246.7l3.5-.5l-2.7 .4l-3.4 .2z" fill="#00c99b"/><path d="M337.9 249.2l3.5-1.3l-2.7-1.1l-3.4 1z" fill="#00aea8"/><path d="M408.5 250.5l3.4-2.9l-2.6-.6l-3.4 2.7z" fill="#00a2ae"/><path d="M316.4 254.1l3.5-3.5l-2.7-1.2l-3.4 3.2z" fill="#0071c7"/><path d="M387 250l3.4 .2l-2.6-.9l-3.4-.3z" fill="#00a6ac"/><path d="M365.5 246.3l3.4 0l-2.6-.4l-3.4 .3z" fill="#00d197"/><path d="M344 248.8l3.4-1.2l-2.6-.5l-3.4 .8z" fill="#00b7a4"/><path d="M414.5 249l3.4-2.2l-2.6-2.6l-3.4 3.4z" fill="#00afa8"/><path d="M322.5 252.8l3.4-2.9l-2.6-1.9l-3.4 2.6z" fill="#0085bd"/><path d="M393 251.6l3.4-.2l-2.6-1.1l-3.4-.1z" fill="#0098b3"/><path d="M371.5 246.7l3.4 .6l-2.6-.6l-3.4-.4z" fill="#00d097"/><path d="M350 248.1l3.4-.9l-2.6-.1l-3.4 .5z" fill="#00c29e"/><path d="M328.5 251.7l3.4-2.3l-2.6-1.6l-3.4 2.1z" fill="#0098b3"/><path d="M399 252.6l3.4-1.1l-2.6-.8l-3.4 .7z" fill="#0091b7"/><path d="M307 258.3l3.4-2.7l-2.6-1.3l-3.4 2.8z" fill="#003be2"/><path d="M377.5 247.9l3.4 .7l-2.6-.6l-3.4-.7z" fill="#00c69c"/><path d="M356 247.4l3.4-.7l-2.6 .1l-3.4 .4z" fill="#00cc99"/><path d="M334.5 250.9l3.4-1.7l-2.6-1.4l-3.4 1.6z" fill="#00a5ad"/><path d="M405 252.5l3.5-2l-2.6-.8l-3.5 1.8z" fill="#0097b4"/><path d="M313 257.1l3.4-3l-2.6-1.5l-3.4 3z" fill="#004ed8"/><path d="M383.5 249.6l3.5 .4l-2.6-1l-3.5-.4z" fill="#00b6a4"/><path d="M362 246.7l3.5-.4l-2.6-.1l-3.5 .5z" fill="#00d694"/><path d="M340.5 250.3l3.5-1.5l-2.6-.9l-3.5 1.3z" fill="#00afa7"/><path d="M411.1 251.4l3.4-2.4l-2.6-1.4l-3.4 2.9z" fill="#00a3ad"/><path d="M319 256.3l3.5-3.5l-2.6-2.2l-3.5 3.5z" fill="#005fd0"/><path d="M389.6 251.4l3.4 .2l-2.6-1.4l-3.4-.2z" fill="#00a4ad"/><path d="M368.1 246.5l3.4 .2l-2.6-.4l-3.4 0z" fill="#00dc91"/><path d="M346.6 249.6l3.4-1.5l-2.6-.5l-3.4 1.2z" fill="#00bca1"/><path d="M417.1 249.7l3.4-2.5l-2.6-.4l-3.4 2.2z" fill="#00aca9"/><path d="M325.1 254.7l3.4-3l-2.6-1.8l-3.4 2.9z" fill="#007cc1"/><path d="M395.6 253l3.4-.4l-2.6-1.2l-3.4 .2z" fill="#0095b5"/><path d="M303.6 260.6l3.4-2.3l-2.6-1.2l-3.4 2.6z" fill="#0035e4"/><path d="M374.1 247.3l3.4 .6l-2.6-.6l-3.4-.6z" fill="#00d694"/><path d="M352.6 248.6l3.4-1.2l-2.6-.2l-3.4 .9z" fill="#00c99a"/><path d="M331.1 253.1l3.4-2.2l-2.6-1.5l-3.4 2.3z" fill="#0095b4"/><path d="M401.6 253.8l3.4-1.3l-2.6-1l-3.4 1.1z" fill="#0090b7"/><path d="M309.6 259.3l3.4-2.2l-2.6-1.5l-3.4 2.7z" fill="#0039e3"/><path d="M380.1 249l3.4 .6l-2.6-1l-3.4-.7z" fill="#00c79b"/><path d="M358.6 247.6l3.4-.9l-2.6 0l-3.4 .7z" fill="#00d794"/><path d="M337.1 252.1l3.4-1.8l-2.6-1.1l-3.4 1.7z" fill="#00a5ad"/><path d="M407.6 253.4l3.5-2l-2.6-.9l-3.5 2z" fill="#0099b3"/><path d="M315.6 258.8l3.4-2.5l-2.6-2.2l-3.4 3z" fill="#0044dd"/><path d="M386.1 251l3.5 .4l-2.6-1.4l-3.5-.4z" fill="#00b4a5"/><path d="M364.6 246.8l3.5-.3l-2.6-.2l-3.5 .4z" fill="#00e28e"/><path d="M343.1 251.3l3.5-1.7l-2.6-.8l-3.5 1.5z" fill="#00b2a6"/><path d="M413.7 252.3l3.4-2.6l-2.6-.7l-3.4 2.4z" fill="#00a4ad"/><path d="M321.6 257.9l3.5-3.2l-2.6-1.9l-3.5 3.5z" fill="#005ad2"/><path d="M392.2 253l3.4 0l-2.6-1.4l-3.4-.2z" fill="#00a0af"/><path d="M300.1 261.7l3.5-1.1l-2.6-.9l-3.5 .9z" fill="#0043dd"/><path d="M370.7 246.9l3.4 .4l-2.6-.6l-3.4-.2z" fill="#00e48d"/><path d="M349.2 250.3l3.4-1.7l-2.6-.5l-3.4 1.5z" fill="#00c19e"/><path d="M419.7 250.2l3.4-3.7l-2.6 .7l-3.4 2.5z" fill="#00a9aa"/><path d="M327.7 255.7l3.4-2.6l-2.6-1.4l-3.4 3z" fill="#007fc0"/><path d="M398.2 254.6l3.4-.8l-2.6-1.2l-3.4 .4z" fill="#0091b7"/><path d="M306.2 261.3l3.4-2l-2.6-1l-3.4 2.3z" fill="#003be2"/><path d="M376.7 248.2l3.4 .8l-2.6-1.1l-3.4-.6z" fill="#00d992"/><path d="M355.2 249l3.4-1.4l-2.6-.2l-3.4 1.2z" fill="#00d296"/><path d="M333.7 254.1l3.4-2l-2.6-1.2l-3.4 2.2z" fill="#0097b3"/><path d="M404.2 254.9l3.4-1.5l-2.6-.9l-3.4 1.3z" fill="#0091b6"/><path d="M312.2 260.6l3.4-1.8l-2.6-1.7l-3.4 2.2z" fill="#003ce1"/><path d="M382.7 250.4l3.4 .6l-2.6-1.4l-3.4-.6z" fill="#00c59c"/><path d="M361.2 247.7l3.4-.9l-2.6-.1l-3.4 .9z" fill="#00e38e"/><path d="M339.7 253.2l3.4-1.9l-2.6-1l-3.4 1.8z" fill="#00a7ac"/><path d="M410.3 254.4l3.4-2.1l-2.6-.9l-3.5 2z" fill="#009bb2"/><path d="M318.2 260.1l3.4-2.2l-2.6-1.6l-3.4 2.5z" fill="#0049db"/><path d="M388.8 252.7l3.4 .3l-2.6-1.6l-3.5-.4z" fill="#00afa8"/><path d="M296.7 261.6l3.4 .1l-2.6-1.1l-3.4-.4z" fill="#0059d2"/><path d="M367.3 246.9l3.4 0l-2.6-.4l-3.5 .3z" fill="#00ed88"/><path d="M345.8 252.3l3.4-2l-2.6-.7l-3.5 1.7z" fill="#00b6a4"/><path d="M416.3 253.5l3.4-3.3l-2.6-.5l-3.4 2.6z" fill="#00a4ad"/><path d="M324.3 258.3l3.4-2.6l-2.6-1l-3.5 3.2z" fill="#0069ca"/><path d="M394.8 254.7l3.4-.1l-2.6-1.6l-3.4 0z" fill="#009ab2"/><path d="M302.8 262.6l3.4-1.3l-2.6-.7l-3.5 1.1z" fill="#004dd8"/><path d="M373.3 247.5l3.4 .7l-2.6-.9l-3.4-.4z" fill="#00ea8a"/><path d="M351.8 251l3.4-2l-2.6-.4l-3.4 1.7z" fill="#00c79b"/><path d="M422.3 251.5l3.4-3.8l-2.6-1.2l-3.4 3.7z" fill="#00a6ac"/><path d="M330.3 256.2l3.4-2.1l-2.6-1l-3.4 2.6z" fill="#0088bb"/><path d="M400.8 255.9l3.4-1l-2.6-1.1l-3.4 .8z" fill="#0090b7"/><path d="M308.8 262.3l3.4-1.7l-2.6-1.3l-3.4 2z" fill="#0045dc"/><path d="M379.3 249.6l3.4 .8l-2.6-1.4l-3.4-.8z" fill="#00d893"/><path d="M357.8 249.2l3.4-1.5l-2.6-.1l-3.4 1.4z" fill="#00dd91"/><path d="M336.3 255l3.4-1.8l-2.6-1.1l-3.4 2z" fill="#009cb1"/><path d="M406.8 256l3.5-1.6l-2.7-1l-3.4 1.5z" fill="#0094b5"/><path d="M314.8 261.8l3.4-1.7l-2.6-1.3l-3.4 1.8z" fill="#0049da"/><path d="M385.3 252.1l3.5 .6l-2.7-1.7l-3.4-.6z" fill="#00c09f"/><path d="M293.3 260.7l3.4 .9l-2.6-1.4l-3.4-.8z" fill="#0073c5"/><path d="M363.8 247.6l3.5-.7l-2.7-.1l-3.4 .9z" fill="#00f087"/><path d="M342.3 254.2l3.5-1.9l-2.7-1l-3.4 1.9z" fill="#00aaaa"/><path d="M412.9 255.8l3.4-2.3l-2.6-1.2l-3.4 2.1z" fill="#009cb1"/><path d="M320.8 260.6l3.5-2.3l-2.7-.4l-3.4 2.2z" fill="#005ed0"/><path d="M391.4 254.5l3.4 .2l-2.6-1.7l-3.4-.3z" fill="#00a8ab"/><path d="M299.3 262.7l3.5-.1l-2.7-.9l-3.4-.1z" fill="#0066cc"/><path d="M369.9 247.2l3.4 .3l-2.6-.6l-3.4 0z" fill="#00f784"/><path d="M348.4 253.1l3.4-2.1l-2.6-.7l-3.4 2z" fill="#00baa2"/><path d="M418.9 255.2l3.4-3.7l-2.6-1.3l-3.4 3.3z" fill="#00a2ae"/><path d="M326.9 258.4l3.4-2.2l-2.6-.5l-3.4 2.6z" fill="#007bc1"/><path d="M397.4 256.2l3.4-.3l-2.6-1.3l-3.4 .1z" fill="#0097b3"/><path d="M305.4 263.4l3.4-1.1l-2.6-1l-3.4 1.3z" fill="#005ad2"/><path d="M375.9 248.7l3.4 .9l-2.6-1.4l-3.4-.7z" fill="#00eb8a"/><path d="M354.4 251.3l3.4-2.1l-2.6-.2l-3.4 2z" fill="#00d197"/><path d="M424.9 253l3.4-3.8l-2.6-1.5l-3.4 3.8z" fill="#009faf"/><path d="M332.9 256.7l3.4-1.7l-2.6-.9l-3.4 2.1z" fill="#0093b5"/><path d="M403.4 257l3.4-1l-2.6-1.1l-3.4 1z" fill="#0093b6"/><path d="M311.4 263.2l3.4-1.4l-2.6-1.2l-3.4 1.7z" fill="#0056d4"/><path d="M381.9 251.4l3.4 .7l-2.6-1.7l-3.4-.8z" fill="#00d296"/><path d="M289.9 259l3.4 1.7l-2.6-1.3l-3.4-.9z" fill="#008fb7"/><path d="M360.4 249.1l3.4-1.5l-2.6 .1l-3.4 1.5z" fill="#00ea8a"/><path d="M338.9 255.9l3.4-1.7l-2.6-1l-3.4 1.8z" fill="#00a2ae"/><path d="M409.4 257.3l3.5-1.5l-2.6-1.4l-3.5 1.6z" fill="#0097b4"/><path d="M317.4 262.3l3.4-1.7l-2.6-.5l-3.4 1.7z" fill="#005fcf"/><path d="M387.9 254.2l3.5 .3l-2.6-1.8l-3.5-.6z" fill="#00b7a3"/><path d="M295.9 261.8l3.4 .9l-2.6-1.1l-3.4-.9z" fill="#0081be"/><path d="M366.4 247.6l3.5-.4l-2.6-.3l-3.5 .7z" fill="#00fc81"/><path d="M344.9 255.1l3.5-2l-2.6-.8l-3.5 1.9z" fill="#00aea8"/><path d="M415.5 257.3l3.4-2.1l-2.6-1.7l-3.4 2.3z" fill="#009cb1"/><path d="M323.4 260.6l3.5-2.2l-2.6-.1l-3.5 2.3z" fill="#0075c5"/><path d="M394 256.3l3.4-.1l-2.6-1.5l-3.4-.2z" fill="#00a1ae"/><path d="M301.9 263.7l3.5-.3l-2.6-.8l-3.5 .1z" fill="#0073c6"/><path d="M372.5 248.1l3.4 .6l-2.6-1.2l-3.4-.3z" fill="#00fb82"/><path d="M351 253.8l3.4-2.5l-2.6-.3l-3.4 2.1z" fill="#00c09f"/><path d="M421.5 256.5l3.4-3.5l-2.6-1.5l-3.4 3.7z" fill="#009db1"/><path d="M329.5 258.4l3.4-1.7l-2.6-.5l-3.4 2.2z" fill="#008db9"/><path d="M400 257.6l3.4-.6l-2.6-1.1l-3.4 .3z" fill="#0097b4"/><path d="M308 264.2l3.4-1l-2.6-.9l-3.4 1.1z" fill="#0069ca"/><path d="M378.5 250.5l3.4 .9l-2.6-1.8l-3.4-.9z" fill="#00e58c"/><path d="M286.5 256.3l3.4 2.7l-2.6-.5l-3.4-1.7z" fill="#00abaa"/><path d="M357 251.4l3.4-2.3l-2.6 .1l-3.4 2.1z" fill="#00dd90"/><path d="M427.5 255l3.4-3.8l-2.6-2l-3.4 3.8z" fill="#0096b4"/><path d="M335.5 257.3l3.4-1.4l-2.6-.9l-3.4 1.7z" fill="#009db1"/><path d="M406 258.3l3.4-1l-2.6-1.3l-3.4 1z" fill="#0095b5"/><path d="M314 263.8l3.4-1.5l-2.6-.5l-3.4 1.4z" fill="#006aca"/><path d="M384.5 253.7l3.4 .5l-2.6-2.1l-3.4-.7z" fill="#00c89b"/><path d="M292.5 259.5l3.4 2.3l-2.6-1.1l-3.4-1.7z" fill="#009db1"/><path d="M363 249l3.4-1.4l-2.6 0l-3.4 1.5z" fill="#00f883"/><path d="M341.5 256.7l3.4-1.6l-2.6-.9l-3.4 1.7z" fill="#00a7ac"/><path d="M412 258.7l3.5-1.4l-2.6-1.5l-3.5 1.5z" fill="#0098b3"/><path d="M320 262.4l3.4-1.8l-2.6 0l-3.4 1.7z" fill="#0076c4"/><path d="M390.5 256.4l3.5-.1l-2.6-1.8l-3.5-.3z" fill="#00ada9"/><path d="M298.5 262.8l3.4 .9l-2.6-1l-3.4-.9z" fill="#008db9"/><path d="M369 248.2l3.5-.1l-2.6-.9l-3.5 .4z" fill="#00ff80"/><path d="M347.5 256l3.5-2.2l-2.6-.7l-3.5 2z" fill="#00b1a6"/><path d="M418.1 258.7l3.4-2.2l-2.6-1.3l-3.4 2.1z" fill="#0099b2"/><path d="M326 260.4l3.5-2l-2.6 0l-3.5 2.2z" fill="#008aba"/><path d="M396.6 258l3.4-.4l-2.6-1.4l-3.4 .1z" fill="#009db0"/><path d="M304.5 264.5l3.5-.3l-2.6-.8l-3.5 .3z" fill="#0080bf"/><path d="M375.1 249.9l3.4 .6l-2.6-1.8l-3.4-.6z" fill="#00f584"/><path d="M283 254.1l3.5 2.2l-2.6 .5l-3.5-1.8z" fill="#00bea0"/><path d="M353.6 254.1l3.4-2.7l-2.6-.1l-3.4 2.5z" fill="#00ca9a"/><path d="M424.1 258.2l3.4-3.2l-2.6-2l-3.4 3.5z" fill="#0094b5"/><path d="M332.1 258.8l3.4-1.5l-2.6-.6l-3.4 1.7z" fill="#009bb2"/><path d="M402.6 259l3.4-.7l-2.6-1.3l-3.4 .6z" fill="#0097b4"/><path d="M310.6 264.8l3.4-1l-2.6-.6l-3.4 1z" fill="#007ac2"/><path d="M381.1 253.1l3.4 .6l-2.6-2.3l-3.4-.9z" fill="#00d893"/><path d="M289.1 256.5l3.4 3l-2.6-.5l-3.4-2.7z" fill="#00b6a4"/><path d="M359.6 251.4l3.4-2.4l-2.6 .1l-3.4 2.3z" fill="#00ea8a"/><path d="M430.1 258.1l3.4-3.2l-2.6-3.7l-3.4 3.8z" fill="#008bba"/><path d="M338.1 258l3.4-1.3l-2.6-.8l-3.4 1.4z" fill="#00a5ad"/><path d="M408.6 259.6l3.4-.9l-2.6-1.4l-3.4 1z" fill="#0095b4"/><path d="M316.6 264l3.4-1.6l-2.6-.1l-3.4 1.5z" fill="#007fbf"/><path d="M387.1 256.3l3.4 .1l-2.6-2.2l-3.4-.5z" fill="#00b9a3"/><path d="M295.1 260.3l3.4 2.5l-2.6-1l-3.4-2.3z" fill="#00a6ac"/><path d="M365.6 249.5l3.4-1.3l-2.6-.6l-3.4 1.4z" fill="#00ff80"/><path d="M344.1 257.7l3.4-1.7l-2.6-.9l-3.4 1.6z" fill="#00aaaa"/><path d="M414.7 260l3.4-1.3l-2.6-1.4l-3.5 1.4z" fill="#0096b4"/><path d="M322.6 262.3l3.4-1.9l-2.6 .2l-3.4 1.8z" fill="#008cb9"/><path d="M393.2 258.4l3.4-.4l-2.6-1.7l-3.5 .1z" fill="#00a4ad"/><path d="M301.1 263.6l3.4 .9l-2.6-.8l-3.4-.9z" fill="#0097b4"/><path d="M371.7 249.9l3.4 0l-2.6-1.8l-3.5 .1z" fill="#00ff80"/><path d="M279.6 255l3.4-.9l-2.6 .9l-3.4-.1z" fill="#00c29e"/><path d="M350.2 256.8l3.4-2.7l-2.6-.3l-3.5 2.2z" fill="#00b7a4"/><path d="M420.7 260.2l3.4-2l-2.6-1.7l-3.4 2.2z" fill="#0093b5"/><path d="M328.7 260.4l3.4-1.6l-2.6-.4l-3.5 2z" fill="#009bb2"/><path d="M399.2 259.6l3.4-.6l-2.6-1.4l-3.4 .4z" fill="#009ab2"/><path d="M307.2 265l3.4-.2l-2.6-.6l-3.5 .3z" fill="#008db8"/><path d="M377.7 252.8l3.4 .3l-2.6-2.6l-3.4-.6z" fill="#00e68c"/><path d="M285.7 254.7l3.4 1.8l-2.6-.2l-3.5-2.2z" fill="#00c59d"/><path d="M356.2 254.4l3.4-3l-2.6 0l-3.4 2.7z" fill="#00d595"/><path d="M426.7 260.7l3.4-2.6l-2.6-3.1l-3.4 3.2z" fill="#008aba"/><path d="M334.7 259.2l3.4-1.2l-2.6-.7l-3.4 1.5z" fill="#00a6ac"/><path d="M405.2 260.3l3.4-.7l-2.6-1.3l-3.4 .7z" fill="#0096b4"/><path d="M313.2 265.1l3.4-1.1l-2.6-.2l-3.4 1z" fill="#008cb9"/><path d="M383.7 256.3l3.4 0l-2.6-2.6l-3.4-.6z" fill="#00c49d"/><path d="M291.7 257.2l3.4 3.1l-2.6-.8l-3.4-3z" fill="#00baa2"/><path d="M362.2 251.8l3.4-2.3l-2.6-.5l-3.4 2.4z" fill="#00f386"/><path d="M432.7 260.7l3.5-2.5l-2.7-3.3l-3.4 3.2z" fill="#0082be"/><path d="M340.7 258.8l3.4-1.1l-2.6-1l-3.4 1.3z" fill="#00a9aa"/><path d="M411.2 261l3.5-1l-2.7-1.3l-3.4 .9z" fill="#0093b5"/><path d="M319.2 263.9l3.4-1.6l-2.6 .1l-3.4 1.6z" fill="#0093b6"/><path d="M389.7 258.9l3.5-.5l-2.7-2l-3.4-.1z" fill="#00a9ab"/><path d="M297.7 261.1l3.4 2.5l-2.6-.8l-3.4-2.5z" fill="#00aba9"/><path d="M368.2 251l3.5-1.1l-2.7-1.7l-3.4 1.3z" fill="#00ff80"/><path d="M276.2 256.8l3.4-1.8l-2.6-.1l-3.4 1z" fill="#00c29e"/><path d="M346.7 258.9l3.5-2.1l-2.7-.8l-3.4 1.7z" fill="#00abaa"/><path d="M417.3 261.3l3.4-1.1l-2.6-1.5l-3.4 1.3z" fill="#0092b6"/><path d="M325.2 262.1l3.5-1.7l-2.7 0l-3.4 1.9z" fill="#009eb0"/><path d="M395.8 260.3l3.4-.7l-2.6-1.6l-3.4 .4z" fill="#009db1"/><path d="M303.7 264.1l3.5 .9l-2.7-.5l-3.4-.9z" fill="#009faf"/><path d="M374.3 253l3.4-.2l-2.6-2.9l-3.4 0z" fill="#00ee88"/><path d="M282.2 255.9l3.5-1.2l-2.7-.6l-3.4 .9z" fill="#00c59c"/><path d="M352.8 257.7l3.4-3.3l-2.6-.3l-3.4 2.7z" fill="#00bba1"/><path d="M423.3 262l3.4-1.3l-2.6-2.5l-3.4 2z" fill="#008cb9"/><path d="M331.3 260.5l3.4-1.3l-2.6-.4l-3.4 1.6z" fill="#00a8ab"/><path d="M401.8 261l3.4-.7l-2.6-1.3l-3.4 .6z" fill="#0098b3"/><path d="M309.8 265.4l3.4-.3l-2.6-.3l-3.4 .2z" fill="#009ab2"/><path d="M380.3 256.5l3.4-.2l-2.6-3.2l-3.4-.3z" fill="#00cc99"/><path d="M288.3 255.9l3.4 1.3l-2.6-.7l-3.4-1.8z" fill="#00c49d"/><path d="M358.8 255l3.4-3.2l-2.6-.4l-3.4 3z" fill="#00dc91"/><path d="M429.3 262.9l3.4-2.2l-2.6-2.6l-3.4 2.6z" fill="#0081bf"/><path d="M337.3 259.8l3.4-1l-2.6-.8l-3.4 1.2z" fill="#00ada9"/><path d="M407.8 261.8l3.4-.8l-2.6-1.4l-3.4 .7z" fill="#0092b6"/><path d="M315.8 265.1l3.4-1.2l-2.6 .1l-3.4 1.1z" fill="#009cb1"/><path d="M386.3 259.7l3.4-.8l-2.6-2.6l-3.4 0z" fill="#00aba9"/><path d="M294.3 257.8l3.4 3.3l-2.6-.8l-3.4-3.1z" fill="#00bba1"/><path d="M364.8 253.4l3.4-2.4l-2.6-1.5l-3.4 2.3z" fill="#00f087"/><path d="M435.3 262l3.5-2.1l-2.6-1.7l-3.5 2.5z" fill="#007cc1"/><path d="M343.3 260.1l3.4-1.2l-2.6-1.2l-3.4 1.1z" fill="#00a9ab"/><path d="M413.8 262.3l3.5-1l-2.6-1.3l-3.5 1z" fill="#0090b7"/><path d="M321.8 263.6l3.4-1.5l-2.6 .2l-3.4 1.6z" fill="#00a4ad"/><path d="M392.3 261.3l3.5-1l-2.6-1.9l-3.5 .5z" fill="#009bb1"/><path d="M300.3 261.7l3.4 2.4l-2.6-.5l-3.4-2.5z" fill="#00b0a7"/><path d="M370.8 253.9l3.5-.9l-2.6-3.1l-3.5 1.1z" fill="#00ef88"/><path d="M278.8 258l3.4-2.1l-2.6-.9l-3.4 1.8z" fill="#00c39d"/><path d="M349.3 260.5l3.5-2.8l-2.6-.9l-3.5 2.1z" fill="#00a6ac"/><path d="M419.9 262.8l3.4-.8l-2.6-1.8l-3.4 1.1z" fill="#008eb8"/><path d="M327.8 262l3.5-1.5l-2.6-.1l-3.5 1.7z" fill="#00aca9"/><path d="M398.4 261.9l3.4-.9l-2.6-1.4l-3.4 .7z" fill="#0099b3"/><path d="M306.3 264.7l3.5 .7l-2.6-.4l-3.5-.9z" fill="#00a8ab"/><path d="M376.9 257.4l3.4-.9l-2.6-3.7l-3.4 .2z" fill="#00cd99"/><path d="M284.8 257.1l3.5-1.2l-2.6-1.2l-3.5 1.2z" fill="#00c69c"/><path d="M355.4 258.9l3.4-3.9l-2.6-.6l-3.4 3.3z" fill="#00bca1"/><path d="M425.9 264l3.4-1.1l-2.6-2.2l-3.4 1.3z" fill="#0084bd"/><path d="M333.9 260.9l3.4-1.1l-2.6-.6l-3.4 1.3z" fill="#00b0a7"/><path d="M404.4 262.5l3.4-.7l-2.6-1.5l-3.4 .7z" fill="#0094b5"/><path d="M312.4 265.6l3.4-.5l-2.6 0l-3.4 .3z" fill="#00a7ab"/><path d="M382.9 260.7l3.4-1l-2.6-3.4l-3.4 .2z" fill="#00aaaa"/><path d="M290.9 256.4l3.4 1.4l-2.6-.6l-3.4-1.3z" fill="#00c39d"/><path d="M361.4 256.9l3.4-3.5l-2.6-1.6l-3.4 3.2z" fill="#00d594"/><path d="M431.9 264.3l3.4-2.3l-2.6-1.3l-3.4 2.2z" fill="#007ac2"/><path d="M339.9 260.8l3.4-.7l-2.6-1.3l-3.4 1z" fill="#00aea8"/><path d="M410.4 263.3l3.4-1l-2.6-1.3l-3.4 .8z" fill="#008db8"/><path d="M318.4 264.8l3.4-1.2l-2.6 .3l-3.4 1.2z" fill="#00aba9"/><path d="M388.9 262.7l3.4-1.4l-2.6-2.4l-3.4 .8z" fill="#0096b4"/><path d="M296.9 258.7l3.4 3l-2.6-.6l-3.4-3.3z" fill="#00bca1"/><path d="M367.4 256.5l3.4-2.6l-2.6-2.9l-3.4 2.4z" fill="#00dd90"/><path d="M437.9 263.4l3.5-2.5l-2.6-1l-3.5 2.1z" fill="#0077c4"/><path d="M345.9 262l3.4-1.5l-2.6-1.6l-3.4 1.2z" fill="#00a0af"/><path d="M416.4 263.8l3.5-1l-2.6-1.5l-3.5 1z" fill="#008cb9"/><path d="M324.4 263.3l3.4-1.3l-2.6 .1l-3.4 1.5z" fill="#00b1a7"/><path d="M394.9 263.2l3.5-1.3l-2.6-1.6l-3.5 1z" fill="#0093b5"/><path d="M302.9 262.7l3.4 2l-2.6-.6l-3.4-2.4z" fill="#00b4a5"/><path d="M373.4 258.8l3.5-1.4l-2.6-4.4l-3.5 .9z" fill="#00c79b"/><path d="M281.4 259l3.4-1.9l-2.6-1.2l-3.4 2.1z" fill="#00c49d"/><path d="M351.9 262.2l3.5-3.3l-2.6-1.2l-3.5 2.8z" fill="#00a0af"/><path d="M422.5 264.6l3.4-.6l-2.6-2l-3.4 .8z" fill="#0087bc"/><path d="M330.4 262.1l3.5-1.2l-2.6-.4l-3.5 1.5z" fill="#00b3a5"/><path d="M401 263.5l3.4-1l-2.6-1.5l-3.4 .9z" fill="#0094b5"/><path d="M308.9 265.2l3.5 .4l-2.6-.2l-3.5-.7z" fill="#00b1a7"/><path d="M379.5 262.3l3.4-1.6l-2.6-4.2l-3.4 .9z" fill="#00a2ae"/><path d="M287.4 258.2l3.5-1.8l-2.6-.5l-3.5 1.2z" fill="#00c49d"/><path d="M358 260.8l3.4-3.9l-2.6-1.9l-3.4 3.9z" fill="#00b5a5"/><path d="M428.5 265.7l3.4-1.4l-2.6-1.4l-3.4 1.1z" fill="#007dc1"/><path d="M336.5 261.7l3.4-.9l-2.6-1l-3.4 1.1z" fill="#00b1a6"/><path d="M407 264.2l3.4-.9l-2.6-1.5l-3.4 .7z" fill="#008eb8"/><path d="M315 265.6l3.4-.8l-2.6 .3l-3.4 .5z" fill="#00b3a5"/><path d="M385.5 264.3l3.4-1.6l-2.6-3l-3.4 1z" fill="#008db9"/><path d="M293.5 257.3l3.4 1.4l-2.6-.9l-3.4-1.4z" fill="#00c29e"/><path d="M364 260l3.4-3.5l-2.6-3.1l-3.4 3.5z" fill="#00c19e"/><path d="M434.5 265.9l3.4-2.5l-2.6-1.4l-3.4 2.3z" fill="#0074c5"/><path d="M342.5 262.7l3.4-.7l-2.6-1.9l-3.4 .7z" fill="#00a4ad"/><path d="M413 264.8l3.4-1l-2.6-1.5l-3.4 1z" fill="#0089ba"/><path d="M321 264.4l3.4-1.1l-2.6 .3l-3.4 1.2z" fill="#00b8a3"/><path d="M391.5 264.9l3.4-1.7l-2.6-1.9l-3.4 1.4z" fill="#008aba"/><path d="M299.5 260.1l3.4 2.6l-2.6-1l-3.4-3z" fill="#00bca1"/><path d="M370 261.3l3.4-2.5l-2.6-4.9l-3.4 2.6z" fill="#00b5a5"/><path d="M440.6 265.3l3.4-3l-2.6-1.4l-3.5 2.5z" fill="#0071c7"/><path d="M348.5 264.3l3.4-2.1l-2.6-1.7l-3.4 1.5z" fill="#0092b6"/><path d="M419.1 265.5l3.4-.9l-2.6-1.8l-3.5 1z" fill="#0087bc"/><path d="M327 263.2l3.4-1.1l-2.6-.1l-3.4 1.3z" fill="#00b9a3"/><path d="M397.6 264.8l3.4-1.3l-2.6-1.6l-3.5 1.3z" fill="#008fb8"/><path d="M305.5 263.8l3.4 1.4l-2.6-.5l-3.4-2z" fill="#00b8a3"/><path d="M376.1 263.8l3.4-1.5l-2.6-4.9l-3.5 1.4z" fill="#009ab2"/><path d="M284 260l3.4-1.8l-2.6-1.1l-3.4 1.9z" fill="#00c39d"/><path d="M354.6 264.1l3.4-3.3l-2.6-1.9l-3.5 3.3z" fill="#0099b3"/><path d="M425.1 266.5l3.4-.8l-2.6-1.7l-3.4 .6z" fill="#0080bf"/><path d="M333.1 262.9l3.4-1.2l-2.6-.8l-3.5 1.2z" fill="#00b3a6"/><path d="M403.6 265.2l3.4-1l-2.6-1.7l-3.4 1z" fill="#008eb8"/><path d="M311.6 265.5l3.4 .1l-2.6 0l-3.5-.4z" fill="#00baa2"/><path d="M382.1 266.2l3.4-1.9l-2.6-3.6l-3.4 1.6z" fill="#0080bf"/><path d="M290.1 258.6l3.4-1.3l-2.6-.9l-3.5 1.8z" fill="#00c39e"/><path d="M360.6 263.3l3.4-3.3l-2.6-3.1l-3.4 3.9z" fill="#00a6ac"/><path d="M431.1 267.4l3.4-1.5l-2.6-1.6l-3.4 1.4z" fill="#0076c4"/><path d="M339.1 263.8l3.4-1.1l-2.6-1.9l-3.4 .9z" fill="#00a4ad"/><path d="M409.6 265.9l3.4-1.1l-2.6-1.5l-3.4 .9z" fill="#0088bb"/><path d="M317.6 265.1l3.4-.7l-2.6 .4l-3.4 .8z" fill="#00bea0"/><path d="M388.1 266.5l3.4-1.6l-2.6-2.2l-3.4 1.6z" fill="#0080bf"/><path d="M296.1 258.2l3.4 1.9l-2.6-1.4l-3.4-1.4z" fill="#00c09f"/><path d="M366.6 263.5l3.4-2.2l-2.6-4.8l-3.4 3.5z" fill="#00a6ac"/><path d="M437.1 267.9l3.5-2.6l-2.7-1.9l-3.4 2.5z" fill="#006dc8"/><path d="M345.1 265.7l3.4-1.4l-2.6-2.3l-3.4 .7z" fill="#008db9"/><path d="M415.6 266.5l3.5-1l-2.7-1.7l-3.4 1z" fill="#0084bd"/><path d="M323.6 263.9l3.4-.7l-2.6 .1l-3.4 1.1z" fill="#00c09f"/><path d="M394.1 266.3l3.5-1.5l-2.7-1.6l-3.4 1.7z" fill="#0088bb"/><path d="M302.1 262l3.4 1.8l-2.6-1.1l-3.4-2.6z" fill="#00bda1"/><path d="M372.6 265.2l3.5-1.4l-2.7-5l-3.4 2.5z" fill="#0094b5"/><path d="M443.2 266.7l3.4-3.5l-2.6-.9l-3.4 3z" fill="#006dc8"/><path d="M351.1 266.5l3.5-2.4l-2.7-1.9l-3.4 2.1z" fill="#0086bc"/><path d="M421.7 267.3l3.4-.8l-2.6-1.9l-3.4 .9z" fill="#0080bf"/><path d="M329.6 263.6l3.5-.7l-2.7-.8l-3.4 1.1z" fill="#00baa2"/><path d="M400.2 266.3l3.4-1.1l-2.6-1.7l-3.4 1.3z" fill="#008cb9"/><path d="M308.1 264.7l3.5 .8l-2.7-.3l-3.4-1.4z" fill="#00bda0"/><path d="M378.7 267.4l3.4-1.2l-2.6-3.9l-3.4 1.5z" fill="#007cc1"/><path d="M286.6 260.9l3.5-2.3l-2.7-.4l-3.4 1.8z" fill="#00c29e"/><path d="M357.2 266.1l3.4-2.8l-2.6-2.5l-3.4 3.3z" fill="#0090b7"/><path d="M427.7 268.2l3.4-.8l-2.6-1.7l-3.4 .8z" fill="#007ac2"/><path d="M335.7 264.8l3.4-1l-2.6-2.1l-3.4 1.2z" fill="#00a5ac"/><path d="M406.2 266.8l3.4-.9l-2.6-1.7l-3.4 1z" fill="#0088bb"/><path d="M314.2 265.3l3.4-.2l-2.6 .5l-3.4-.1z" fill="#00c29e"/><path d="M384.7 268.1l3.4-1.6l-2.6-2.2l-3.4 1.9z" fill="#0076c4"/><path d="M292.7 259.3l3.4-1.1l-2.6-.9l-3.4 1.3z" fill="#00c09f"/><path d="M363.2 265.7l3.4-2.2l-2.6-3.5l-3.4 3.3z" fill="#0097b4"/><path d="M433.7 269.1l3.4-1.2l-2.6-2l-3.4 1.5z" fill="#0070c7"/><path d="M341.7 267l3.4-1.3l-2.6-3l-3.4 1.1z" fill="#0087bc"/><path d="M412.2 267.6l3.4-1.1l-2.6-1.7l-3.4 1.1z" fill="#0082be"/><path d="M320.2 264.5l3.4-.6l-2.6 .5l-3.4 .7z" fill="#00c79c"/><path d="M390.7 267.8l3.4-1.5l-2.6-1.4l-3.4 1.6z" fill="#0080bf"/><path d="M298.7 259.3l3.4 2.7l-2.6-1.9l-3.4-1.9z" fill="#00bea0"/><path d="M369.2 266.4l3.4-1.2l-2.6-3.9l-3.4 2.2z" fill="#0091b7"/><path d="M439.7 269.5l3.5-2.8l-2.6-1.4l-3.5 2.6z" fill="#0069cb"/><path d="M347.7 268.2l3.4-1.7l-2.6-2.2l-3.4 1.4z" fill="#007cc1"/><path d="M418.2 268.3l3.5-1l-2.6-1.8l-3.5 1z" fill="#007fc0"/><path d="M326.2 263.9l3.4-.3l-2.6-.4l-3.4 .7z" fill="#00c59d"/><path d="M396.7 267.4l3.5-1.1l-2.6-1.5l-3.5 1.5z" fill="#0089ba"/><path d="M304.7 263.6l3.4 1.1l-2.6-.9l-3.4-1.8z" fill="#00bea0"/><path d="M375.2 268l3.5-.6l-2.6-3.6l-3.5 1.4z" fill="#0080bf"/><path d="M445.8 267.5l3.4-3.2l-2.6-1.1l-3.4 3.5z" fill="#006cc9"/><path d="M353.7 268.3l3.5-2.2l-2.6-2l-3.5 2.4z" fill="#007fc0"/><path d="M424.3 268.9l3.4-.7l-2.6-1.7l-3.4 .8z" fill="#007bc1"/><path d="M332.2 264.7l3.5 .1l-2.6-1.9l-3.5 .7z" fill="#00b4a5"/><path d="M402.8 267.7l3.4-.9l-2.6-1.6l-3.4 1.1z" fill="#0089bb"/><path d="M310.7 265l3.5 .3l-2.6 .2l-3.5-.8z" fill="#00c39d"/><path d="M381.3 269.2l3.4-1.1l-2.6-1.9l-3.4 1.2z" fill="#0074c5"/><path d="M289.2 262.2l3.5-2.9l-2.6-.7l-3.5 2.3z" fill="#00bea0"/><path d="M359.8 267.9l3.4-2.2l-2.6-2.4l-3.4 2.8z" fill="#0089bb"/><path d="M430.3 269.7l3.4-.6l-2.6-1.7l-3.4 .8z" fill="#0075c5"/><path d="M338.3 267.4l3.4-.4l-2.6-3.2l-3.4 1z" fill="#0090b7"/><path d="M408.8 268.6l3.4-1l-2.6-1.7l-3.4 .9z" fill="#0081be"/><path d="M316.8 264.8l3.4-.3l-2.6 .6l-3.4 .2z" fill="#00ca9a"/><path d="M387.3 269.1l3.4-1.3l-2.6-1.3l-3.4 1.6z" fill="#007ac2"/><path d="M295.3 260.8l3.4-1.5l-2.6-1.1l-3.4 1.1z" fill="#00bca1"/><path d="M365.8 267.7l3.4-1.3l-2.6-2.9l-3.4 2.2z" fill="#008eb8"/><path d="M436.3 270.6l3.4-1.1l-2.6-1.6l-3.4 1.2z" fill="#006cc9"/><path d="M344.3 269.2l3.4-1l-2.6-2.5l-3.4 1.3z" fill="#007ac2"/><path d="M414.8 269.4l3.4-1.1l-2.6-1.8l-3.4 1.1z" fill="#007cc1"/><path d="M322.8 264.1l3.4-.2l-2.6 0l-3.4 .6z" fill="#00cd99"/><path d="M393.3 268.6l3.4-1.2l-2.6-1.1l-3.4 1.5z" fill="#0086bc"/><path d="M301.3 262.6l3.4 1l-2.6-1.6l-3.4-2.7z" fill="#00bba2"/><path d="M371.8 268.4l3.4-.4l-2.6-2.8l-3.4 1.2z" fill="#0088bb"/><path d="M442.3 270.1l3.5-2.6l-2.6-.8l-3.5 2.8z" fill="#0069cb"/><path d="M350.3 269.9l3.4-1.6l-2.6-1.8l-3.4 1.7z" fill="#0076c4"/><path d="M420.8 269.9l3.5-1l-2.6-1.6l-3.5 1z" fill="#007ac2"/><path d="M328.8 264.3l3.4 .4l-2.6-1.1l-3.4 .3z" fill="#00c59c"/><path d="M399.3 268.6l3.5-.9l-2.6-1.4l-3.5 1.1z" fill="#008bba"/><path d="M307.3 264.8l3.4 .2l-2.6-.3l-3.4-1.1z" fill="#00c19f"/><path d="M377.8 269.7l3.5-.5l-2.6-1.8l-3.5 .6z" fill="#007ac2"/><path d="M448.4 268.6l3.4-2.7l-2.6-1.6l-3.4 3.2z" fill="#006aca"/><path d="M356.3 269.8l3.5-1.9l-2.6-1.8l-3.5 2.2z" fill="#007dc1"/><path d="M426.9 270.4l3.4-.7l-2.6-1.5l-3.4 .7z" fill="#0077c4"/><path d="M334.8 266.4l3.5 1l-2.6-2.6l-3.5-.1z" fill="#00a9aa"/><path d="M405.4 269.4l3.4-.8l-2.6-1.8l-3.4 .9z" fill="#0083bd"/><path d="M313.3 265.1l3.5-.3l-2.6 .5l-3.5-.3z" fill="#00ca9a"/><path d="M383.9 270.2l3.4-1.1l-2.6-1l-3.4 1.1z" fill="#0078c3"/><path d="M291.8 264.2l3.5-3.4l-2.6-1.5l-3.5 2.9z" fill="#00baa2"/><path d="M362.4 269.2l3.4-1.5l-2.6-2l-3.4 2.2z" fill="#0087bb"/><path d="M432.9 271.1l3.4-.5l-2.6-1.5l-3.4 .6z" fill="#0070c7"/><path d="M340.9 269.2l3.4 0l-2.6-2.2l-3.4 .4z" fill="#0086bc"/><path d="M411.4 270.5l3.4-1.1l-2.6-1.8l-3.4 1z" fill="#007ac2"/><path d="M319.4 264.6l3.4-.5l-2.6 .4l-3.4 .3z" fill="#00d097"/><path d="M389.9 269.7l3.4-1.1l-2.6-.8l-3.4 1.3z" fill="#0084bd"/><path d="M297.9 263.8l3.4-1.2l-2.6-3.3l-3.4 1.5z" fill="#00b6a4"/><path d="M368.4 269l3.4-.6l-2.6-2l-3.4 1.3z" fill="#008eb8"/><path d="M438.9 271.6l3.4-1.5l-2.6-.6l-3.4 1.1z" fill="#0069ca"/><path d="M346.9 270.7l3.4-.8l-2.6-1.7l-3.4 1z" fill="#0077c3"/><path d="M417.4 271l3.4-1.1l-2.6-1.6l-3.4 1.1z" fill="#0077c3"/><path d="M325.4 264.3l3.4 0l-2.6-.4l-3.4 .2z" fill="#00d097"/><path d="M395.9 269.4l3.4-.8l-2.6-1.2l-3.4 1.2z" fill="#008db8"/><path d="M303.9 265.2l3.4-.4l-2.6-1.2l-3.4-1z" fill="#00baa2"/><path d="M374.4 269.9l3.4-.2l-2.6-1.7l-3.4 .4z" fill="#0086bc"/><path d="M445 270.9l3.4-2.3l-2.6-1.1l-3.5 2.6z" fill="#0069cb"/><path d="M352.9 271.1l3.4-1.3l-2.6-1.5l-3.4 1.6z" fill="#0077c3"/><path d="M423.5 271.3l3.4-.9l-2.6-1.5l-3.5 1z" fill="#0076c4"/><path d="M331.4 265.3l3.4 1.1l-2.6-1.7l-3.4-.4z" fill="#00c29e"/><path d="M402 270l3.4-.6l-2.6-1.7l-3.5 .9z" fill="#0089ba"/><path d="M309.9 265.7l3.4-.6l-2.6-.1l-3.4-.2z" fill="#00c69c"/><path d="M380.5 270.9l3.4-.7l-2.6-1l-3.5 .5z" fill="#007cc1"/><path d="M451 269.8l3.4-2.4l-2.6-1.5l-3.4 2.7z" fill="#0068cb"/><path d="M359 270.8l3.4-1.6l-2.6-1.3l-3.5 1.9z" fill="#0080bf"/><path d="M429.5 271.7l3.4-.6l-2.6-1.4l-3.4 .7z" fill="#0072c6"/><path d="M337.5 268.2l3.4 1l-2.6-1.8l-3.5-1z" fill="#009faf"/><path d="M408 271.3l3.4-.8l-2.6-1.9l-3.4 .8z" fill="#007bc2"/><path d="M316 265.3l3.4-.7l-2.6 .2l-3.5 .3z" fill="#00ce98"/><path d="M386.5 270.6l3.4-.9l-2.6-.6l-3.4 1.1z" fill="#0084bd"/><path d="M294.5 266.3l3.4-2.5l-2.6-3l-3.5 3.4z" fill="#00b3a5"/><path d="M365 270.1l3.4-1.1l-2.6-1.3l-3.4 1.5z" fill="#008db8"/><path d="M435.5 272.3l3.4-.7l-2.6-1l-3.4 .5z" fill="#006cc9"/><path d="M343.5 270.6l3.4 .1l-2.6-1.5l-3.4 0z" fill="#0084bd"/><path d="M414 272.1l3.4-1.1l-2.6-1.6l-3.4 1.1z" fill="#0074c5"/><path d="M322 264.9l3.4-.6l-2.6-.2l-3.4 .5z" fill="#00d196"/><path d="M392.5 270.2l3.4-.8l-2.6-.8l-3.4 1.1z" fill="#008fb7"/><path d="M300.5 266.7l3.4-1.5l-2.6-2.6l-3.4 1.2z" fill="#00b2a6"/><path d="M371 270l3.4-.1l-2.6-1.5l-3.4 .6z" fill="#0093b6"/><path d="M441.5 272.4l3.5-1.5l-2.7-.8l-3.4 1.5z" fill="#0069cb"/><path d="M349.5 271.8l3.4-.7l-2.6-1.2l-3.4 .8z" fill="#007ac2"/><path d="M420 272.3l3.5-1l-2.7-1.4l-3.4 1.1z" fill="#0074c5"/><path d="M328 265.1l3.4 .2l-2.6-1l-3.4 0z" fill="#00ce98"/><path d="M398.5 270.5l3.5-.5l-2.7-1.4l-3.4 .8z" fill="#008fb7"/><path d="M306.5 266.6l3.4-.9l-2.6-.9l-3.4 .4z" fill="#00bea0"/><path d="M377 271.2l3.5-.3l-2.7-1.2l-3.4 .2z" fill="#0086bc"/><path d="M447.6 271.9l3.4-2.1l-2.6-1.2l-3.4 2.3z" fill="#0068cb"/><path d="M355.5 272l3.5-1.2l-2.7-1l-3.4 1.3z" fill="#007cc1"/><path d="M426.1 272.5l3.4-.8l-2.6-1.3l-3.4 .9z" fill="#0072c6"/><path d="M334 267.2l3.5 1l-2.7-1.8l-3.4-1.1z" fill="#00b7a3"/><path d="M404.6 271.9l3.4-.6l-2.6-1.9l-3.4 .6z" fill="#0081be"/><path d="M312.5 266.3l3.5-1l-2.7-.2l-3.4 .6z" fill="#00c99a"/><path d="M383.1 271.5l3.4-.9l-2.6-.4l-3.4 .7z" fill="#0085bc"/><path d="M361.6 271.6l3.4-1.5l-2.6-.9l-3.4 1.6z" fill="#0087bb"/><path d="M432.1 272.9l3.4-.6l-2.6-1.2l-3.4 .6z" fill="#006dc8"/><path d="M340.1 270l3.4 .6l-2.6-1.4l-3.4-1z" fill="#0098b3"/><path d="M410.6 273.1l3.4-1l-2.6-1.6l-3.4 .8z" fill="#0074c5"/><path d="M318.6 266l3.4-1.1l-2.6-.3l-3.4 .7z" fill="#00cd98"/><path d="M389.1 270.9l3.4-.7l-2.6-.5l-3.4 .9z" fill="#0092b6"/><path d="M297.1 268.2l3.4-1.5l-2.6-2.9l-3.4 2.5z" fill="#00aea8"/><path d="M367.6 270.9l3.4-.9l-2.6-1l-3.4 1.1z" fill="#0095b5"/><path d="M438.1 273.2l3.4-.8l-2.6-.8l-3.4 .7z" fill="#0069ca"/><path d="M346.1 271.9l3.4-.1l-2.6-1.1l-3.4-.1z" fill="#0085bd"/><path d="M416.6 273.5l3.4-1.2l-2.6-1.3l-3.4 1.1z" fill="#0071c6"/><path d="M324.6 266.1l3.4-1l-2.6-.8l-3.4 .6z" fill="#00cd99"/><path d="M395.1 271.1l3.4-.6l-2.6-1.1l-3.4 .8z" fill="#0095b5"/><path d="M303.1 268.1l3.4-1.5l-2.6-1.4l-3.4 1.5z" fill="#00b5a5"/><path d="M373.6 271.4l3.4-.2l-2.6-1.3l-3.4 .1z" fill="#0092b6"/><path d="M444.1 273.1l3.5-1.2l-2.6-1l-3.5 1.5z" fill="#0068cb"/><path d="M352.1 272.7l3.4-.7l-2.6-.9l-3.4 .7z" fill="#007ec0"/><path d="M422.6 273.5l3.5-1l-2.6-1.2l-3.5 1z" fill="#0071c7"/><path d="M330.6 267.2l3.4 0l-2.6-1.9l-3.4-.2z" fill="#00c39d"/><path d="M401.1 272.3l3.5-.4l-2.6-1.9l-3.5 .5z" fill="#0089bb"/><path d="M309.1 267.5l3.4-1.2l-2.6-.6l-3.4 .9z" fill="#00c29e"/><path d="M379.6 272.2l3.5-.7l-2.6-.6l-3.5 .3z" fill="#008aba"/><path d="M358.1 272.8l3.5-1.2l-2.6-.8l-3.5 1.2z" fill="#0082be"/><path d="M428.7 273.6l3.4-.7l-2.6-1.2l-3.4 .8z" fill="#006ec8"/><path d="M336.6 269.4l3.5 .6l-2.6-1.8l-3.5-1z" fill="#00aba9"/><path d="M407.2 273.8l3.4-.7l-2.6-1.8l-3.4 .6z" fill="#0078c3"/><path d="M315.1 267.5l3.5-1.5l-2.6-.7l-3.5 1z" fill="#00c69c"/><path d="M385.7 271.7l3.4-.8l-2.6-.3l-3.4 .9z" fill="#0094b5"/><path d="M364.2 272.4l3.4-1.5l-2.6-.8l-3.4 1.5z" fill="#008db8"/><path d="M434.7 273.8l3.4-.6l-2.6-.9l-3.4 .6z" fill="#006aca"/><path d="M342.7 271.5l3.4 .4l-2.6-1.3l-3.4-.6z" fill="#0095b5"/><path d="M413.2 274.5l3.4-1l-2.6-1.4l-3.4 1z" fill="#0070c7"/><path d="M321.2 267.6l3.4-1.5l-2.6-1.2l-3.4 1.1z" fill="#00c69c"/><path d="M391.7 271.5l3.4-.4l-2.6-.9l-3.4 .7z" fill="#009cb1"/><path d="M299.7 269.2l3.4-1.1l-2.6-1.4l-3.4 1.5z" fill="#00afa8"/><path d="M370.2 272.1l3.4-.7l-2.6-1.4l-3.4 .9z" fill="#0095b5"/><path d="M440.7 273.9l3.4-.8l-2.6-.7l-3.4 .8z" fill="#0068cb"/><path d="M348.7 273l3.4-.3l-2.6-.9l-3.4 .1z" fill="#0087bb"/><path d="M419.2 274.5l3.4-1l-2.6-1.2l-3.4 1.2z" fill="#006fc7"/><path d="M327.2 268.3l3.4-1.1l-2.6-2.1l-3.4 1z" fill="#00c19e"/><path d="M397.7 272.7l3.4-.4l-2.6-1.8l-3.4 .6z" fill="#0090b7"/><path d="M305.7 269.1l3.4-1.6l-2.6-.9l-3.4 1.5z" fill="#00b8a3"/><path d="M376.2 272.6l3.4-.4l-2.6-1l-3.4 .2z" fill="#0091b6"/><path d="M354.7 273.7l3.4-.9l-2.6-.8l-3.4 .7z" fill="#0082be"/><path d="M425.2 274.4l3.5-.8l-2.6-1.1l-3.5 1z" fill="#006ec8"/><path d="M333.2 269.6l3.4-.2l-2.6-2.2l-3.4 0z" fill="#00b5a5"/><path d="M403.7 274.4l3.5-.6l-2.6-1.9l-3.5 .4z" fill="#007ec0"/><path d="M311.7 269.1l3.4-1.6l-2.6-1.2l-3.4 1.2z" fill="#00bea0"/><path d="M382.2 272.6l3.5-.9l-2.6-.2l-3.5 .7z" fill="#0095b5"/><path d="M360.7 273.8l3.5-1.4l-2.6-.8l-3.5 1.2z" fill="#0086bc"/><path d="M431.3 274.5l3.4-.7l-2.6-.9l-3.4 .7z" fill="#006aca"/><path d="M339.2 271.3l3.5 .2l-2.6-1.5l-3.5-.6z" fill="#00a4ad"/><path d="M409.8 275.6l3.4-1.1l-2.6-1.4l-3.4 .7z" fill="#0071c7"/><path d="M317.7 269.5l3.5-1.9l-2.6-1.6l-3.5 1.5z" fill="#00bca1"/><path d="M388.3 272.1l3.4-.6l-2.6-.6l-3.4 .8z" fill="#00a0af"/><path d="M366.8 273.5l3.4-1.4l-2.6-1.2l-3.4 1.5z" fill="#008fb8"/><path d="M437.3 274.6l3.4-.7l-2.6-.7l-3.4 .6z" fill="#0068cb"/><path d="M345.3 272.9l3.4 .1l-2.6-1.1l-3.4-.4z" fill="#0094b5"/><path d="M415.8 275.7l3.4-1.2l-2.6-1l-3.4 1z" fill="#006ec8"/><path d="M323.8 269.9l3.4-1.6l-2.6-2.2l-3.4 1.5z" fill="#00baa2"/><path d="M394.3 273l3.4-.3l-2.6-1.6l-3.4 .4z" fill="#0098b3"/><path d="M302.3 270.2l3.4-1.1l-2.6-1l-3.4 1.1z" fill="#00b0a7"/><path d="M372.8 273.5l3.4-.9l-2.6-1.2l-3.4 .7z" fill="#0093b6"/><path d="M351.3 274.1l3.4-.4l-2.6-1l-3.4 .3z" fill="#0089ba"/><path d="M421.8 275.3l3.4-.9l-2.6-.9l-3.4 1z" fill="#006fc8"/><path d="M329.8 270.6l3.4-1l-2.6-2.4l-3.4 1.1z" fill="#00b5a5"/><path d="M400.3 275l3.4-.6l-2.6-2.1l-3.4 .4z" fill="#0083bd"/><path d="M308.3 270.6l3.4-1.5l-2.6-1.6l-3.4 1.6z" fill="#00b5a5"/><path d="M378.8 273.6l3.4-1l-2.6-.4l-3.4 .4z" fill="#0095b5"/><path d="M357.3 274.8l3.4-1l-2.6-1l-3.4 .9z" fill="#0084bd"/><path d="M427.9 275.2l3.4-.7l-2.6-.9l-3.5 .8z" fill="#006cc9"/><path d="M335.8 271.6l3.4-.3l-2.6-1.9l-3.4 .2z" fill="#00aca9"/><path d="M406.4 276.5l3.4-.9l-2.6-1.8l-3.5 .6z" fill="#0072c6"/><path d="M314.3 271l3.4-1.5l-2.6-2l-3.4 1.6z" fill="#00b4a5"/><path d="M384.9 273.3l3.4-1.2l-2.6-.4l-3.5 .9z" fill="#009db1"/><path d="M363.4 275l3.4-1.5l-2.6-1.1l-3.5 1.4z" fill="#0088bb"/><path d="M433.9 275.4l3.4-.8l-2.6-.8l-3.4 .7z" fill="#0068cb"/><path d="M341.9 272.8l3.4 .1l-2.6-1.4l-3.5-.2z" fill="#00a1ae"/><path d="M412.4 277l3.4-1.3l-2.6-1.2l-3.4 1.1z" fill="#006cc9"/><path d="M320.4 271.6l3.4-1.7l-2.6-2.3l-3.5 1.9z" fill="#00b1a7"/><path d="M390.9 273.5l3.4-.5l-2.6-1.5l-3.4 .6z" fill="#009eb0"/><path d="M369.4 274.8l3.4-1.3l-2.6-1.4l-3.4 1.4z" fill="#008fb8"/><path d="M347.9 274.1l3.4 0l-2.6-1.1l-3.4-.1z" fill="#0095b5"/><path d="M418.4 276.4l3.4-1.1l-2.6-.8l-3.4 1.2z" fill="#006ec8"/><path d="M326.4 272l3.4-1.4l-2.6-2.3l-3.4 1.6z" fill="#00b0a7"/><path d="M396.9 275.4l3.4-.4l-2.6-2.3l-3.4 .3z" fill="#0089ba"/><path d="M304.9 271.3l3.4-.7l-2.6-1.5l-3.4 1.1z" fill="#00b0a7"/><path d="M375.4 274.8l3.4-1.2l-2.6-1l-3.4 .9z" fill="#0093b5"/><path d="M353.9 275.3l3.4-.5l-2.6-1.1l-3.4 .4z" fill="#008aba"/><path d="M424.4 275.8l3.5-.6l-2.7-.8l-3.4 .9z" fill="#006fc8"/><path d="M332.4 272.6l3.4-1l-2.6-2l-3.4 1z" fill="#00ada8"/><path d="M402.9 277.2l3.5-.7l-2.7-2.1l-3.4 .6z" fill="#0075c5"/><path d="M310.9 272.1l3.4-1.1l-2.6-1.9l-3.4 1.5z" fill="#00aea8"/><path d="M381.4 274.7l3.5-1.4l-2.7-.7l-3.4 1z" fill="#0098b3"/><path d="M359.9 276.2l3.5-1.2l-2.7-1.2l-3.4 1z" fill="#0084bd"/><path d="M430.5 276l3.4-.6l-2.6-.9l-3.4 .7z" fill="#0069ca"/><path d="M338.4 273.1l3.5-.3l-2.7-1.5l-3.4 .3z" fill="#00aaaa"/><path d="M409 278.2l3.4-1.2l-2.6-1.4l-3.4 .9z" fill="#006bca"/><path d="M316.9 272.5l3.5-.9l-2.7-2.1l-3.4 1.5z" fill="#00aca9"/><path d="M387.5 274.7l3.4-1.2l-2.6-1.4l-3.4 1.2z" fill="#009bb2"/><path d="M366 276.2l3.4-1.4l-2.6-1.3l-3.4 1.5z" fill="#0088bb"/><path d="M344.5 274.1l3.4 0l-2.6-1.2l-3.4-.1z" fill="#00a1ae"/><path d="M415 278l3.4-1.6l-2.6-.7l-3.4 1.3z" fill="#006bc9"/><path d="M323 273.1l3.4-1.1l-2.6-2.1l-3.4 1.7z" fill="#00aba9"/><path d="M393.5 275.9l3.4-.5l-2.6-2.4l-3.4 .5z" fill="#008fb8"/><path d="M372 276l3.4-1.2l-2.6-1.3l-3.4 1.3z" fill="#008fb8"/><path d="M350.5 275.4l3.4-.1l-2.6-1.2l-3.4 0z" fill="#0095b5"/><path d="M421 276.8l3.4-1l-2.6-.5l-3.4 1.1z" fill="#0071c7"/><path d="M329 273.7l3.4-1.1l-2.6-2l-3.4 1.4z" fill="#00aba9"/><path d="M399.5 277.8l3.4-.6l-2.6-2.2l-3.4 .4z" fill="#0078c3"/><path d="M307.5 272.2l3.4-.1l-2.6-1.5l-3.4 .7z" fill="#00aea8"/><path d="M378 276l3.4-1.3l-2.6-1.1l-3.4 1.2z" fill="#0093b5"/><path d="M356.5 276.8l3.4-.6l-2.6-1.4l-3.4 .5z" fill="#0088bb"/><path d="M427 276.4l3.5-.4l-2.6-.8l-3.5 .6z" fill="#006fc7"/><path d="M335 274l3.4-.9l-2.6-1.5l-3.4 1z" fill="#00aca9"/><path d="M405.5 279l3.5-.8l-2.6-1.7l-3.5 .7z" fill="#006bca"/><path d="M313.5 272.8l3.4-.3l-2.6-1.5l-3.4 1.1z" fill="#00aba9"/><path d="M384 276.1l3.5-1.4l-2.6-1.4l-3.5 1.4z" fill="#0096b4"/><path d="M362.5 277.5l3.5-1.3l-2.6-1.2l-3.5 1.2z" fill="#0083bd"/><path d="M341 274.3l3.5-.2l-2.6-1.3l-3.5 .3z" fill="#00abaa"/><path d="M411.6 279.4l3.4-1.4l-2.6-1l-3.4 1.2z" fill="#0068cb"/><path d="M319.5 273.5l3.5-.4l-2.6-1.5l-3.5 .9z" fill="#00a9aa"/><path d="M390.1 276.8l3.4-.9l-2.6-2.4l-3.4 1.2z" fill="#008fb7"/><path d="M368.6 277.4l3.4-1.4l-2.6-1.2l-3.4 1.4z" fill="#0089ba"/><path d="M347.1 275.4l3.4 0l-2.6-1.3l-3.4 0z" fill="#00a1ae"/><path d="M417.6 278.6l3.4-1.8l-2.6-.4l-3.4 1.6z" fill="#006dc8"/><path d="M325.6 274.4l3.4-.7l-2.6-1.7l-3.4 1.1z" fill="#00a9ab"/><path d="M396.1 278.3l3.4-.5l-2.6-2.4l-3.4 .5z" fill="#007dc0"/><path d="M374.6 277.3l3.4-1.3l-2.6-1.2l-3.4 1.2z" fill="#008fb7"/><path d="M353.1 276.8l3.4 0l-2.6-1.5l-3.4 .1z" fill="#0093b5"/><path d="M423.6 277.2l3.4-.8l-2.6-.6l-3.4 1z" fill="#0073c5"/><path d="M331.6 275.2l3.4-1.2l-2.6-1.4l-3.4 1.1z" fill="#00aaaa"/><path d="M402.1 279.6l3.4-.6l-2.6-1.8l-3.4 .6z" fill="#006dc9"/><path d="M310.1 272.6l3.4 .2l-2.6-.7l-3.4 .1z" fill="#00ada9"/><path d="M380.6 277.4l3.4-1.3l-2.6-1.4l-3.4 1.3z" fill="#0091b6"/><path d="M359.1 278.1l3.4-.6l-2.6-1.3l-3.4 .6z" fill="#0086bc"/><path d="M337.6 275.3l3.4-1l-2.6-1.2l-3.4 .9z" fill="#00ada8"/><path d="M408.1 280.2l3.5-.8l-2.6-1.2l-3.5 .8z" fill="#0067cb"/><path d="M316.1 273.2l3.4 .3l-2.6-1l-3.4 .3z" fill="#00abaa"/><path d="M386.6 277.9l3.5-1.1l-2.6-2.1l-3.5 1.4z" fill="#008db8"/><path d="M365.1 278.5l3.5-1.1l-2.6-1.2l-3.5 1.3z" fill="#0087bc"/><path d="M343.6 275.7l3.5-.3l-2.6-1.3l-3.5 .2z" fill="#00aaaa"/><path d="M414.2 280.3l3.4-1.7l-2.6-.6l-3.4 1.4z" fill="#0068cb"/><path d="M322.1 274.5l3.5-.1l-2.6-1.3l-3.5 .4z" fill="#00a9ab"/><path d="M392.7 279.1l3.4-.8l-2.6-2.4l-3.4 .9z" fill="#0080bf"/><path d="M371.2 278.4l3.4-1.1l-2.6-1.3l-3.4 1.4z" fill="#008cb9"/><path d="M349.7 276.8l3.4 0l-2.6-1.4l-3.4 0z" fill="#00a0af"/><path d="M420.2 279.1l3.4-1.9l-2.6-.4l-3.4 1.8z" fill="#0070c7"/><path d="M328.2 275.9l3.4-.7l-2.6-1.5l-3.4 .7z" fill="#00a8ab"/><path d="M398.7 280.2l3.4-.6l-2.6-1.8l-3.4 .5z" fill="#0070c7"/><path d="M377.2 278.6l3.4-1.2l-2.6-1.4l-3.4 1.3z" fill="#008eb8"/><path d="M355.7 278.2l3.4-.1l-2.6-1.3l-3.4 0z" fill="#0092b6"/><path d="M334.2 276.6l3.4-1.3l-2.6-1.3l-3.4 1.2z" fill="#00aaaa"/><path d="M404.7 280.7l3.4-.5l-2.6-1.2l-3.4 .6z" fill="#0067cb"/><path d="M312.7 272.8l3.4 .4l-2.6-.4l-3.4-.2z" fill="#00ada8"/><path d="M383.2 279l3.4-1.1l-2.6-1.8l-3.4 1.3z" fill="#008bb9"/><path d="M361.7 279.2l3.4-.7l-2.6-1l-3.4 .6z" fill="#0089ba"/><path d="M340.2 276.8l3.4-1.1l-2.6-1.4l-3.4 1z" fill="#00aca9"/><path d="M410.8 281l3.4-.7l-2.6-.9l-3.5 .8z" fill="#0067cc"/><path d="M318.7 273.9l3.4 .6l-2.6-1l-3.4-.3z" fill="#00aba9"/><path d="M389.3 280l3.4-.9l-2.6-2.3l-3.5 1.1z" fill="#0081bf"/><path d="M367.8 279.4l3.4-1l-2.6-1l-3.5 1.1z" fill="#008aba"/><path d="M346.3 277.3l3.4-.5l-2.6-1.4l-3.5 .3z" fill="#00a8ab"/><path d="M416.8 281.2l3.4-2.1l-2.6-.5l-3.4 1.7z" fill="#0069cb"/><path d="M324.8 275.9l3.4 0l-2.6-1.5l-3.5 .1z" fill="#00a8ab"/><path d="M395.3 281.1l3.4-.9l-2.6-1.9l-3.4 .8z" fill="#0071c6"/><path d="M373.8 279.6l3.4-1l-2.6-1.3l-3.4 1.1z" fill="#008cb9"/><path d="M352.3 278.3l3.4-.1l-2.6-1.4l-3.4 0z" fill="#009eb0"/><path d="M330.8 277.7l3.4-1.1l-2.6-1.4l-3.4 .7z" fill="#00a7ac"/><path d="M401.3 281.5l3.4-.8l-2.6-1.1l-3.4 .6z" fill="#0067cb"/><path d="M379.8 280l3.4-1l-2.6-1.6l-3.4 1.2z" fill="#008bba"/><path d="M358.3 279.5l3.4-.3l-2.6-1.1l-3.4 .1z" fill="#0092b6"/><path d="M336.8 278.2l3.4-1.4l-2.6-1.5l-3.4 1.3z" fill="#00a8ab"/><path d="M407.3 281.4l3.5-.4l-2.7-.8l-3.4 .5z" fill="#0067cc"/><path d="M315.3 273.1l3.4 .8l-2.6-.7l-3.4-.4z" fill="#00afa8"/><path d="M385.8 280.9l3.5-.9l-2.7-2.1l-3.4 1.1z" fill="#0082be"/><path d="M364.3 280.2l3.5-.8l-2.7-.9l-3.4 .7z" fill="#008db8"/><path d="M342.8 278.4l3.5-1.1l-2.7-1.6l-3.4 1.1z" fill="#00a8ab"/><path d="M413.4 281.7l3.4-.5l-2.6-.9l-3.4 .7z" fill="#0068cb"/><path d="M321.3 275l3.5 .9l-2.7-1.4l-3.4-.6z" fill="#00abaa"/><path d="M391.9 282.1l3.4-1l-2.6-2l-3.4 .9z" fill="#0073c6"/><path d="M370.4 280.4l3.4-.8l-2.6-1.2l-3.4 1z" fill="#008db9"/><path d="M348.9 278.9l3.4-.6l-2.6-1.5l-3.4 .5z" fill="#00a4ad"/><path d="M327.4 277.6l3.4 .1l-2.6-1.8l-3.4 0z" fill="#00a6ac"/><path d="M397.9 282.7l3.4-1.2l-2.6-1.3l-3.4 .9z" fill="#0065cc"/><path d="M376.4 280.8l3.4-.8l-2.6-1.4l-3.4 1z" fill="#008cb9"/><path d="M354.9 279.9l3.4-.4l-2.6-1.3l-3.4 .1z" fill="#009bb2"/><path d="M333.4 279.3l3.4-1.1l-2.6-1.6l-3.4 1.1z" fill="#00a4ad"/><path d="M403.9 282.3l3.4-.9l-2.6-.7l-3.4 .8z" fill="#0063cd"/><path d="M382.4 281.6l3.4-.7l-2.6-1.9l-3.4 1z" fill="#0085bd"/><path d="M360.9 280.8l3.4-.6l-2.6-1l-3.4 .3z" fill="#0093b6"/><path d="M339.4 279.8l3.4-1.4l-2.6-1.6l-3.4 1.4z" fill="#00a4ad"/><path d="M409.9 281.9l3.5-.2l-2.6-.7l-3.5 .4z" fill="#0067cb"/><path d="M317.9 273.9l3.4 1.1l-2.6-1.1l-3.4-.8z" fill="#00afa8"/><path d="M388.4 282.9l3.5-.8l-2.6-2.1l-3.5 .9z" fill="#0076c4"/><path d="M366.9 281.1l3.5-.7l-2.6-1l-3.5 .8z" fill="#0090b7"/><path d="M345.4 280.1l3.5-1.2l-2.6-1.6l-3.5 1.1z" fill="#00a4ad"/><path d="M323.9 276.5l3.5 1.1l-2.6-1.7l-3.5-.9z" fill="#00a8ab"/><path d="M394.5 284l3.4-1.3l-2.6-1.6l-3.4 1z" fill="#0065cd"/><path d="M373 281.4l3.4-.6l-2.6-1.2l-3.4 .8z" fill="#008eb8"/><path d="M351.5 280.6l3.4-.7l-2.6-1.6l-3.4 .6z" fill="#00a0af"/><path d="M330 279.3l3.4 0l-2.6-1.6l-3.4-.1z" fill="#00a3ae"/><path d="M400.5 284l3.4-1.7l-2.6-.8l-3.4 1.2z" fill="#005cd1"/><path d="M379 282.1l3.4-.5l-2.6-1.6l-3.4 .8z" fill="#0089bb"/><path d="M357.5 281.3l3.4-.5l-2.6-1.3l-3.4 .4z" fill="#0099b3"/><path d="M336 280.7l3.4-.9l-2.6-1.6l-3.4 1.1z" fill="#00a0af"/><path d="M406.5 283l3.4-1.1l-2.6-.5l-3.4 .9z" fill="#0061ce"/><path d="M385 283.3l3.4-.4l-2.6-2l-3.4 .7z" fill="#007dc1"/><path d="M363.5 281.8l3.4-.7l-2.6-.9l-3.4 .6z" fill="#0094b5"/><path d="M342 281.4l3.4-1.3l-2.6-1.7l-3.4 1.4z" fill="#009faf"/><path d="M320.5 275.3l3.4 1.2l-2.6-1.5l-3.4-1.1z" fill="#00aca9"/><path d="M391 284.9l3.5-.9l-2.6-1.9l-3.5 .8z" fill="#0069ca"/><path d="M369.5 282l3.5-.6l-2.6-1l-3.5 .7z" fill="#0092b6"/><path d="M348 281.7l3.5-1.1l-2.6-1.7l-3.5 1.2z" fill="#009faf"/><path d="M326.5 278.2l3.5 1.1l-2.6-1.7l-3.5-1.1z" fill="#00a4ad"/><path d="M397.1 285.8l3.4-1.8l-2.6-1.3l-3.4 1.3z" fill="#0057d4"/><path d="M375.6 282.4l3.4-.3l-2.6-1.3l-3.4 .6z" fill="#008eb8"/><path d="M354.1 282.2l3.4-.9l-2.6-1.4l-3.4 .7z" fill="#009cb1"/><path d="M332.6 280.7l3.4 0l-2.6-1.4l-3.4 0z" fill="#009faf"/><path d="M403.1 285l3.4-2l-2.6-.7l-3.4 1.7z" fill="#0057d3"/><path d="M381.6 283.4l3.4-.1l-2.6-1.7l-3.4 .5z" fill="#0085bc"/><path d="M360.1 282.6l3.4-.8l-2.6-1l-3.4 .5z" fill="#0098b3"/><path d="M338.6 282.2l3.4-.8l-2.6-1.6l-3.4 .9z" fill="#009bb1"/><path d="M387.6 285.1l3.4-.2l-2.6-2l-3.4 .4z" fill="#0074c5"/><path d="M366.1 282.7l3.4-.7l-2.6-.9l-3.4 .7z" fill="#0095b4"/><path d="M344.6 282.8l3.4-1.1l-2.6-1.6l-3.4 1.3z" fill="#009cb1"/><path d="M323.1 276.9l3.4 1.3l-2.6-1.7l-3.4-1.2z" fill="#00a7ab"/><path d="M393.7 286.9l3.4-1.1l-2.6-1.8l-3.5 .9z" fill="#005bd1"/><path d="M372.2 282.8l3.4-.4l-2.6-1l-3.5 .6z" fill="#0093b6"/><path d="M350.7 283.1l3.4-.9l-2.6-1.6l-3.5 1.1z" fill="#009db1"/><path d="M329.2 279.7l3.4 1l-2.6-1.4l-3.5-1.1z" fill="#00a1af"/><path d="M399.7 287.2l3.4-2.2l-2.6-1l-3.4 1.8z" fill="#004dd8"/><path d="M378.2 283.3l3.4 .1l-2.6-1.3l-3.4 .3z" fill="#008db8"/><path d="M356.7 283.5l3.4-.9l-2.6-1.3l-3.4 .9z" fill="#009bb2"/><path d="M335.2 282.1l3.4 .1l-2.6-1.5l-3.4 0z" fill="#009cb1"/><path d="M384.2 284.7l3.4 .4l-2.6-1.8l-3.4 .1z" fill="#0081be"/><path d="M362.7 283.6l3.4-.9l-2.6-.9l-3.4 .8z" fill="#0098b3"/><path d="M341.2 283.5l3.4-.7l-2.6-1.4l-3.4 .8z" fill="#0099b2"/><path d="M390.2 286.8l3.5 .1l-2.7-2l-3.4 .2z" fill="#006bc9"/><path d="M368.7 283.5l3.5-.7l-2.7-.8l-3.4 .7z" fill="#0096b4"/><path d="M347.2 284.1l3.5-1l-2.7-1.4l-3.4 1.1z" fill="#009bb2"/><path d="M325.7 278.6l3.5 1.1l-2.7-1.5l-3.4-1.3z" fill="#00a4ad"/><path d="M396.3 288.6l3.4-1.4l-2.6-1.4l-3.4 1.1z" fill="#0050d7"/><path d="M374.8 283.4l3.4-.1l-2.6-.9l-3.4 .4z" fill="#0094b5"/><path d="M353.3 284.5l3.4-1l-2.6-1.3l-3.4 .9z" fill="#009bb2"/><path d="M331.8 281.3l3.4 .8l-2.6-1.4l-3.4-1z" fill="#009faf"/><path d="M380.8 284.2l3.4 .5l-2.6-1.3l-3.4-.1z" fill="#008db9"/><path d="M359.3 284.7l3.4-1.1l-2.6-1l-3.4 .9z" fill="#0099b2"/><path d="M337.8 283.4l3.4 .1l-2.6-1.3l-3.4-.1z" fill="#009bb2"/><path d="M386.8 286l3.4 .8l-2.6-1.7l-3.4-.4z" fill="#007ec0"/><path d="M365.3 284.4l3.4-.9l-2.6-.8l-3.4 .9z" fill="#0098b3"/><path d="M343.8 284.6l3.4-.5l-2.6-1.3l-3.4 .7z" fill="#0099b2"/><path d="M392.8 288.2l3.5 .4l-2.6-1.7l-3.5-.1z" fill="#0065cc"/><path d="M371.3 284l3.5-.6l-2.6-.6l-3.5 .7z" fill="#0097b3"/><path d="M349.8 285.3l3.5-.8l-2.6-1.4l-3.5 1z" fill="#009ab2"/><path d="M328.3 280.3l3.5 1l-2.6-1.6l-3.5-1.1z" fill="#00a3ad"/><path d="M377.4 283.9l3.4 .3l-2.6-.9l-3.4 .1z" fill="#0095b4"/><path d="M355.9 285.8l3.4-1.1l-2.6-1.2l-3.4 1z" fill="#0099b3"/><path d="M334.4 282.7l3.4 .7l-2.6-1.3l-3.4-.8z" fill="#009fb0"/><path d="M383.4 284.9l3.4 1.1l-2.6-1.3l-3.4-.5z" fill="#008db9"/><path d="M361.9 285.6l3.4-1.2l-2.6-.8l-3.4 1.1z" fill="#0098b3"/><path d="M340.4 284.5l3.4 .1l-2.6-1.1l-3.4-.1z" fill="#009ab2"/><path d="M389.4 287.1l3.4 1.1l-2.6-1.4l-3.4-.8z" fill="#007bc2"/><path d="M367.9 285l3.4-1l-2.6-.5l-3.4 .9z" fill="#0098b3"/><path d="M346.4 285.8l3.4-.5l-2.6-1.2l-3.4 .5z" fill="#0098b3"/><path d="M373.9 284.2l3.5-.3l-2.6-.5l-3.5 .6z" fill="#0099b2"/><path d="M352.4 286.7l3.5-.9l-2.6-1.3l-3.5 .8z" fill="#0097b3"/><path d="M330.9 281.8l3.5 .9l-2.6-1.4l-3.5-1z" fill="#00a4ad"/><path d="M380 284.2l3.4 .7l-2.6-.7l-3.4-.3z" fill="#0097b4"/><path d="M358.5 287l3.4-1.4l-2.6-.9l-3.4 1.1z" fill="#0096b4"/><path d="M337 283.8l3.4 .7l-2.6-1.1l-3.4-.7z" fill="#009eb0"/><path d="M386 285.8l3.4 1.3l-2.6-1.1l-3.4-1.1z" fill="#008cb9"/><path d="M364.5 286.4l3.4-1.4l-2.6-.6l-3.4 1.2z" fill="#0097b4"/><path d="M343 285.6l3.4 .2l-2.6-1.2l-3.4-.1z" fill="#0098b3"/><path d="M370.5 285.3l3.4-1.1l-2.6-.2l-3.4 1z" fill="#0099b3"/><path d="M349 287.3l3.4-.6l-2.6-1.4l-3.4 .5z" fill="#0096b4"/><path d="M376.6 284.4l3.4-.2l-2.6-.3l-3.5 .3z" fill="#009bb2"/><path d="M355.1 288.2l3.4-1.2l-2.6-1.2l-3.5 .9z" fill="#0094b5"/><path d="M333.6 282.9l3.4 .9l-2.6-1.1l-3.5-.9z" fill="#00a2ae"/><path d="M382.6 284.8l3.4 1l-2.6-.9l-3.4-.7z" fill="#0097b3"/><path d="M361.1 288l3.4-1.6l-2.6-.8l-3.4 1.4z" fill="#0094b5"/><path d="M339.6 284.9l3.4 .7l-2.6-1.1l-3.4-.7z" fill="#009bb2"/><path d="M367.1 287l3.4-1.7l-2.6-.3l-3.4 1.4z" fill="#0095b4"/><path d="M345.6 287.2l3.4 .1l-2.6-1.5l-3.4-.2z" fill="#0095b4"/><path d="M373.1 285.5l3.5-1.1l-2.7-.2l-3.4 1.1z" fill="#0099b2"/><path d="M351.6 289.1l3.5-.9l-2.7-1.5l-3.4 .6z" fill="#0092b6"/><path d="M379.2 284.8l3.4 0l-2.6-.6l-3.4 .2z" fill="#009bb2"/><path d="M357.7 289.5l3.4-1.5l-2.6-1l-3.4 1.2z" fill="#0091b7"/><path d="M336.2 283.9l3.4 1l-2.6-1.1l-3.4-.9z" fill="#009fb0"/><path d="M363.7 288.8l3.4-1.8l-2.6-.6l-3.4 1.6z" fill="#0092b6"/><path d="M342.2 286.2l3.4 1l-2.6-1.6l-3.4-.7z" fill="#0097b4"/><path d="M369.7 287.5l3.4-2l-2.6-.2l-3.4 1.7z" fill="#0094b5"/><path d="M348.2 289.3l3.4-.2l-2.6-1.8l-3.4-.1z" fill="#0091b6"/><path d="M375.7 285.9l3.5-1.1l-2.6-.4l-3.5 1.1z" fill="#0099b3"/><path d="M354.2 290.7l3.5-1.2l-2.6-1.3l-3.5 .9z" fill="#008fb8"/><path d="M360.3 290.3l3.4-1.5l-2.6-.8l-3.4 1.5z" fill="#008eb8"/><path d="M338.8 284.9l3.4 1.3l-2.6-1.3l-3.4-1z" fill="#009bb2"/><path d="M366.3 289.5l3.4-2l-2.6-.5l-3.4 1.8z" fill="#008fb7"/><path d="M344.8 288.3l3.4 1l-2.6-2.1l-3.4-1z" fill="#0094b5"/><path d="M372.3 288.1l3.4-2.2l-2.6-.4l-3.4 2z" fill="#0093b5"/><path d="M350.8 291.5l3.4-.8l-2.6-1.6l-3.4 .2z" fill="#008eb8"/><path d="M356.8 291.7l3.5-1.4l-2.6-.8l-3.5 1.2z" fill="#008db9"/><path d="M362.9 290.8l3.4-1.3l-2.6-.7l-3.4 1.5z" fill="#008db9"/><path d="M341.4 286.8l3.4 1.5l-2.6-2.1l-3.4-1.3z" fill="#0098b3"/><path d="M368.9 290.2l3.4-2.1l-2.6-.6l-3.4 2z" fill="#008eb8"/><path d="M347.4 290.8l3.4 .7l-2.6-2.2l-3.4-1z" fill="#0091b6"/><path d="M353.4 292.7l3.4-1l-2.6-1l-3.4 .8z" fill="#008db8"/><path d="M359.5 291.9l3.4-1.1l-2.6-.5l-3.5 1.4z" fill="#008cb9"/><path d="M365.5 291.2l3.4-1l-2.6-.7l-3.4 1.3z" fill="#008cb9"/><path d="M344 289l3.4 1.8l-2.6-2.5l-3.4-1.5z" fill="#0098b3"/><path d="M350 292.5l3.4 .2l-2.6-1.2l-3.4-.7z" fill="#0091b6"/><path d="M356 293l3.5-1.1l-2.7-.2l-3.4 1z" fill="#008eb8"/><path d="M362.1 292l3.4-.8l-2.6-.4l-3.4 1.1z" fill="#008db8"/><path d="M346.6 291.1l3.4 1.4l-2.6-1.7l-3.4-1.8z" fill="#0099b3"/><path d="M352.6 293.5l3.4-.5l-2.6-.3l-3.4-.2z" fill="#0093b6"/><path d="M358.6 293.2l3.5-1.2l-2.6-.1l-3.5 1.1z" fill="#0090b7"/><path d="M349.2 293.3l3.4 .2l-2.6-1l-3.4-1.4z" fill="#0099b3"/><path d="M355.2 294.5l3.4-1.3l-2.6-.2l-3.4 .5z" fill="#0094b5"/><path d="M351.8 295.3l3.4-.8l-2.6-1l-3.4-.2z" fill="#0099b3"/></g>
<path d="M273.6 218.7L273.6 302.7M273.6 302.7L351.8 340.3M351.8 340.3L454.4 311.6M273.6 302.7l-2 0.6M273.6 288.7l-2 0.6M273.6 274.7l-2 0.6M273.6 260.7l-2 0.6M273.6 246.7l-2 0.6M273.6 232.7l-2 0.6M273.6 218.7l-2 0.6M351.8 340.3l-2 0.6M312.7 321.5l-2 0.6M273.6 302.7l-2 0.6M351.8 340.3l1.8 0.9M377.4 333.1l1.8 0.9M403.1 326.0l1.8 0.9M428.8 318.8l1.8 0.9M454.4 311.6l1.8 0.9" fill="none" stroke="#262626" stroke-width="0.55"/>
<text x="269.6" y="304.4" text-anchor="end" class="tk">-1.5</text>
<text x="269.6" y="290.4" text-anchor="end" class="tk">-1</text>
<text x="269.6" y="276.4" text-anchor="end" class="tk">-0.5</text>
<text x="269.6" y="262.4" text-anchor="end" class="tk">0</text>
<text x="269.6" y="248.4" text-anchor="end" class="tk">0.5</text>
<text x="269.6" y="234.4" text-anchor="end" class="tk">1</text>
<text x="269.6" y="220.4" text-anchor="end" class="tk">1.5</text>
<text x="264.5" y="311.1" text-anchor="middle" class="tk">10</text>
<text x="305.3" y="330.6" text-anchor="middle" class="tk">0</text>
<text x="342.2" y="350.0" text-anchor="middle" class="tk">-10</text>
<text x="358.4" y="350.4" text-anchor="middle" class="tk">0</text>
<text x="384.4" y="343.5" text-anchor="middle" class="tk">5</text>
<text x="411.9" y="336.4" text-anchor="middle" class="tk">10</text>
<text x="437.4" y="329.0" text-anchor="middle" class="tk">15</text>
<text x="462.9" y="321.2" text-anchor="middle" class="tk">20</text>
<text x="281.2" y="351.3" text-anchor="middle" class="l3">y-coordinates [m]</text>
<text x="425.3" y="353.6" text-anchor="middle" class="l3">x-coordinates [m]</text>
<text transform="translate(252.2 261.6) rotate(-90)" text-anchor="middle" class="l3">Surface elevation [m]</text>
<path d="M351.8 525.5L273.6 487.9M273.6 487.9L273.6 403.9M377.4 518.3L299.2 480.7M299.2 480.7L299.2 396.7M403.1 511.1L324.9 473.5M324.9 473.5L324.9 389.5M428.8 504.0L350.6 466.4M350.6 466.4L350.6 382.4M454.4 496.8L376.2 459.2M376.2 459.2L376.2 375.2M351.8 525.5L454.4 496.8M454.4 496.8L454.4 412.8M312.7 506.7L415.3 478.0M415.3 478.0L415.3 394.0M273.6 487.9L376.2 459.2M376.2 459.2L376.2 375.2M273.6 487.9L376.2 459.2M376.2 459.2L454.4 496.8M273.6 473.9L376.2 445.2M376.2 445.2L454.4 482.8M273.6 459.9L376.2 431.2M376.2 431.2L454.4 468.8M273.6 445.9L376.2 417.2M376.2 417.2L454.4 454.8M273.6 431.9L376.2 403.2M376.2 403.2L454.4 440.8M273.6 417.9L376.2 389.2M376.2 389.2L454.4 426.8M273.6 403.9L376.2 375.2M376.2 375.2L454.4 412.8" fill="none" stroke="#e0e0e0" stroke-width="0.6"/>
<g stroke="#000" stroke-width="0.52" stroke-linejoin="round"><path d="M375.4 435.9l3.4-1.7l-2.6-1.1l-3.4 1.6z" fill="#000ff7"/><path d="M372 437.7l3.4-1.8l-2.6-1.2l-3.4 1.5z" fill="#000df9"/><path d="M378 437.3l3.4-2.1l-2.6-1l-3.4 1.7z" fill="#000ef8"/><path d="M368.5 439.3l3.5-1.6l-2.6-1.5l-3.5 1.5z" fill="#000df9"/><path d="M374.6 439.4l3.4-2.1l-2.6-1.4l-3.4 1.8z" fill="#000df9"/><path d="M380.6 438.9l3.4-2.3l-2.6-1.4l-3.4 2.1z" fill="#000df9"/><path d="M365.1 441.1l3.4-1.8l-2.6-1.6l-3.4 1.5z" fill="#000df9"/><path d="M371.2 441.3l3.4-1.9l-2.6-1.7l-3.5 1.6z" fill="#000df9"/><path d="M377.2 441.2l3.4-2.3l-2.6-1.6l-3.4 2.1z" fill="#000df9"/><path d="M383.2 440.5l3.4-2l-2.6-1.9l-3.4 2.3z" fill="#000df9"/><path d="M361.7 442.7l3.4-1.6l-2.6-1.9l-3.4 1.6z" fill="#000df9"/><path d="M367.7 443.1l3.5-1.8l-2.7-2l-3.4 1.8z" fill="#000df9"/><path d="M373.8 443.3l3.4-2.1l-2.6-1.8l-3.4 1.9z" fill="#000df9"/><path d="M379.8 442.6l3.4-2.1l-2.6-1.6l-3.4 2.3z" fill="#000df9"/><path d="M358.3 444.2l3.4-1.5l-2.6-1.9l-3.4 1.4z" fill="#000df9"/><path d="M385.8 441.8l3.4-1.6l-2.6-1.7l-3.4 2z" fill="#000df9"/><path d="M364.3 444.7l3.4-1.6l-2.6-2l-3.4 1.6z" fill="#000df9"/><path d="M370.3 445l3.5-1.7l-2.6-2l-3.5 1.8z" fill="#000df9"/><path d="M376.4 444.7l3.4-2.1l-2.6-1.4l-3.4 2.1z" fill="#000df9"/><path d="M354.9 445.6l3.4-1.4l-2.6-2l-3.4 1.4z" fill="#000df9"/><path d="M382.4 443.6l3.4-1.8l-2.6-1.3l-3.4 2.1z" fill="#000df9"/><path d="M360.9 446.2l3.4-1.5l-2.6-2l-3.4 1.5z" fill="#000df9"/><path d="M388.4 442.7l3.4-1.2l-2.6-1.3l-3.4 1.6z" fill="#000df9"/><path d="M366.9 446.6l3.4-1.6l-2.6-1.9l-3.4 1.6z" fill="#000df9"/><path d="M372.9 446.5l3.5-1.8l-2.6-1.4l-3.5 1.7z" fill="#000df9"/><path d="M351.4 446.8l3.5-1.2l-2.6-2l-3.5 1.2z" fill="#000df9"/><path d="M379 445.6l3.4-2l-2.6-1l-3.4 2.1z" fill="#000df9"/><path d="M357.5 447.6l3.4-1.4l-2.6-2l-3.4 1.4z" fill="#000df9"/><path d="M385 444.2l3.4-1.5l-2.6-.9l-3.4 1.8z" fill="#000df9"/><path d="M363.5 448.1l3.4-1.5l-2.6-1.9l-3.4 1.5z" fill="#000df9"/><path d="M391 443l3.4-1l-2.6-.5l-3.4 1.2z" fill="#0014f5"/><path d="M369.5 448.3l3.4-1.8l-2.6-1.5l-3.4 1.6z" fill="#000df9"/><path d="M348 448l3.4-1.2l-2.6-2l-3.4 1.2z" fill="#000df9"/><path d="M375.6 447.7l3.4-2.1l-2.6-.9l-3.5 1.8z" fill="#000df9"/><path d="M354.1 448.9l3.4-1.3l-2.6-2l-3.5 1.2z" fill="#000df9"/><path d="M381.6 446.3l3.4-2.1l-2.6-.6l-3.4 2z" fill="#000df9"/><path d="M360.1 449.5l3.4-1.4l-2.6-1.9l-3.4 1.4z" fill="#000df9"/><path d="M387.6 444.5l3.4-1.5l-2.6-.3l-3.4 1.5z" fill="#000ff8"/><path d="M366.1 449.9l3.4-1.6l-2.6-1.7l-3.4 1.5z" fill="#000df9"/><path d="M344.6 449.2l3.4-1.2l-2.6-2l-3.4 1.1z" fill="#000df9"/><path d="M393.6 443.6l3.5-1.1l-2.7-.5l-3.4 1z" fill="#001af2"/><path d="M372.1 449.7l3.5-2l-2.7-1.2l-3.4 1.8z" fill="#000df9"/><path d="M350.6 450.1l3.5-1.2l-2.7-2.1l-3.4 1.2z" fill="#000df9"/><path d="M378.2 448.7l3.4-2.4l-2.6-.7l-3.4 2.1z" fill="#000df9"/><path d="M356.7 450.8l3.4-1.3l-2.6-1.9l-3.4 1.3z" fill="#000df9"/><path d="M384.2 447.1l3.4-2.6l-2.6-.3l-3.4 2.1z" fill="#000df9"/><path d="M362.7 451.3l3.4-1.4l-2.6-1.8l-3.4 1.4z" fill="#000df9"/><path d="M341.2 450.2l3.4-1l-2.6-2.1l-3.4 1.1z" fill="#000df9"/><path d="M390.2 445.4l3.4-1.8l-2.6-.6l-3.4 1.5z" fill="#0012f6"/><path d="M368.7 451.4l3.4-1.7l-2.6-1.4l-3.4 1.6z" fill="#000df9"/><path d="M347.2 451.2l3.4-1.1l-2.6-2.1l-3.4 1.2z" fill="#000df9"/><path d="M396.2 445l3.5-1.5l-2.6-1l-3.5 1.1z" fill="#0019f2"/><path d="M374.7 450.9l3.5-2.2l-2.6-1l-3.5 2z" fill="#000df9"/><path d="M353.2 452l3.5-1.2l-2.6-1.9l-3.5 1.2z" fill="#000df9"/><path d="M380.8 449.8l3.4-2.7l-2.6-.8l-3.4 2.4z" fill="#000df9"/><path d="M359.3 452.6l3.4-1.3l-2.6-1.8l-3.4 1.3z" fill="#000df9"/><path d="M337.8 451.1l3.4-.9l-2.6-2l-3.4 .9z" fill="#000df9"/><path d="M386.8 448.4l3.4-3l-2.6-.9l-3.4 2.6z" fill="#000df9"/><path d="M365.3 452.9l3.4-1.5l-2.6-1.5l-3.4 1.4z" fill="#000df9"/><path d="M343.8 452.2l3.4-1l-2.6-2l-3.4 1z" fill="#000df9"/><path d="M392.8 447.3l3.4-2.3l-2.6-1.4l-3.4 1.8z" fill="#000df9"/><path d="M371.3 452.9l3.4-2l-2.6-1.2l-3.4 1.7z" fill="#000df9"/><path d="M349.8 453.1l3.4-1.1l-2.6-1.9l-3.4 1.1z" fill="#000df9"/><path d="M398.8 446l3.5-1.6l-2.6-.9l-3.5 1.5z" fill="#001bf2"/><path d="M377.3 452.2l3.5-2.4l-2.6-1.1l-3.5 2.2z" fill="#000df9"/><path d="M355.8 453.8l3.5-1.2l-2.6-1.8l-3.5 1.2z" fill="#000df9"/><path d="M334.3 451.9l3.5-.8l-2.6-2l-3.5 .8z" fill="#000df9"/><path d="M383.4 451.3l3.4-2.9l-2.6-1.3l-3.4 2.7z" fill="#000df9"/><path d="M361.9 454.2l3.4-1.3l-2.6-1.6l-3.4 1.3z" fill="#000df9"/><path d="M340.4 453.1l3.4-.9l-2.6-2l-3.4 .9z" fill="#000df9"/><path d="M389.4 450.3l3.4-3l-2.6-1.9l-3.4 3z" fill="#000df9"/><path d="M367.9 454.4l3.4-1.5l-2.6-1.5l-3.4 1.5z" fill="#000df9"/><path d="M346.4 454l3.4-.9l-2.6-1.9l-3.4 1z" fill="#000df9"/><path d="M395.4 448.7l3.4-2.7l-2.6-1l-3.4 2.3z" fill="#000df9"/><path d="M373.9 454.2l3.4-2l-2.6-1.3l-3.4 2z" fill="#000df9"/><path d="M352.4 454.8l3.4-1l-2.6-1.8l-3.4 1.1z" fill="#000df9"/><path d="M330.9 452.6l3.4-.7l-2.6-2l-3.4 .8z" fill="#000df9"/><path d="M401.5 446.4l3.4-1.1l-2.6-.9l-3.5 1.6z" fill="#0024ed"/><path d="M380 453.7l3.4-2.4l-2.6-1.5l-3.5 2.4z" fill="#000df9"/><path d="M358.5 455.3l3.4-1.1l-2.6-1.6l-3.5 1.2z" fill="#000df9"/><path d="M337 453.8l3.4-.7l-2.6-2l-3.5 .8z" fill="#000df9"/><path d="M386 453l3.4-2.7l-2.6-1.9l-3.4 2.9z" fill="#000df9"/><path d="M364.5 455.7l3.4-1.3l-2.6-1.5l-3.4 1.3z" fill="#000df9"/><path d="M343 454.8l3.4-.8l-2.6-1.8l-3.4 .9z" fill="#000df9"/><path d="M392 452l3.4-3.3l-2.6-1.4l-3.4 3z" fill="#000df9"/><path d="M370.5 455.8l3.4-1.6l-2.6-1.3l-3.4 1.5z" fill="#000df9"/><path d="M349 455.6l3.4-.8l-2.6-1.7l-3.4 .9z" fill="#000df9"/><path d="M327.5 453.1l3.4-.5l-2.6-1.9l-3.4 .6z" fill="#000df9"/><path d="M398 448.5l3.5-2.1l-2.7-.4l-3.4 2.7z" fill="#0019f3"/><path d="M376.5 455.6l3.5-1.9l-2.7-1.5l-3.4 2z" fill="#000df9"/><path d="M355 456.2l3.5-.9l-2.7-1.5l-3.4 1z" fill="#000df9"/><path d="M333.5 454.3l3.5-.5l-2.7-1.9l-3.4 .7z" fill="#000df9"/><path d="M404.1 446.6l3.4-.4l-2.6-.9l-3.4 1.1z" fill="#002ee8"/><path d="M382.6 455.2l3.4-2.2l-2.6-1.7l-3.4 2.4z" fill="#000df9"/><path d="M361.1 456.7l3.4-1l-2.6-1.5l-3.4 1.1z" fill="#000df9"/><path d="M339.6 455.4l3.4-.6l-2.6-1.7l-3.4 .7z" fill="#000df9"/><path d="M388.6 454.5l3.4-2.5l-2.6-1.7l-3.4 2.7z" fill="#000df9"/><path d="M367.1 457l3.4-1.2l-2.6-1.4l-3.4 1.3z" fill="#000df9"/><path d="M345.6 456.2l3.4-.6l-2.6-1.6l-3.4 .8z" fill="#000df9"/><path d="M324.1 453.2l3.4-.1l-2.6-1.8l-3.4 .4z" fill="#000df9"/><path d="M394.6 451.9l3.4-3.4l-2.6 .2l-3.4 3.3z" fill="#000df9"/><path d="M373.1 457.1l3.4-1.5l-2.6-1.4l-3.4 1.6z" fill="#000df9"/><path d="M351.6 456.9l3.4-.7l-2.6-1.4l-3.4 .8z" fill="#000df9"/><path d="M330.1 454.5l3.4-.2l-2.6-1.7l-3.4 .5z" fill="#000df9"/><path d="M400.6 447.5l3.5-.9l-2.6-.2l-3.5 2.1z" fill="#002ee8"/><path d="M379.1 456.9l3.5-1.7l-2.6-1.5l-3.5 1.9z" fill="#000df9"/><path d="M357.6 457.4l3.5-.7l-2.6-1.4l-3.5 .9z" fill="#000df9"/><path d="M336.1 455.7l3.5-.3l-2.6-1.6l-3.5 .5z" fill="#000df9"/><path d="M406.7 447.5l3.4-.2l-2.6-1.1l-3.4 .4z" fill="#0031e6"/><path d="M385.2 456.4l3.4-1.9l-2.6-1.5l-3.4 2.2z" fill="#000df9"/><path d="M363.7 457.8l3.4-.8l-2.6-1.3l-3.4 1z" fill="#000df9"/><path d="M342.2 456.7l3.4-.5l-2.6-1.4l-3.4 .6z" fill="#000df9"/><path d="M320.7 452.9l3.4 .3l-2.6-1.5l-3.4 0z" fill="#000df9"/><path d="M391.2 454.7l3.4-2.8l-2.6 .1l-3.4 2.5z" fill="#000df9"/><path d="M369.7 458.2l3.4-1.1l-2.6-1.3l-3.4 1.2z" fill="#000df9"/><path d="M348.2 457.3l3.4-.4l-2.6-1.3l-3.4 .6z" fill="#000df9"/><path d="M326.7 454.3l3.4 .2l-2.6-1.4l-3.4 .1z" fill="#000df9"/><path d="M397.2 450.8l3.4-3.3l-2.6 1l-3.4 3.4z" fill="#0018f3"/><path d="M375.7 458.3l3.4-1.4l-2.6-1.3l-3.4 1.5z" fill="#000df9"/><path d="M354.2 457.9l3.4-.5l-2.6-1.2l-3.4 .7z" fill="#000df9"/><path d="M332.7 455.7l3.4 0l-2.6-1.4l-3.4 .2z" fill="#000df9"/><path d="M403.2 448.3l3.5-.8l-2.6-.9l-3.5 .9z" fill="#0032e6"/><path d="M381.7 458l3.5-1.6l-2.6-1.2l-3.5 1.7z" fill="#000df9"/><path d="M360.2 458.4l3.5-.6l-2.6-1.1l-3.5 .7z" fill="#000df9"/><path d="M338.7 456.8l3.5-.1l-2.6-1.3l-3.5 .3z" fill="#000df9"/><path d="M409.3 448.6l3.4-.2l-2.6-1.1l-3.4 .2z" fill="#0032e6"/><path d="M317.2 452.1l3.5 .8l-2.6-1.2l-3.5-.6z" fill="#0010f7"/><path d="M387.8 456.9l3.4-2.2l-2.6-.2l-3.4 1.9z" fill="#000df9"/><path d="M366.3 458.9l3.4-.7l-2.6-1.2l-3.4 .8z" fill="#000df9"/><path d="M344.8 457.5l3.4-.2l-2.6-1.1l-3.4 .5z" fill="#000df9"/><path d="M323.3 453.6l3.4 .7l-2.6-1.1l-3.4-.3z" fill="#000df9"/><path d="M393.8 454.3l3.4-3.5l-2.6 1.1l-3.4 2.8z" fill="#000df9"/><path d="M372.3 459.3l3.4-1l-2.6-1.2l-3.4 1.1z" fill="#000df9"/><path d="M350.8 458.1l3.4-.2l-2.6-1l-3.4 .4z" fill="#000df9"/><path d="M329.3 455.1l3.4 .6l-2.6-1.2l-3.4-.2z" fill="#000df9"/><path d="M399.8 450.9l3.4-2.6l-2.6-.8l-3.4 3.3z" fill="#0022ee"/><path d="M378.3 459.3l3.4-1.3l-2.6-1.1l-3.4 1.4z" fill="#000df9"/><path d="M356.8 458.6l3.4-.2l-2.6-1l-3.4 .5z" fill="#000df9"/><path d="M335.3 456.5l3.4 .3l-2.6-1.1l-3.4 0z" fill="#000df9"/><path d="M405.9 449.4l3.4-.8l-2.6-1.1l-3.5 .8z" fill="#0033e5"/><path d="M313.8 450.8l3.4 1.3l-2.6-1l-3.4-1.4z" fill="#0026ec"/><path d="M384.4 458.7l3.4-1.8l-2.6-.5l-3.5 1.6z" fill="#000df9"/><path d="M362.9 459.3l3.4-.4l-2.6-1.1l-3.5 .6z" fill="#000df9"/><path d="M341.4 457.4l3.4 .1l-2.6-.8l-3.5 .1z" fill="#000df9"/><path d="M411.9 449.6l3.4-.1l-2.6-1.1l-3.4 .2z" fill="#0035e5"/><path d="M319.9 452.4l3.4 1.2l-2.6-.7l-3.5-.8z" fill="#0019f2"/><path d="M390.4 457.1l3.4-2.8l-2.6 .4l-3.4 2.2z" fill="#000df9"/><path d="M368.9 459.9l3.4-.6l-2.6-1.1l-3.4 .7z" fill="#000df9"/><path d="M347.4 458.1l3.4 0l-2.6-.8l-3.4 .2z" fill="#000df9"/><path d="M325.9 453.9l3.4 1.2l-2.6-.8l-3.4-.7z" fill="#000df8"/><path d="M396.4 454.3l3.4-3.4l-2.6-.1l-3.4 3.5z" fill="#000df9"/><path d="M374.9 460.2l3.4-.9l-2.6-1l-3.4 1z" fill="#000df9"/><path d="M353.4 458.6l3.4 0l-2.6-.7l-3.4 .2z" fill="#000df9"/><path d="M331.9 455.6l3.4 .9l-2.6-.8l-3.4-.6z" fill="#000df9"/><path d="M402.4 451.8l3.5-2.4l-2.7-1.1l-3.4 2.6z" fill="#0026ec"/><path d="M310.4 449.2l3.4 1.6l-2.6-1.1l-3.4-1.9z" fill="#003ee0"/><path d="M380.9 460.1l3.5-1.4l-2.7-.7l-3.4 1.3z" fill="#000df9"/><path d="M359.4 459.3l3.5 0l-2.7-.9l-3.4 .2z" fill="#000df9"/><path d="M337.9 456.8l3.5 .6l-2.7-.6l-3.4-.3z" fill="#000df9"/><path d="M408.5 450.2l3.4-.6l-2.6-1l-3.4 .8z" fill="#0038e3"/><path d="M316.4 451l3.5 1.4l-2.7-.3l-3.4-1.3z" fill="#0030e7"/><path d="M387 459.2l3.4-2.1l-2.6-.2l-3.4 1.8z" fill="#000df9"/><path d="M365.5 460.2l3.4-.3l-2.6-1l-3.4 .4z" fill="#000df9"/><path d="M344 457.6l3.4 .5l-2.6-.6l-3.4-.1z" fill="#000df9"/><path d="M414.5 450.1l3.4-.2l-2.6-.4l-3.4 .1z" fill="#003be1"/><path d="M322.5 452.3l3.4 1.6l-2.6-.3l-3.4-1.2z" fill="#0027ec"/><path d="M393 457.4l3.4-3.1l-2.6 0l-3.4 2.8z" fill="#000df9"/><path d="M371.5 460.9l3.4-.7l-2.6-.9l-3.4 .6z" fill="#000df9"/><path d="M350 458.4l3.4 .2l-2.6-.5l-3.4 0z" fill="#000df9"/><path d="M328.5 454l3.4 1.6l-2.6-.5l-3.4-1.2z" fill="#0019f3"/><path d="M399 455l3.4-3.2l-2.6-.9l-3.4 3.4z" fill="#0010f7"/><path d="M307 447.6l3.4 1.6l-2.6-1.4l-3.4-2.1z" fill="#0057d4"/><path d="M377.5 461.1l3.4-1l-2.6-.8l-3.4 .9z" fill="#000df9"/><path d="M356 459.1l3.4 .2l-2.6-.7l-3.4 0z" fill="#000df9"/><path d="M334.5 455.4l3.4 1.4l-2.6-.3l-3.4-.9z" fill="#000ef8"/><path d="M405 452.7l3.5-2.5l-2.6-.8l-3.5 2.4z" fill="#0029ea"/><path d="M313 449.6l3.4 1.4l-2.6-.2l-3.4-1.6z" fill="#0046dc"/><path d="M383.5 460.7l3.5-1.5l-2.6-.5l-3.5 1.4z" fill="#000df9"/><path d="M362 460l3.5 .2l-2.6-.9l-3.5 0z" fill="#000df9"/><path d="M340.5 456.6l3.5 1l-2.6-.2l-3.5-.6z" fill="#000df9"/><path d="M411.1 451l3.4-.9l-2.6-.5l-3.4 .6z" fill="#003ce1"/><path d="M319 450.5l3.5 1.8l-2.6 .1l-3.5-1.4z" fill="#0040df"/><path d="M389.6 459.8l3.4-2.4l-2.6-.3l-3.4 2.1z" fill="#000df9"/><path d="M368.1 461.1l3.4-.2l-2.6-1l-3.4 .3z" fill="#000df9"/><path d="M346.6 457.8l3.4 .6l-2.6-.3l-3.4-.5z" fill="#000df9"/><path d="M417.1 449.9l3.4-1.2l-2.6 1.2l-3.4 .2z" fill="#004ada"/><path d="M325.1 451.8l3.4 2.2l-2.6-.1l-3.4-1.6z" fill="#0037e3"/><path d="M395.6 458.2l3.4-3.2l-2.6-.7l-3.4 3.1z" fill="#000df9"/><path d="M303.6 446l3.4 1.6l-2.6-1.9l-3.4-2.4z" fill="#0070c7"/><path d="M374.1 461.7l3.4-.6l-2.6-.9l-3.4 .7z" fill="#000df9"/><path d="M352.6 458.8l3.4 .3l-2.6-.5l-3.4-.2z" fill="#000df9"/><path d="M331.1 453.5l3.4 1.9l-2.6 .2l-3.4-1.6z" fill="#002aea"/><path d="M401.6 456.1l3.4-3.4l-2.6-.9l-3.4 3.2z" fill="#0012f6"/><path d="M309.6 448.4l3.4 1.2l-2.6-.4l-3.4-1.6z" fill="#005bd1"/><path d="M380.1 461.8l3.4-1.1l-2.6-.6l-3.4 1z" fill="#000df9"/><path d="M358.6 459.7l3.4 .3l-2.6-.7l-3.4-.2z" fill="#000df9"/><path d="M337.1 454.9l3.4 1.7l-2.6 .2l-3.4-1.4z" fill="#0020ef"/><path d="M407.6 453.7l3.5-2.7l-2.6-.8l-3.5 2.5z" fill="#002ce9"/><path d="M315.6 449l3.4 1.5l-2.6 .5l-3.4-1.4z" fill="#0059d3"/><path d="M386.1 461.5l3.5-1.7l-2.6-.6l-3.5 1.5z" fill="#000df9"/><path d="M364.6 461l3.5 .1l-2.6-.9l-3.5-.2z" fill="#000df9"/><path d="M343.1 456.4l3.5 1.4l-2.6-.2l-3.5-1z" fill="#0013f5"/><path d="M413.7 451.6l3.4-1.7l-2.6 .2l-3.4 .9z" fill="#0043dd"/><path d="M321.6 449.4l3.5 2.4l-2.6 .5l-3.5-1.8z" fill="#0057d4"/><path d="M392.2 460.7l3.4-2.5l-2.6-.8l-3.4 2.4z" fill="#000df9"/><path d="M300.1 443.8l3.5 2.2l-2.6-2.7l-3.5-2.8z" fill="#008db8"/><path d="M370.7 461.9l3.4-.2l-2.6-.8l-3.4 .2z" fill="#000df9"/><path d="M349.2 458.1l3.4 .7l-2.6-.4l-3.4-.6z" fill="#000df9"/><path d="M419.7 449l3.4-1.8l-2.6 1.5l-3.4 1.2z" fill="#005fd0"/><path d="M327.7 450.8l3.4 2.7l-2.6 .5l-3.4-2.2z" fill="#004dd8"/><path d="M398.2 459.3l3.4-3.2l-2.6-1.1l-3.4 3.2z" fill="#000df9"/><path d="M306.2 447.3l3.4 1.1l-2.6-.8l-3.4-1.6z" fill="#006fc8"/><path d="M376.7 462.3l3.4-.5l-2.6-.7l-3.4 .6z" fill="#000df9"/><path d="M355.2 459.5l3.4 .2l-2.6-.6l-3.4-.3z" fill="#000df9"/><path d="M333.7 452.3l3.4 2.6l-2.6 .5l-3.4-1.9z" fill="#0041df"/><path d="M404.2 457.2l3.4-3.5l-2.6-1l-3.4 3.4z" fill="#0013f6"/><path d="M312.2 447.7l3.4 1.3l-2.6 .6l-3.4-1.2z" fill="#006ec8"/><path d="M382.7 462.5l3.4-1l-2.6-.8l-3.4 1.1z" fill="#000df9"/><path d="M361.2 460.8l3.4 .2l-2.6-1l-3.4-.3z" fill="#000df9"/><path d="M339.7 454.3l3.4 2.1l-2.6 .2l-3.4-1.7z" fill="#0031e6"/><path d="M410.3 454.4l3.4-2.8l-2.6-.6l-3.5 2.7z" fill="#0031e6"/><path d="M318.2 447.4l3.4 2l-2.6 1.1l-3.4-1.5z" fill="#0074c5"/><path d="M388.8 462.3l3.4-1.6l-2.6-.9l-3.5 1.7z" fill="#000df9"/><path d="M296.7 440.7l3.4 3.1l-2.6-3.3l-3.4-2.4z" fill="#00b4a5"/><path d="M367.3 461.8l3.4 .1l-2.6-.8l-3.5-.1z" fill="#000df9"/><path d="M345.8 456.5l3.4 1.6l-2.6-.3l-3.5-1.4z" fill="#001ff0"/><path d="M416.3 451.2l3.4-2.2l-2.6 .9l-3.4 1.7z" fill="#0052d6"/><path d="M324.3 447.8l3.4 3l-2.6 1l-3.5-2.4z" fill="#0073c5"/><path d="M394.8 461.7l3.4-2.4l-2.6-1.1l-3.4 2.5z" fill="#000df9"/><path d="M302.8 445.9l3.4 1.4l-2.6-1.3l-3.5-2.2z" fill="#0086bc"/><path d="M373.3 462.2l3.4 .1l-2.6-.6l-3.4 .2z" fill="#000df9"/><path d="M351.8 458.7l3.4 .8l-2.6-.7l-3.4-.7z" fill="#000df9"/><path d="M422.3 447.8l3.4-2l-2.6 1.4l-3.4 1.8z" fill="#0076c4"/><path d="M330.3 449.2l3.4 3.1l-2.6 1.2l-3.4-2.7z" fill="#0068cb"/><path d="M400.8 460.4l3.4-3.2l-2.6-1.1l-3.4 3.2z" fill="#000df9"/><path d="M308.8 446.5l3.4 1.2l-2.6 .7l-3.4-1.1z" fill="#0083be"/><path d="M379.3 462.7l3.4-.2l-2.6-.7l-3.4 .5z" fill="#000df9"/><path d="M357.8 460.5l3.4 .3l-2.6-1.1l-3.4-.2z" fill="#000df9"/><path d="M336.3 451.3l3.4 3l-2.6 .6l-3.4-2.6z" fill="#0057d4"/><path d="M406.8 457.9l3.5-3.5l-2.7-.7l-3.4 3.5z" fill="#0018f3"/><path d="M314.8 445.9l3.4 1.5l-2.6 1.6l-3.4-1.3z" fill="#008cb9"/><path d="M385.3 463.1l3.5-.8l-2.7-.8l-3.4 1z" fill="#000df9"/><path d="M293.3 438l3.4 2.7l-2.6-2.6l-3.4-1.8z" fill="#00d893"/><path d="M363.8 461.5l3.5 .3l-2.7-.8l-3.4-.2z" fill="#000df9"/><path d="M342.3 454l3.5 2.5l-2.7-.1l-3.4-2.1z" fill="#0040df"/><path d="M412.9 454.3l3.4-3.1l-2.6 .4l-3.4 2.8z" fill="#003ee0"/><path d="M320.8 445.1l3.5 2.7l-2.7 1.6l-3.4-2z" fill="#0096b4"/><path d="M391.4 463.1l3.4-1.4l-2.6-1l-3.4 1.6z" fill="#000df9"/><path d="M299.3 442.1l3.5 3.8l-2.7-2.1l-3.4-3.1z" fill="#00b3a6"/><path d="M369.9 461.7l3.4 .5l-2.6-.3l-3.4-.1z" fill="#000df9"/><path d="M348.4 456.9l3.4 1.8l-2.6-.6l-3.4-1.6z" fill="#0027eb"/><path d="M418.9 450.3l3.4-2.5l-2.6 1.2l-3.4 2.2z" fill="#0067cb"/><path d="M326.9 445.6l3.4 3.6l-2.6 1.6l-3.4-3z" fill="#0094b5"/><path d="M397.4 462.6l3.4-2.2l-2.6-1.1l-3.4 2.4z" fill="#000df9"/><path d="M305.4 444.7l3.4 1.8l-2.6 .8l-3.4-1.4z" fill="#009db0"/><path d="M375.9 462l3.4 .7l-2.6-.4l-3.4-.1z" fill="#000df9"/><path d="M354.4 459.5l3.4 1l-2.6-1l-3.4-.8z" fill="#0010f7"/><path d="M424.9 446.5l3.4-2l-2.6 1.3l-3.4 2z" fill="#008eb8"/><path d="M332.9 447.8l3.4 3.5l-2.6 1l-3.4-3.1z" fill="#0082be"/><path d="M403.4 461.1l3.4-3.2l-2.6-.7l-3.4 3.2z" fill="#000df9"/><path d="M311.4 444.7l3.4 1.2l-2.6 1.8l-3.4-1.2z" fill="#00a0af"/><path d="M381.9 462.8l3.4 .3l-2.6-.6l-3.4 .2z" fill="#000df9"/><path d="M289.9 436.4l3.4 1.6l-2.6-1.7l-3.4-1.2z" fill="#00f087"/><path d="M360.4 461.1l3.4 .4l-2.6-.7l-3.4-.3z" fill="#000df9"/><path d="M338.9 450.8l3.4 3.2l-2.6 .3l-3.4-3z" fill="#0068cb"/><path d="M409.4 457.8l3.5-3.5l-2.6 .1l-3.5 3.5z" fill="#0026ec"/><path d="M317.4 443.5l3.4 1.6l-2.6 2.3l-3.4-1.5z" fill="#00aea8"/><path d="M387.9 463.4l3.5-.3l-2.6-.8l-3.5 .8z" fill="#000df9"/><path d="M295.9 438.9l3.4 3.2l-2.6-1.4l-3.4-2.7z" fill="#00db91"/><path d="M366.4 460.9l3.5 .8l-2.6 .1l-3.5-.3z" fill="#000df9"/><path d="M344.9 454.2l3.5 2.7l-2.6-.4l-3.5-2.5z" fill="#004ada"/><path d="M415.5 453.4l3.4-3.1l-2.6 .9l-3.4 3.1z" fill="#0053d6"/><path d="M323.4 442.5l3.5 3.1l-2.6 2.2l-3.5-2.7z" fill="#00bba2"/><path d="M394 463.6l3.4-1l-2.6-.9l-3.4 1.4z" fill="#000df9"/><path d="M301.9 441.6l3.5 3.1l-2.6 1.2l-3.5-3.8z" fill="#00c49d"/><path d="M372.5 460.7l3.4 1.3l-2.6 .2l-3.4-.5z" fill="#000ef8"/><path d="M351 457.5l3.4 2l-2.6-.8l-3.4-1.8z" fill="#002de8"/><path d="M421.5 448.9l3.4-2.4l-2.6 1.3l-3.4 2.5z" fill="#0080bf"/><path d="M329.5 443.9l3.4 3.9l-2.6 1.4l-3.4-3.6z" fill="#00b0a7"/><path d="M400 463.2l3.4-2.1l-2.6-.7l-3.4 2.2z" fill="#000df9"/><path d="M308 443.3l3.4 1.4l-2.6 1.8l-3.4-1.8z" fill="#00b7a4"/><path d="M378.5 461.3l3.4 1.5l-2.6-.1l-3.4-.7z" fill="#000df9"/><path d="M286.5 436.1l3.4 .3l-2.6-1.3l-3.4-.4z" fill="#00fd81"/><path d="M357 460.1l3.4 1l-2.6-.6l-3.4-1z" fill="#0017f3"/><path d="M427.5 445.3l3.4-2l-2.6 1.2l-3.4 2z" fill="#00a6ac"/><path d="M335.5 447.2l3.4 3.6l-2.6 .5l-3.4-3.5z" fill="#0093b5"/><path d="M406 461.1l3.4-3.3l-2.6 .1l-3.4 3.2z" fill="#000ff7"/><path d="M314 442.8l3.4 .7l-2.6 2.4l-3.4-1.2z" fill="#00bea0"/><path d="M384.5 462.6l3.4 .8l-2.6-.3l-3.4-.3z" fill="#000df9"/><path d="M292.5 437.5l3.4 1.4l-2.6-.9l-3.4-1.6z" fill="#00f186"/><path d="M363 460.2l3.4 .7l-2.6 .6l-3.4-.4z" fill="#0019f2"/><path d="M341.5 450.9l3.4 3.3l-2.6-.2l-3.4-3.2z" fill="#0073c6"/><path d="M412 457l3.5-3.6l-2.6 .9l-3.5 3.5z" fill="#003ae2"/><path d="M320 441.2l3.4 1.3l-2.6 2.6l-3.4-1.6z" fill="#00d197"/><path d="M390.5 463.4l3.5 .2l-2.6-.5l-3.5 .3z" fill="#000df9"/><path d="M298.5 438.9l3.4 2.7l-2.6 .5l-3.4-3.2z" fill="#00e78c"/><path d="M369 458.9l3.5 1.8l-2.6 1l-3.5-.8z" fill="#0028eb"/><path d="M347.5 454.5l3.5 3l-2.6-.6l-3.5-2.7z" fill="#0053d6"/><path d="M418.1 452l3.4-3.1l-2.6 1.4l-3.4 3.1z" fill="#006cc9"/><path d="M326 440.5l3.5 3.4l-2.6 1.7l-3.5-3.1z" fill="#00da92"/><path d="M396.6 464l3.4-.8l-2.6-.6l-3.4 1z" fill="#000df9"/><path d="M304.5 441.4l3.5 1.9l-2.6 1.4l-3.5-3.1z" fill="#00d296"/><path d="M375.1 458.8l3.4 2.5l-2.6 .7l-3.4-1.3z" fill="#002ce9"/><path d="M283 436.8l3.5-.7l-2.6-1.4l-3.5 .6z" fill="#00fe80"/><path d="M353.6 457.7l3.4 2.4l-2.6-.6l-3.4-2z" fill="#0037e3"/><path d="M424.1 447.6l3.4-2.3l-2.6 1.2l-3.4 2.4z" fill="#0099b2"/><path d="M332.1 443.6l3.4 3.6l-2.6 .6l-3.4-3.9z" fill="#00bf9f"/><path d="M402.6 463.5l3.4-2.4l-2.6 0l-3.4 2.1z" fill="#000df9"/><path d="M310.6 442.4l3.4 .4l-2.6 1.9l-3.4-1.4z" fill="#00cb99"/><path d="M381.1 460.2l3.4 2.4l-2.6 .2l-3.4-1.5z" fill="#0021ee"/><path d="M289.1 437.6l3.4-.1l-2.6-1.1l-3.4-.3z" fill="#00fa82"/><path d="M359.6 459l3.4 1.2l-2.6 .9l-3.4-1z" fill="#002de8"/><path d="M430.1 444.4l3.4-2l-2.6 .9l-3.4 2z" fill="#00bba2"/><path d="M338.1 447.4l3.4 3.5l-2.6-.1l-3.4-3.6z" fill="#009db0"/><path d="M408.6 460.6l3.4-3.6l-2.6 .8l-3.4 3.3z" fill="#0020ef"/><path d="M316.6 441.3l3.4-.1l-2.6 2.3l-3.4-.7z" fill="#00d893"/><path d="M387.1 461.8l3.4 1.6l-2.6 0l-3.4-.8z" fill="#0015f4"/><path d="M295.1 438.6l3.4 .3l-2.6 0l-3.4-1.4z" fill="#00f485"/><path d="M365.6 457.3l3.4 1.6l-2.6 2l-3.4-.7z" fill="#0041de"/><path d="M344.1 451.2l3.4 3.3l-2.6-.3l-3.4-3.3z" fill="#007cc1"/><path d="M414.7 455.6l3.4-3.6l-2.6 1.4l-3.5 3.6z" fill="#0053d6"/><path d="M322.6 439.8l3.4 .7l-2.6 2l-3.4-1.3z" fill="#00ea8a"/><path d="M393.2 463.3l3.4 .7l-2.6-.4l-3.5-.2z" fill="#000df9"/><path d="M301.1 440l3.4 1.4l-2.6 .2l-3.4-2.7z" fill="#00e88b"/><path d="M371.7 455.8l3.4 3l-2.6 1.9l-3.5-1.8z" fill="#0052d6"/><path d="M279.6 439.2l3.4-2.4l-2.6-1.5l-3.4 1.9z" fill="#00f087"/><path d="M350.2 454.6l3.4 3.1l-2.6-.2l-3.5-3z" fill="#005ed0"/><path d="M420.7 450.4l3.4-2.8l-2.6 1.3l-3.4 3.1z" fill="#0088bb"/><path d="M328.7 440.9l3.4 2.7l-2.6 .3l-3.5-3.4z" fill="#00e28e"/><path d="M399.2 464.3l3.4-.8l-2.6-.3l-3.4 .8z" fill="#000df9"/><path d="M307.2 442l3.4 .4l-2.6 .9l-3.5-1.9z" fill="#00d993"/><path d="M377.7 456.7l3.4 3.5l-2.6 1.1l-3.4-2.5z" fill="#004dd9"/><path d="M285.7 438.8l3.4-1.2l-2.6-1.5l-3.5 .7z" fill="#00f883"/><path d="M356.2 456.8l3.4 2.2l-2.6 1.1l-3.4-2.4z" fill="#004cd9"/><path d="M426.7 446.6l3.4-2.2l-2.6 .9l-3.4 2.3z" fill="#00afa8"/><path d="M334.7 444.4l3.4 3l-2.6-.2l-3.4-3.6z" fill="#00c39d"/><path d="M405.2 463.4l3.4-2.8l-2.6 .5l-3.4 2.4z" fill="#000ef8"/><path d="M313.2 442.1l3.4-.8l-2.6 1.5l-3.4-.4z" fill="#00db92"/><path d="M383.7 458.7l3.4 3.1l-2.6 .8l-3.4-2.4z" fill="#003ce1"/><path d="M291.7 439.4l3.4-.8l-2.6-1.1l-3.4 .1z" fill="#00f584"/><path d="M362.2 455.9l3.4 1.4l-2.6 2.9l-3.4-1.2z" fill="#0057d3"/><path d="M432.7 443.9l3.5-2.1l-2.7 .6l-3.4 2z" fill="#00cc99"/><path d="M340.7 448l3.4 3.2l-2.6-.3l-3.4-3.5z" fill="#00a4ad"/><path d="M411.2 459.5l3.5-3.9l-2.7 1.4l-3.4 3.6z" fill="#0036e4"/><path d="M319.2 440.7l3.4-.9l-2.6 1.4l-3.4 .1z" fill="#00ea8a"/><path d="M389.7 461l3.5 2.3l-2.7 .1l-3.4-1.6z" fill="#0029ea"/><path d="M297.7 440.1l3.4-.1l-2.6-1.1l-3.4-.3z" fill="#00f187"/><path d="M368.2 453.3l3.5 2.5l-2.7 3.1l-3.4-1.6z" fill="#0073c6"/><path d="M276.2 444.3l3.4-5.1l-2.6-2l-3.4 3z" fill="#00c99a"/><path d="M346.7 451.3l3.5 3.3l-2.7-.1l-3.4-3.3z" fill="#0087bc"/><path d="M417.3 454l3.4-3.6l-2.6 1.6l-3.4 3.6z" fill="#006ec8"/><path d="M325.2 440.3l3.5 .6l-2.7-.4l-3.4-.7z" fill="#00f187"/><path d="M395.8 463.2l3.4 1.1l-2.6-.3l-3.4-.7z" fill="#0016f4"/><path d="M303.7 441.8l3.5 .2l-2.7-.6l-3.4-1.4z" fill="#00e48d"/><path d="M374.3 452.9l3.4 3.8l-2.6 2.1l-3.4-3z" fill="#0079c2"/><path d="M282.2 441.4l3.5-2.6l-2.7-2l-3.4 2.4z" fill="#00e88b"/><path d="M352.8 453.9l3.4 2.9l-2.6 .9l-3.4-3.1z" fill="#0070c7"/><path d="M423.3 449.4l3.4-2.8l-2.6 1l-3.4 2.8z" fill="#009db0"/><path d="M331.3 442.5l3.4 1.9l-2.6-.8l-3.4-2.7z" fill="#00df90"/><path d="M401.8 464.5l3.4-1.1l-2.6 .1l-3.4 .8z" fill="#000df9"/><path d="M309.8 442.9l3.4-.8l-2.6 .3l-3.4-.4z" fill="#00dc91"/><path d="M380.3 454.6l3.4 4.1l-2.6 1.5l-3.4-3.5z" fill="#006cc9"/><path d="M288.3 441l3.4-1.6l-2.6-1.8l-3.4 1.2z" fill="#00ef88"/><path d="M358.8 454.4l3.4 1.5l-2.6 3.1l-3.4-2.2z" fill="#006fc8"/><path d="M429.3 446.2l3.4-2.3l-2.6 .5l-3.4 2.2z" fill="#00bea0"/><path d="M337.3 445.5l3.4 2.5l-2.6-.6l-3.4-3z" fill="#00c59d"/><path d="M407.8 462.7l3.4-3.2l-2.6 1.1l-3.4 2.8z" fill="#0021ee"/><path d="M315.8 442.2l3.4-1.5l-2.6 .6l-3.4 .8z" fill="#00e58d"/><path d="M386.3 457.4l3.4 3.6l-2.6 .8l-3.4-3.1z" fill="#0055d5"/><path d="M294.3 441l3.4-.9l-2.6-1.5l-3.4 .8z" fill="#00f187"/><path d="M364.8 451.9l3.4 1.4l-2.6 4l-3.4-1.4z" fill="#008aba"/><path d="M435.3 443.8l3.5-2.3l-2.6 .3l-3.5 2.1z" fill="#00d893"/><path d="M343.3 448.4l3.4 2.9l-2.6-.1l-3.4-3.2z" fill="#00aca9"/><path d="M413.8 458.3l3.5-4.3l-2.6 1.6l-3.5 3.9z" fill="#004ed8"/><path d="M321.8 441.4l3.4-1.1l-2.6-.5l-3.4 .9z" fill="#00f087"/><path d="M392.3 460.4l3.5 2.8l-2.6 .1l-3.5-2.3z" fill="#003ae2"/><path d="M300.3 442.1l3.4-.3l-2.6-1.8l-3.4 .1z" fill="#00ea8a"/><path d="M370.8 449.9l3.5 3l-2.6 2.9l-3.5-2.5z" fill="#00a0af"/><path d="M278.8 446.3l3.4-4.9l-2.6-2.2l-3.4 5.1z" fill="#00c29e"/><path d="M349.3 450.9l3.5 3l-2.6 .7l-3.5-3.3z" fill="#0097b4"/><path d="M419.9 453l3.4-3.6l-2.6 1l-3.4 3.6z" fill="#0084bd"/><path d="M327.8 442.1l3.5 .4l-2.6-1.6l-3.5-.6z" fill="#00eb89"/><path d="M398.4 463.1l3.4 1.4l-2.6-.2l-3.4-1.1z" fill="#0023ed"/><path d="M306.3 443.5l3.5-.6l-2.6-.9l-3.5-.2z" fill="#00df90"/><path d="M376.9 450.7l3.4 3.9l-2.6 2.1l-3.4-3.8z" fill="#009bb1"/><path d="M284.8 443.8l3.5-2.8l-2.6-2.2l-3.5 2.6z" fill="#00dd90"/><path d="M355.4 452.2l3.4 2.2l-2.6 2.4l-3.4-2.9z" fill="#008db8"/><path d="M425.9 449.5l3.4-3.3l-2.6 .4l-3.4 2.8z" fill="#00a8ab"/><path d="M333.9 444.2l3.4 1.3l-2.6-1.1l-3.4-1.9z" fill="#00db92"/><path d="M404.4 464l3.4-1.3l-2.6 .7l-3.4 1.1z" fill="#001ef0"/><path d="M312.4 443.9l3.4-1.7l-2.6-.1l-3.4 .8z" fill="#00de90"/><path d="M382.9 453.1l3.4 4.3l-2.6 1.3l-3.4-4.1z" fill="#0087bc"/><path d="M290.9 442.6l3.4-1.6l-2.6-1.6l-3.4 1.6z" fill="#00eb8a"/><path d="M361.4 450.7l3.4 1.2l-2.6 4l-3.4-1.5z" fill="#009eb0"/><path d="M431.9 446.4l3.4-2.6l-2.6 .1l-3.4 2.3z" fill="#00c99b"/><path d="M339.9 446.3l3.4 2.1l-2.6-.4l-3.4-2.5z" fill="#00c99b"/><path d="M410.4 461.4l3.4-3.1l-2.6 1.2l-3.4 3.2z" fill="#0039e2"/><path d="M318.4 443l3.4-1.6l-2.6-.7l-3.4 1.5z" fill="#00e98a"/><path d="M388.9 456.5l3.4 3.9l-2.6 .6l-3.4-3.6z" fill="#0069cb"/><path d="M296.9 442.8l3.4-.7l-2.6-2l-3.4 .9z" fill="#00ec89"/><path d="M367.4 448l3.4 1.9l-2.6 3.4l-3.4-1.4z" fill="#00bba2"/><path d="M437.9 444l3.5-2.8l-2.6 .3l-3.5 2.3z" fill="#00e28e"/><path d="M345.9 448.4l3.4 2.5l-2.6 .4l-3.4-2.9z" fill="#00b8a3"/><path d="M416.4 457.8l3.5-4.8l-2.6 1l-3.5 4.3z" fill="#005ed0"/><path d="M324.4 443l3.4-.9l-2.6-1.8l-3.4 1.1z" fill="#00ec89"/><path d="M394.9 459.9l3.5 3.2l-2.6 .1l-3.5-2.8z" fill="#004bd9"/><path d="M302.9 444.1l3.4-.6l-2.6-1.7l-3.4 .3z" fill="#00e38e"/><path d="M373.4 447.5l3.5 3.2l-2.6 2.2l-3.5-3z" fill="#00c39e"/><path d="M281.4 447.7l3.4-3.9l-2.6-2.4l-3.4 4.9z" fill="#00c09f"/><path d="M351.9 449.8l3.5 2.4l-2.6 1.7l-3.5-3z" fill="#00ada8"/><path d="M422.5 453.8l3.4-4.3l-2.6-.1l-3.4 3.6z" fill="#0088bb"/><path d="M330.4 444.2l3.5 0l-2.6-1.7l-3.5-.4z" fill="#00e48d"/><path d="M401 462.3l3.4 1.7l-2.6 .5l-3.4-1.4z" fill="#0037e4"/><path d="M308.9 445.1l3.5-1.2l-2.6-1l-3.5 .6z" fill="#00dc91"/><path d="M379.5 449.1l3.4 4l-2.6 1.5l-3.4-3.9z" fill="#00b6a4"/><path d="M287.4 445.1l3.5-2.5l-2.6-1.6l-3.5 2.8z" fill="#00dc91"/><path d="M358 449.5l3.4 1.2l-2.6 3.7l-3.4-2.2z" fill="#00b3a5"/><path d="M428.5 449.9l3.4-3.5l-2.6-.2l-3.4 3.3z" fill="#00b0a7"/><path d="M336.5 445.5l3.4 .8l-2.6-.8l-3.4-1.3z" fill="#00da92"/><path d="M407 462.2l3.4-.8l-2.6 1.3l-3.4 1.3z" fill="#003be2"/><path d="M315 444.8l3.4-1.8l-2.6-.8l-3.4 1.7z" fill="#00e18e"/><path d="M385.5 452.3l3.4 4.2l-2.6 .9l-3.4-4.3z" fill="#009ab2"/><path d="M293.5 443.9l3.4-1.1l-2.6-1.8l-3.4 1.6z" fill="#00ea8a"/><path d="M364 447.2l3.4 .8l-2.6 3.9l-3.4-1.2z" fill="#00cc99"/><path d="M434.5 447l3.4-3l-2.6-.2l-3.4 2.6z" fill="#00ce98"/><path d="M342.5 446.8l3.4 1.6l-2.6 0l-3.4-2.1z" fill="#00d197"/><path d="M413 460.6l3.4-2.8l-2.6 .5l-3.4 3.1z" fill="#004dd9"/><path d="M321 444.5l3.4-1.5l-2.6-1.6l-3.4 1.6z" fill="#00e78c"/><path d="M391.5 456l3.4 3.9l-2.6 .5l-3.4-3.9z" fill="#007ac2"/><path d="M299.5 444.6l3.4-.5l-2.6-2l-3.4 .7z" fill="#00e78c"/><path d="M370 445.6l3.4 1.9l-2.6 2.4l-3.4-1.9z" fill="#00de90"/><path d="M440.6 444.5l3.4-3.4l-2.6 .1l-3.5 2.8z" fill="#00ea8a"/><path d="M348.5 448.1l3.4 1.7l-2.6 1.1l-3.4-2.5z" fill="#00c79b"/><path d="M419.1 458.6l3.4-4.8l-2.6-.8l-3.5 4.8z" fill="#0063cd"/><path d="M327 445.3l3.4-1.1l-2.6-2.1l-3.4 .9z" fill="#00e28e"/><path d="M397.6 459l3.4 3.3l-2.6 .8l-3.5-3.2z" fill="#0060cf"/><path d="M305.5 445.6l3.4-.5l-2.6-1.6l-3.4 .6z" fill="#00e08f"/><path d="M376.1 446.3l3.4 2.8l-2.6 1.6l-3.5-3.2z" fill="#00da92"/><path d="M284 448.5l3.4-3.4l-2.6-1.3l-3.4 3.9z" fill="#00c59c"/><path d="M354.6 448.2l3.4 1.3l-2.6 2.7l-3.5-2.4z" fill="#00c89b"/><path d="M425.1 454.3l3.4-4.4l-2.6-.4l-3.4 4.3z" fill="#008fb7"/><path d="M333.1 446.1l3.4-.6l-2.6-1.3l-3.5 0z" fill="#00de90"/><path d="M403.6 460.5l3.4 1.7l-2.6 1.8l-3.4-1.7z" fill="#0054d5"/><path d="M311.6 446.1l3.4-1.3l-2.6-.9l-3.5 1.2z" fill="#00de90"/><path d="M382.1 448.6l3.4 3.7l-2.6 .8l-3.4-4z" fill="#00c89b"/><path d="M290.1 445.7l3.4-1.8l-2.6-1.3l-3.5 2.5z" fill="#00e28e"/><path d="M360.6 447.1l3.4 .1l-2.6 3.5l-3.4-1.2z" fill="#00d694"/><path d="M431.1 450.6l3.4-3.6l-2.6-.6l-3.4 3.5z" fill="#00b6a4"/><path d="M339.1 446.3l3.4 .5l-2.6-.5l-3.4-.8z" fill="#00de90"/><path d="M409.6 460.5l3.4 .1l-2.6 .8l-3.4 .8z" fill="#0057d4"/><path d="M317.6 446.1l3.4-1.6l-2.6-1.5l-3.4 1.8z" fill="#00e18f"/><path d="M388.1 452.2l3.4 3.8l-2.6 .5l-3.4-4.2z" fill="#00a8ab"/><path d="M296.1 445.3l3.4-.7l-2.6-1.8l-3.4 1.1z" fill="#00e98a"/><path d="M366.6 445.3l3.4 .3l-2.6 2.4l-3.4-.8z" fill="#00ea8a"/><path d="M437.1 447.8l3.5-3.3l-2.7-.5l-3.4 3z" fill="#00d395"/><path d="M345.1 447.1l3.4 1l-2.6 .3l-3.4-1.6z" fill="#00da92"/><path d="M415.6 460.3l3.5-1.7l-2.7-.8l-3.4 2.8z" fill="#005cd1"/><path d="M323.6 446.8l3.4-1.5l-2.6-2.3l-3.4 1.5z" fill="#00dd90"/><path d="M394.1 455.4l3.5 3.6l-2.7 .9l-3.4-3.9z" fill="#008cb9"/><path d="M302.1 446.1l3.4-.5l-2.6-1.5l-3.4 .5z" fill="#00e58d"/><path d="M372.6 445.1l3.5 1.2l-2.7 1.2l-3.4-1.9z" fill="#00ef88"/><path d="M443.2 445.3l3.4-3.9l-2.6-.3l-3.4 3.4z" fill="#00ee88"/><path d="M351.1 447.6l3.5 .6l-2.7 1.6l-3.4-1.7z" fill="#00d893"/><path d="M421.7 458.1l3.4-3.8l-2.6-.5l-3.4 4.8z" fill="#0074c5"/><path d="M329.6 447.7l3.5-1.6l-2.7-1.9l-3.4 1.1z" fill="#00d893"/><path d="M400.2 457.4l3.4 3.1l-2.6 1.8l-3.4-3.3z" fill="#007bc2"/><path d="M308.1 446.9l3.5-.8l-2.7-1l-3.4 .5z" fill="#00e08f"/><path d="M378.7 446.2l3.4 2.4l-2.6 .5l-3.4-2.8z" fill="#00e78b"/><path d="M286.6 448.8l3.5-3.1l-2.7-.6l-3.4 3.4z" fill="#00ce98"/><path d="M357.2 447l3.4 .1l-2.6 2.4l-3.4-1.3z" fill="#00e08f"/><path d="M427.7 454.2l3.4-3.6l-2.6-.7l-3.4 4.4z" fill="#009cb1"/><path d="M335.7 447.5l3.4-1.2l-2.6-.8l-3.4 .6z" fill="#00dd91"/><path d="M406.2 458.5l3.4 2l-2.6 1.7l-3.4-1.7z" fill="#0073c5"/><path d="M314.2 447.4l3.4-1.3l-2.6-1.3l-3.4 1.3z" fill="#00de90"/><path d="M384.7 449.1l3.4 3.1l-2.6 .1l-3.4-3.7z" fill="#00ce98"/><path d="M292.7 446.6l3.4-1.3l-2.6-1.4l-3.4 1.8z" fill="#00e68c"/><path d="M363.2 446.1l3.4-.8l-2.6 1.9l-3.4-.1z" fill="#00ec89"/><path d="M433.7 451.1l3.4-3.3l-2.6-.8l-3.4 3.6z" fill="#00bda1"/><path d="M341.7 447.1l3.4 0l-2.6-.3l-3.4-.5z" fill="#00e38e"/><path d="M412.2 459l3.4 1.3l-2.6 .3l-3.4-.1z" fill="#0072c6"/><path d="M320.2 448.2l3.4-1.4l-2.6-2.3l-3.4 1.6z" fill="#00d993"/><path d="M390.7 452.3l3.4 3.1l-2.6 .6l-3.4-3.8z" fill="#00b3a6"/><path d="M298.7 446.7l3.4-.6l-2.6-1.5l-3.4 .7z" fill="#00e88b"/><path d="M369.2 445.5l3.4-.4l-2.6 .5l-3.4-.3z" fill="#00f485"/><path d="M439.7 448.7l3.5-3.4l-2.6-.8l-3.5 3.3z" fill="#00d794"/><path d="M347.7 447.7l3.4-.1l-2.6 .5l-3.4-1z" fill="#00e08f"/><path d="M418.2 458.8l3.5-.7l-2.6 .5l-3.5 1.7z" fill="#0077c4"/><path d="M326.2 449.4l3.4-1.7l-2.6-2.4l-3.4 1.5z" fill="#00d097"/><path d="M396.7 454.4l3.5 3l-2.6 1.6l-3.5-3.6z" fill="#00a1ae"/><path d="M304.7 447.4l3.4-.5l-2.6-1.3l-3.4 .5z" fill="#00e48d"/><path d="M375.2 445.9l3.5 .3l-2.6 .1l-3.5-1.2z" fill="#00f385"/><path d="M445.8 447l3.4-4.2l-2.6-1.4l-3.4 3.9z" fill="#00e98a"/><path d="M353.7 447.6l3.5-.6l-2.6 1.2l-3.5-.6z" fill="#00e48d"/><path d="M424.3 456.5l3.4-2.3l-2.6 .1l-3.4 3.8z" fill="#0090b7"/><path d="M332.2 449.7l3.5-2.2l-2.6-1.4l-3.5 1.6z" fill="#00d097"/><path d="M402.8 455.7l3.4 2.8l-2.6 2l-3.4-3.1z" fill="#0097b3"/><path d="M310.7 448l3.5-.6l-2.6-1.3l-3.5 .8z" fill="#00e18f"/><path d="M381.3 447.5l3.4 1.6l-2.6-.5l-3.4-2.4z" fill="#00e78b"/><path d="M289.2 448.8l3.5-2.2l-2.6-.9l-3.5 3.1z" fill="#00da92"/><path d="M359.8 447l3.4-.9l-2.6 1l-3.4-.1z" fill="#00ec89"/><path d="M430.3 454l3.4-2.9l-2.6-.5l-3.4 3.6z" fill="#00aaaa"/><path d="M338.3 448.6l3.4-1.5l-2.6-.8l-3.4 1.2z" fill="#00dd90"/><path d="M408.8 456.7l3.4 2.3l-2.6 1.5l-3.4-2z" fill="#0091b7"/><path d="M316.8 449.1l3.4-.9l-2.6-2.1l-3.4 1.3z" fill="#00d992"/><path d="M387.3 450.1l3.4 2.2l-2.6-.1l-3.4-3.1z" fill="#00d097"/><path d="M295.3 447.7l3.4-1l-2.6-1.4l-3.4 1.3z" fill="#00e78b"/><path d="M365.8 446.7l3.4-1.2l-2.6-.2l-3.4 .8z" fill="#00f286"/><path d="M436.3 451.6l3.4-2.9l-2.6-.9l-3.4 3.3z" fill="#00c49d"/><path d="M344.3 448.4l3.4-.7l-2.6-.6l-3.4 0z" fill="#00e28e"/><path d="M414.8 456.9l3.4 1.9l-2.6 1.5l-3.4-1.3z" fill="#0092b6"/><path d="M322.8 450.8l3.4-1.4l-2.6-2.6l-3.4 1.4z" fill="#00cc99"/><path d="M393.3 452.2l3.4 2.2l-2.6 1l-3.4-3.1z" fill="#00c09f"/><path d="M301.3 448l3.4-.6l-2.6-1.3l-3.4 .6z" fill="#00e78b"/><path d="M371.8 446.9l3.4-1l-2.6-.8l-3.4 .4z" fill="#00f386"/><path d="M442.3 450.3l3.5-3.3l-2.6-1.7l-3.5 3.4z" fill="#00d395"/><path d="M350.3 448.6l3.4-1l-2.6 0l-3.4 .1z" fill="#00e38d"/><path d="M420.8 456.5l3.5 0l-2.6 1.6l-3.5 .7z" fill="#0099b3"/><path d="M328.8 452l3.4-2.3l-2.6-2l-3.4 1.7z" fill="#00c39d"/><path d="M399.3 453.2l3.5 2.5l-2.6 1.7l-3.5-3z" fill="#00b8a3"/><path d="M307.3 448.5l3.4-.5l-2.6-1.1l-3.4 .5z" fill="#00e68c"/><path d="M377.8 447.6l3.5-.1l-2.6-1.3l-3.5-.3z" fill="#00f087"/><path d="M448.4 449.2l3.4-5.1l-2.6-1.3l-3.4 4.2z" fill="#00e08f"/><path d="M356.3 448.3l3.5-1.3l-2.6 0l-3.5 .6z" fill="#00e98a"/><path d="M426.9 455.5l3.4-1.5l-2.6 .2l-3.4 2.3z" fill="#00a5ac"/><path d="M334.8 451.3l3.5-2.7l-2.6-1.1l-3.5 2.2z" fill="#00cd99"/><path d="M405.4 454.4l3.4 2.3l-2.6 1.8l-3.4-2.8z" fill="#00b0a7"/><path d="M313.3 449.5l3.5-.4l-2.6-1.7l-3.5 .6z" fill="#00df90"/><path d="M383.9 449.2l3.4 .9l-2.6-1l-3.4-1.6z" fill="#00e28e"/><path d="M291.8 449.4l3.5-1.7l-2.6-1.1l-3.5 2.2z" fill="#00e18f"/><path d="M362.4 448l3.4-1.3l-2.6-.6l-3.4 .9z" fill="#00ef88"/><path d="M432.9 454l3.4-2.4l-2.6-.5l-3.4 2.9z" fill="#00b6a4"/><path d="M340.9 450.1l3.4-1.7l-2.6-1.3l-3.4 1.5z" fill="#00dc91"/><path d="M411.4 455l3.4 1.9l-2.6 2.1l-3.4-2.3z" fill="#00ada9"/><path d="M319.4 451.4l3.4-.6l-2.6-2.6l-3.4 .9z" fill="#00cf97"/><path d="M389.9 451.1l3.4 1.1l-2.6 .1l-3.4-2.2z" fill="#00d395"/><path d="M297.9 449l3.4-1l-2.6-1.3l-3.4 1z" fill="#00e78c"/><path d="M368.4 448.5l3.4-1.6l-2.6-1.4l-3.4 1.2z" fill="#00ed88"/><path d="M438.9 452.6l3.4-2.3l-2.6-1.6l-3.4 2.9z" fill="#00c69c"/><path d="M346.9 450l3.4-1.4l-2.6-.9l-3.4 .7z" fill="#00df8f"/><path d="M417.4 454.8l3.4 1.7l-2.6 2.3l-3.4-1.9z" fill="#00b2a6"/><path d="M325.4 453.5l3.4-1.5l-2.6-2.6l-3.4 1.4z" fill="#00bea0"/><path d="M395.9 451.9l3.4 1.3l-2.6 1.2l-3.4-2.2z" fill="#00cf98"/><path d="M303.9 449.1l3.4-.6l-2.6-1.1l-3.4 .6z" fill="#00e98b"/><path d="M374.4 448.8l3.4-1.2l-2.6-1.7l-3.4 1z" fill="#00ed89"/><path d="M445 453l3.4-3.8l-2.6-2.2l-3.5 3.3z" fill="#00c59c"/><path d="M352.9 449.9l3.4-1.6l-2.6-.7l-3.4 1z" fill="#00e38e"/><path d="M423.5 455.4l3.4 .1l-2.6 1l-3.5 0z" fill="#00afa8"/><path d="M331.4 454.2l3.4-2.9l-2.6-1.6l-3.4 2.3z" fill="#00bba2"/><path d="M402 452.5l3.4 1.9l-2.6 1.3l-3.5-2.5z" fill="#00cc99"/><path d="M309.9 449.6l3.4-.1l-2.6-1.5l-3.4 .5z" fill="#00e78c"/><path d="M380.5 449.5l3.4-.3l-2.6-1.7l-3.5 .1z" fill="#00e98b"/><path d="M451 451.3l3.4-6l-2.6-1.2l-3.4 5.1z" fill="#00d893"/><path d="M359 449.4l3.4-1.4l-2.6-1l-3.5 1.3z" fill="#00ea8a"/><path d="M429.5 455.3l3.4-1.3l-2.6 0l-3.4 1.5z" fill="#00b3a6"/><path d="M337.5 452.6l3.4-2.5l-2.6-1.5l-3.5 2.7z" fill="#00cc99"/><path d="M408 453.7l3.4 1.3l-2.6 1.7l-3.4-2.3z" fill="#00c39e"/><path d="M316 451.3l3.4 .1l-2.6-2.3l-3.5 .4z" fill="#00d992"/><path d="M386.5 450.9l3.4 .2l-2.6-1l-3.4-.9z" fill="#00de90"/><path d="M294.5 450.3l3.4-1.3l-2.6-1.3l-3.5 1.7z" fill="#00e48d"/><path d="M365 449.7l3.4-1.2l-2.6-1.8l-3.4 1.3z" fill="#00ea8a"/><path d="M435.5 454.7l3.4-2.1l-2.6-1l-3.4 2.4z" fill="#00bba2"/><path d="M343.5 451.6l3.4-1.6l-2.6-1.6l-3.4 1.7z" fill="#00d992"/><path d="M414 453.9l3.4 .9l-2.6 2.1l-3.4-1.9z" fill="#00c39d"/><path d="M322 454l3.4-.5l-2.6-2.7l-3.4 .6z" fill="#00c29e"/><path d="M392.5 451.8l3.4 .1l-2.6 .3l-3.4-1.1z" fill="#00d893"/><path d="M300.5 450.1l3.4-1l-2.6-1.1l-3.4 1z" fill="#00e88b"/><path d="M371 450.4l3.4-1.6l-2.6-1.9l-3.4 1.6z" fill="#00e78c"/><path d="M441.5 454.9l3.5-1.9l-2.7-2.7l-3.4 2.3z" fill="#00bca1"/><path d="M349.5 451.7l3.4-1.8l-2.6-1.3l-3.4 1.4z" fill="#00db92"/><path d="M420 454.5l3.5 .9l-2.7 1.1l-3.4-1.7z" fill="#00c19f"/><path d="M328 456.2l3.4-2l-2.6-2.2l-3.4 1.5z" fill="#00b0a7"/><path d="M398.5 451.8l3.5 .7l-2.7 .7l-3.4-1.3z" fill="#00db92"/><path d="M306.5 450l3.4-.4l-2.6-1.1l-3.4 .6z" fill="#00ec89"/><path d="M377 450.6l3.5-1.1l-2.7-1.9l-3.4 1.2z" fill="#00e88b"/><path d="M447.6 455.6l3.4-4.3l-2.6-2.1l-3.4 3.8z" fill="#00b8a3"/><path d="M355.5 451.2l3.5-1.8l-2.7-1.1l-3.4 1.6z" fill="#00e38e"/><path d="M426.1 455.5l3.4-.2l-2.6 .2l-3.4-.1z" fill="#00baa2"/><path d="M334 455.7l3.5-3.1l-2.7-1.3l-3.4 2.9z" fill="#00b8a3"/><path d="M404.6 452.9l3.4 .8l-2.6 .7l-3.4-1.9z" fill="#00d395"/><path d="M312.5 451l3.5 .3l-2.7-1.8l-3.4 .1z" fill="#00e68c"/><path d="M383.1 451.4l3.4-.5l-2.6-1.7l-3.4 .3z" fill="#00e38e"/><path d="M361.6 450.9l3.4-1.2l-2.6-1.7l-3.4 1.4z" fill="#00e88b"/><path d="M432.1 456l3.4-1.3l-2.6-.7l-3.4 1.3z" fill="#00b8a3"/><path d="M340.1 453.7l3.4-2.1l-2.6-1.5l-3.4 2.5z" fill="#00ce98"/><path d="M410.6 453.9l3.4 0l-2.6 1.1l-3.4-1.3z" fill="#00cd99"/><path d="M318.6 453.7l3.4 .3l-2.6-2.6l-3.4-.1z" fill="#00cf98"/><path d="M389.1 452.5l3.4-.7l-2.6-.7l-3.4-.2z" fill="#00db91"/><path d="M297.1 451.3l3.4-1.2l-2.6-1.1l-3.4 1.3z" fill="#00e78c"/><path d="M367.6 451.5l3.4-1.1l-2.6-1.9l-3.4 1.2z" fill="#00e58c"/><path d="M438.1 456.4l3.4-1.5l-2.6-2.3l-3.4 2.1z" fill="#00b7a3"/><path d="M346.1 453.2l3.4-1.5l-2.6-1.7l-3.4 1.6z" fill="#00d594"/><path d="M416.6 454.3l3.4 .2l-2.6 .3l-3.4-.9z" fill="#00cb99"/><path d="M324.6 456.8l3.4-.6l-2.6-2.7l-3.4 .5z" fill="#00b4a5"/><path d="M395.1 452.6l3.4-.8l-2.6 .1l-3.4-.1z" fill="#00dd90"/><path d="M303.1 451.1l3.4-1.1l-2.6-.9l-3.4 1z" fill="#00eb89"/><path d="M373.6 451.9l3.4-1.3l-2.6-1.8l-3.4 1.6z" fill="#00e48d"/><path d="M444.1 457.1l3.5-1.5l-2.6-2.6l-3.5 1.9z" fill="#00b3a6"/><path d="M352.1 453.1l3.4-1.9l-2.6-1.3l-3.4 1.8z" fill="#00da92"/><path d="M422.6 455.2l3.5 .3l-2.6-.1l-3.5-.9z" fill="#00c69c"/><path d="M330.6 458.2l3.4-2.5l-2.6-1.5l-3.4 2z" fill="#00a9ab"/><path d="M401.1 453l3.5-.1l-2.6-.4l-3.5-.7z" fill="#00dc91"/><path d="M309.1 451l3.4 0l-2.6-1.4l-3.4 .4z" fill="#00ee88"/><path d="M379.6 452.3l3.5-.9l-2.6-1.9l-3.5 1.1z" fill="#00e38d"/><path d="M358.1 452.5l3.5-1.6l-2.6-1.5l-3.5 1.8z" fill="#00e28e"/><path d="M428.7 456.2l3.4-.2l-2.6-.7l-3.4 .2z" fill="#00bf9f"/><path d="M336.6 456.5l3.5-2.8l-2.6-1.1l-3.5 3.1z" fill="#00bca1"/><path d="M407.2 454.4l3.4-.5l-2.6-.2l-3.4-.8z" fill="#00d196"/><path d="M315.1 453.1l3.5 .6l-2.6-2.4l-3.5-.3z" fill="#00de90"/><path d="M385.7 453.1l3.4-.6l-2.6-1.6l-3.4 .5z" fill="#00de90"/><path d="M364.2 452.6l3.4-1.1l-2.6-1.8l-3.4 1.2z" fill="#00e48d"/><path d="M434.7 457.2l3.4-.8l-2.6-1.7l-3.4 1.3z" fill="#00b8a3"/><path d="M342.7 455.1l3.4-1.9l-2.6-1.6l-3.4 2.1z" fill="#00cd99"/><path d="M413.2 455.2l3.4-.9l-2.6-.4l-3.4 0z" fill="#00cc99"/><path d="M321.2 456.4l3.4 .4l-2.6-2.8l-3.4-.3z" fill="#00c19f"/><path d="M391.7 453.7l3.4-1.1l-2.6-.8l-3.4 .7z" fill="#00dc91"/><path d="M299.7 452.6l3.4-1.5l-2.6-1l-3.4 1.2z" fill="#00e68c"/><path d="M370.2 453.1l3.4-1.2l-2.6-1.5l-3.4 1.1z" fill="#00e28e"/><path d="M440.7 458l3.4-.9l-2.6-2.2l-3.4 1.5z" fill="#00b4a5"/><path d="M348.7 454.9l3.4-1.8l-2.6-1.4l-3.4 1.5z" fill="#00d196"/><path d="M419.2 455.4l3.4-.2l-2.6-.7l-3.4-.2z" fill="#00cd99"/><path d="M327.2 459.1l3.4-.9l-2.6-2l-3.4 .6z" fill="#00aaaa"/><path d="M397.7 453.9l3.4-.9l-2.6-1.2l-3.4 .8z" fill="#00dd91"/><path d="M305.7 452.4l3.4-1.4l-2.6-1l-3.4 1.1z" fill="#00eb8a"/><path d="M376.2 453.4l3.4-1.1l-2.6-1.7l-3.4 1.3z" fill="#00e28e"/><path d="M354.7 454.4l3.4-1.9l-2.6-1.3l-3.4 1.9z" fill="#00d993"/><path d="M425.2 456l3.5 .2l-2.6-.7l-3.5-.3z" fill="#00ca9a"/><path d="M333.2 459.3l3.4-2.8l-2.6-.8l-3.4 2.5z" fill="#00abaa"/><path d="M403.7 455.3l3.5-.9l-2.6-1.5l-3.5 .1z" fill="#00d296"/><path d="M311.7 452.8l3.4 .3l-2.6-2.1l-3.4 0z" fill="#00e98a"/><path d="M382.2 454l3.5-.9l-2.6-1.7l-3.5 .9z" fill="#00df8f"/><path d="M360.7 454.1l3.5-1.5l-2.6-1.7l-3.5 1.6z" fill="#00df90"/><path d="M431.3 457.3l3.4-.1l-2.6-1.2l-3.4 .2z" fill="#00c19f"/><path d="M339.2 457.7l3.5-2.6l-2.6-1.4l-3.5 2.8z" fill="#00bda1"/><path d="M409.8 456.8l3.4-1.6l-2.6-1.3l-3.4 .5z" fill="#00c69c"/><path d="M317.7 455.8l3.5 .6l-2.6-2.7l-3.5-.6z" fill="#00d097"/><path d="M388.3 454.6l3.4-.9l-2.6-1.2l-3.4 .6z" fill="#00dc91"/><path d="M366.8 454.3l3.4-1.2l-2.6-1.6l-3.4 1.1z" fill="#00e08f"/><path d="M437.3 458.5l3.4-.5l-2.6-1.6l-3.4 .8z" fill="#00b8a3"/><path d="M345.3 457l3.4-2.1l-2.6-1.7l-3.4 1.9z" fill="#00c79c"/><path d="M415.8 456.8l3.4-1.4l-2.6-1.1l-3.4 .9z" fill="#00c99a"/><path d="M323.8 459l3.4 .1l-2.6-2.3l-3.4-.4z" fill="#00b4a5"/><path d="M394.3 455.1l3.4-1.2l-2.6-1.3l-3.4 1.1z" fill="#00da92"/><path d="M302.3 454.5l3.4-2.1l-2.6-1.3l-3.4 1.5z" fill="#00df8f"/><path d="M372.8 454.6l3.4-1.2l-2.6-1.5l-3.4 1.2z" fill="#00e08f"/><path d="M351.3 456.5l3.4-2.1l-2.6-1.3l-3.4 1.8z" fill="#00ce98"/><path d="M421.8 456.1l3.4-.1l-2.6-.8l-3.4 .2z" fill="#00d296"/><path d="M329.8 460.9l3.4-1.6l-2.6-1.1l-3.4 .9z" fill="#00a4ad"/><path d="M400.3 456.1l3.4-.8l-2.6-2.3l-3.4 .9z" fill="#00d395"/><path d="M308.3 454.3l3.4-1.5l-2.6-1.8l-3.4 1.4z" fill="#00e48d"/><path d="M378.8 455l3.4-1l-2.6-1.7l-3.4 1.1z" fill="#00df90"/><path d="M357.3 455.9l3.4-1.8l-2.6-1.6l-3.4 1.9z" fill="#00d694"/><path d="M427.9 456.7l3.4 .6l-2.6-1.1l-3.5-.2z" fill="#00d097"/><path d="M335.8 460.5l3.4-2.8l-2.6-1.2l-3.4 2.8z" fill="#00abaa"/><path d="M406.4 458.5l3.4-1.7l-2.6-2.4l-3.5 .9z" fill="#00bfa0"/><path d="M314.3 455.8l3.4 0l-2.6-2.7l-3.4-.3z" fill="#00d893"/><path d="M384.9 455.6l3.4-1l-2.6-1.5l-3.5 .9z" fill="#00dc91"/><path d="M363.4 455.7l3.4-1.4l-2.6-1.7l-3.5 1.5z" fill="#00db91"/><path d="M433.9 458.4l3.4 .1l-2.6-1.3l-3.4 .1z" fill="#00c39e"/><path d="M341.9 459.5l3.4-2.5l-2.6-1.9l-3.5 2.6z" fill="#00b8a3"/><path d="M412.4 459.3l3.4-2.5l-2.6-1.6l-3.4 1.6z" fill="#00baa2"/><path d="M320.4 458.6l3.4 .4l-2.6-2.6l-3.5-.6z" fill="#00c09f"/><path d="M390.9 456.3l3.4-1.2l-2.6-1.4l-3.4 .9z" fill="#00d893"/><path d="M369.4 455.8l3.4-1.2l-2.6-1.5l-3.4 1.2z" fill="#00dd90"/><path d="M347.9 458.7l3.4-2.2l-2.6-1.6l-3.4 2.1z" fill="#00c29e"/><path d="M418.4 457.2l3.4-1.1l-2.6-.7l-3.4 1.4z" fill="#00d196"/><path d="M326.4 461.4l3.4-.5l-2.6-1.8l-3.4-.1z" fill="#00a8ab"/><path d="M396.9 457.1l3.4-1l-2.6-2.2l-3.4 1.2z" fill="#00d396"/><path d="M304.9 456.7l3.4-2.4l-2.6-1.9l-3.4 2.1z" fill="#00d794"/><path d="M375.4 456.1l3.4-1.1l-2.6-1.6l-3.4 1.2z" fill="#00dd90"/><path d="M353.9 458l3.4-2.1l-2.6-1.5l-3.4 2.1z" fill="#00cb99"/><path d="M424.4 456.3l3.5 .4l-2.7-.7l-3.4 .1z" fill="#00dd90"/><path d="M332.4 462.6l3.4-2.1l-2.6-1.2l-3.4 1.6z" fill="#00a0af"/><path d="M402.9 459.1l3.5-.6l-2.7-3.2l-3.4 .8z" fill="#00c29e"/><path d="M310.9 457.1l3.4-1.3l-2.6-3l-3.4 1.5z" fill="#00d594"/><path d="M381.4 456.6l3.5-1l-2.7-1.6l-3.4 1z" fill="#00db91"/><path d="M359.9 457.4l3.5-1.7l-2.7-1.6l-3.4 1.8z" fill="#00d495"/><path d="M430.5 457.2l3.4 1.2l-2.6-1.1l-3.4-.6z" fill="#00d794"/><path d="M338.4 462.1l3.5-2.6l-2.7-1.8l-3.4 2.8z" fill="#00a8ab"/><path d="M409 461.4l3.4-2.1l-2.6-2.5l-3.4 1.7z" fill="#00b0a7"/><path d="M316.9 458.8l3.5-.2l-2.7-2.8l-3.4 0z" fill="#00c89b"/><path d="M387.5 457.4l3.4-1.1l-2.6-1.7l-3.4 1z" fill="#00d794"/><path d="M366 457.2l3.4-1.4l-2.6-1.5l-3.4 1.4z" fill="#00d993"/><path d="M344.5 461.2l3.4-2.5l-2.6-1.7l-3.4 2.5z" fill="#00b3a5"/><path d="M415 459.2l3.4-2l-2.6-.4l-3.4 2.5z" fill="#00c79b"/><path d="M323 461.4l3.4 0l-2.6-2.4l-3.4-.4z" fill="#00b2a6"/><path d="M393.5 458.3l3.4-1.2l-2.6-2l-3.4 1.2z" fill="#00d197"/><path d="M372 457.3l3.4-1.2l-2.6-1.5l-3.4 1.2z" fill="#00db91"/><path d="M350.5 460.3l3.4-2.3l-2.6-1.5l-3.4 2.2z" fill="#00bfa0"/><path d="M421 456.7l3.4-.4l-2.6-.2l-3.4 1.1z" fill="#00e28e"/><path d="M329 463.7l3.4-1.1l-2.6-1.7l-3.4 .5z" fill="#009eb0"/><path d="M399.5 459.6l3.4-.5l-2.6-3l-3.4 1z" fill="#00c79c"/><path d="M307.5 458.7l3.4-1.6l-2.6-2.8l-3.4 2.4z" fill="#00d097"/><path d="M378 457.6l3.4-1l-2.6-1.6l-3.4 1.1z" fill="#00db92"/><path d="M356.5 459.5l3.4-2.1l-2.6-1.5l-3.4 2.1z" fill="#00ca9a"/><path d="M427 456.3l3.5 .9l-2.6-.5l-3.5-.4z" fill="#00e98a"/><path d="M335 464.2l3.4-2.1l-2.6-1.6l-3.4 2.1z" fill="#009db1"/><path d="M405.5 461.7l3.5-.3l-2.6-2.9l-3.5 .6z" fill="#00b6a4"/><path d="M313.5 459.7l3.4-.9l-2.6-3l-3.4 1.3z" fill="#00c99b"/><path d="M384 458.4l3.5-1l-2.6-1.8l-3.5 1z" fill="#00d694"/><path d="M362.5 458.9l3.5-1.7l-2.6-1.5l-3.5 1.7z" fill="#00d296"/><path d="M341 463.6l3.5-2.4l-2.6-1.7l-3.5 2.6z" fill="#00a5ac"/><path d="M411.6 461.2l3.4-2l-2.6 .1l-3.4 2.1z" fill="#00bea0"/><path d="M319.5 461.4l3.5 0l-2.6-2.8l-3.5 .2z" fill="#00bba1"/><path d="M390.1 459.5l3.4-1.2l-2.6-2l-3.4 1.1z" fill="#00ce98"/><path d="M368.6 458.6l3.4-1.3l-2.6-1.5l-3.4 1.4z" fill="#00d793"/><path d="M347.1 462.6l3.4-2.3l-2.6-1.6l-3.4 2.5z" fill="#00b1a6"/><path d="M417.6 457.7l3.4-1l-2.6 .5l-3.4 2z" fill="#00e18e"/><path d="M325.6 463.9l3.4-.2l-2.6-2.3l-3.4 0z" fill="#00a6ac"/><path d="M396.1 460.7l3.4-1.1l-2.6-2.5l-3.4 1.2z" fill="#00c69c"/><path d="M374.6 458.7l3.4-1.1l-2.6-1.5l-3.4 1.2z" fill="#00d992"/><path d="M353.1 461.7l3.4-2.2l-2.6-1.5l-3.4 2.3z" fill="#00bea0"/><path d="M423.6 456.2l3.4 .1l-2.6 0l-3.4 .4z" fill="#00f386"/><path d="M331.6 465.5l3.4-1.3l-2.6-1.6l-3.4 1.1z" fill="#0099b2"/><path d="M402.1 462.2l3.4-.5l-2.6-2.6l-3.4 .5z" fill="#00baa2"/><path d="M310.1 460.5l3.4-.8l-2.6-2.6l-3.4 1.6z" fill="#00ca9a"/><path d="M380.6 459.4l3.4-1l-2.6-1.8l-3.4 1z" fill="#00d694"/><path d="M359.1 460.8l3.4-1.9l-2.6-1.5l-3.4 2.1z" fill="#00c99b"/><path d="M337.6 465.6l3.4-2l-2.6-1.5l-3.4 2.1z" fill="#009cb1"/><path d="M408.1 462.7l3.5-1.5l-2.6 .2l-3.5 .3z" fill="#00b8a3"/><path d="M316.1 461.8l3.4-.4l-2.6-2.6l-3.4 .9z" fill="#00c09f"/><path d="M386.6 460.7l3.5-1.2l-2.6-2.1l-3.5 1z" fill="#00cc99"/><path d="M365.1 460.3l3.5-1.7l-2.6-1.4l-3.5 1.7z" fill="#00d197"/><path d="M343.6 464.9l3.5-2.3l-2.6-1.4l-3.5 2.4z" fill="#00a5ac"/><path d="M414.2 459.6l3.4-1.9l-2.6 1.5l-3.4 2z" fill="#00d993"/><path d="M322.1 463.8l3.5 .1l-2.6-2.5l-3.5 0z" fill="#00b0a7"/><path d="M392.7 462.2l3.4-1.5l-2.6-2.4l-3.4 1.2z" fill="#00c19f"/><path d="M371.2 460l3.4-1.3l-2.6-1.4l-3.4 1.3z" fill="#00d694"/><path d="M349.7 463.9l3.4-2.2l-2.6-1.4l-3.4 2.3z" fill="#00b1a6"/><path d="M420.2 456.6l3.4-.4l-2.6 .5l-3.4 1z" fill="#00f983"/><path d="M328.2 465.9l3.4-.4l-2.6-1.8l-3.4 .2z" fill="#009fb0"/><path d="M398.7 463.5l3.4-1.3l-2.6-2.6l-3.4 1.1z" fill="#00b7a4"/><path d="M377.2 460.4l3.4-1l-2.6-1.8l-3.4 1.1z" fill="#00d694"/><path d="M355.7 463l3.4-2.2l-2.6-1.3l-3.4 2.2z" fill="#00bda0"/><path d="M334.2 466.9l3.4-1.3l-2.6-1.4l-3.4 1.3z" fill="#0098b3"/><path d="M404.7 464.4l3.4-1.7l-2.6-1l-3.4 .5z" fill="#00b1a7"/><path d="M312.7 462l3.4-.2l-2.6-2.1l-3.4 .8z" fill="#00c89b"/><path d="M383.2 461.6l3.4-.9l-2.6-2.3l-3.4 1z" fill="#00cc99"/><path d="M361.7 462.1l3.4-1.8l-2.6-1.4l-3.4 1.9z" fill="#00c89b"/><path d="M340.2 466.8l3.4-1.9l-2.6-1.3l-3.4 2z" fill="#009cb1"/><path d="M410.8 462.5l3.4-2.9l-2.6 1.6l-3.5 1.5z" fill="#00c69c"/><path d="M318.7 464l3.4-.2l-2.6-2.4l-3.4 .4z" fill="#00b7a3"/><path d="M389.3 463.5l3.4-1.3l-2.6-2.7l-3.5 1.2z" fill="#00bda1"/><path d="M367.8 461.7l3.4-1.7l-2.6-1.4l-3.5 1.7z" fill="#00cf97"/><path d="M346.3 466.1l3.4-2.2l-2.6-1.3l-3.5 2.3z" fill="#00a5ac"/><path d="M416.8 458l3.4-1.4l-2.6 1.1l-3.4 1.9z" fill="#00f485"/><path d="M324.8 465.8l3.4 .1l-2.6-2l-3.5-.1z" fill="#00a9ab"/><path d="M395.3 465.3l3.4-1.8l-2.6-2.8l-3.4 1.5z" fill="#00afa8"/><path d="M373.8 461.7l3.4-1.3l-2.6-1.7l-3.4 1.3z" fill="#00d296"/><path d="M352.3 465.2l3.4-2.2l-2.6-1.3l-3.4 2.2z" fill="#00b1a6"/><path d="M330.8 467.4l3.4-.5l-2.6-1.4l-3.4 .4z" fill="#009cb1"/><path d="M401.3 466.5l3.4-2.1l-2.6-2.2l-3.4 1.3z" fill="#00a6ac"/><path d="M379.8 462.5l3.4-.9l-2.6-2.2l-3.4 1z" fill="#00cd99"/><path d="M358.3 464.2l3.4-2.1l-2.6-1.3l-3.4 2.2z" fill="#00bda0"/><path d="M336.8 468.1l3.4-1.3l-2.6-1.2l-3.4 1.3z" fill="#0099b3"/><path d="M407.3 465.7l3.5-3.2l-2.7 .2l-3.4 1.7z" fill="#00b0a7"/><path d="M315.3 464.4l3.4-.4l-2.6-2.2l-3.4 .2z" fill="#00bca1"/><path d="M385.8 464.8l3.5-1.3l-2.7-2.8l-3.4 .9z" fill="#00baa2"/><path d="M364.3 463.6l3.5-1.9l-2.7-1.4l-3.4 1.8z" fill="#00c69c"/><path d="M342.8 467.9l3.5-1.8l-2.7-1.2l-3.4 1.9z" fill="#009db0"/><path d="M413.4 462l3.4-4l-2.6 1.6l-3.4 2.9z" fill="#00d793"/><path d="M321.3 465.7l3.5 .1l-2.7-2l-3.4 .2z" fill="#00b3a6"/><path d="M391.9 466.9l3.4-1.6l-2.6-3.1l-3.4 1.3z" fill="#00a8ab"/><path d="M370.4 463.4l3.4-1.7l-2.6-1.7l-3.4 1.7z" fill="#00cb9a"/><path d="M348.9 467.3l3.4-2.1l-2.6-1.3l-3.4 2.2z" fill="#00a6ac"/><path d="M327.4 467.6l3.4-.2l-2.6-1.5l-3.4-.1z" fill="#00a4ad"/><path d="M397.9 468.3l3.4-1.8l-2.6-3l-3.4 1.8z" fill="#009eb0"/><path d="M376.4 463.8l3.4-1.3l-2.6-2.1l-3.4 1.3z" fill="#00c99a"/><path d="M354.9 466.4l3.4-2.2l-2.6-1.2l-3.4 2.2z" fill="#00b1a6"/><path d="M333.4 468.8l3.4-.7l-2.6-1.2l-3.4 .5z" fill="#009bb1"/><path d="M403.9 468.4l3.4-2.7l-2.6-1.3l-3.4 2.1z" fill="#00a0af"/><path d="M382.4 465.8l3.4-1l-2.6-3.2l-3.4 .9z" fill="#00baa2"/><path d="M360.9 465.6l3.4-2l-2.6-1.5l-3.4 2.1z" fill="#00bca1"/><path d="M339.4 469.3l3.4-1.4l-2.6-1.1l-3.4 1.3z" fill="#0099b2"/><path d="M409.9 466l3.5-4l-2.6 .5l-3.5 3.2z" fill="#00b9a2"/><path d="M317.9 466l3.4-.3l-2.6-1.7l-3.4 .4z" fill="#00baa2"/><path d="M388.4 468.9l3.5-2l-2.6-3.4l-3.5 1.3z" fill="#009fb0"/><path d="M366.9 465.4l3.5-2l-2.6-1.7l-3.5 1.9z" fill="#00c19f"/><path d="M345.4 469.1l3.5-1.8l-2.6-1.2l-3.5 1.8z" fill="#009eb0"/><path d="M323.9 467.6l3.5 0l-2.6-1.8l-3.5-.1z" fill="#00ada9"/><path d="M394.5 470.1l3.4-1.8l-2.6-3l-3.4 1.6z" fill="#0096b4"/><path d="M373 465.8l3.4-2l-2.6-2.1l-3.4 1.7z" fill="#00c09f"/><path d="M351.5 468.5l3.4-2.1l-2.6-1.2l-3.4 2.1z" fill="#00a6ac"/><path d="M330 469.2l3.4-.4l-2.6-1.4l-3.4 .2z" fill="#00a1af"/><path d="M400.5 469.9l3.4-1.5l-2.6-1.9l-3.4 1.8z" fill="#009bb2"/><path d="M379 467.1l3.4-1.3l-2.6-3.3l-3.4 1.3z" fill="#00b6a4"/><path d="M357.5 467.8l3.4-2.2l-2.6-1.4l-3.4 2.2z" fill="#00b0a7"/><path d="M336 470.1l3.4-.8l-2.6-1.2l-3.4 .7z" fill="#009bb2"/><path d="M406.5 469.1l3.4-3.1l-2.6-.3l-3.4 2.7z" fill="#00a5ad"/><path d="M385 470.4l3.4-1.5l-2.6-4.1l-3.4 1z" fill="#0099b2"/><path d="M363.5 467.4l3.4-2l-2.6-1.8l-3.4 2z" fill="#00b7a4"/><path d="M342 470.5l3.4-1.4l-2.6-1.2l-3.4 1.4z" fill="#009ab2"/><path d="M320.5 467.9l3.4-.3l-2.6-1.9l-3.4 .3z" fill="#00b3a6"/><path d="M391 472.6l3.5-2.5l-2.6-3.2l-3.5 2z" fill="#0087bb"/><path d="M369.5 467.8l3.5-2l-2.6-2.4l-3.5 2z" fill="#00b6a4"/><path d="M348 470.3l3.5-1.8l-2.6-1.2l-3.5 1.8z" fill="#009eb0"/><path d="M326.5 469.6l3.5-.4l-2.6-1.6l-3.5 0z" fill="#00a5ac"/><path d="M397.1 470.9l3.4-1l-2.6-1.6l-3.4 1.8z" fill="#009ab2"/><path d="M375.6 469.3l3.4-2.2l-2.6-3.3l-3.4 2z" fill="#00aaaa"/><path d="M354.1 469.9l3.4-2.1l-2.6-1.4l-3.4 2.1z" fill="#00a5ac"/><path d="M332.6 470.5l3.4-.4l-2.6-1.3l-3.4 .4z" fill="#00a0af"/><path d="M403.1 470.2l3.4-1.1l-2.6-.7l-3.4 1.5z" fill="#00a4ad"/><path d="M381.6 471.9l3.4-1.5l-2.6-4.6l-3.4 1.3z" fill="#0094b5"/><path d="M360.1 469.5l3.4-2.1l-2.6-1.8l-3.4 2.2z" fill="#00aca9"/><path d="M338.6 471.3l3.4-.8l-2.6-1.2l-3.4 .8z" fill="#009bb2"/><path d="M387.6 474l3.4-1.4l-2.6-3.7l-3.4 1.5z" fill="#0083bd"/><path d="M366.1 469.7l3.4-1.9l-2.6-2.4l-3.4 2z" fill="#00ada9"/><path d="M344.6 471.7l3.4-1.4l-2.6-1.2l-3.4 1.4z" fill="#009ab2"/><path d="M323.1 470.4l3.4-.8l-2.6-2l-3.4 .3z" fill="#00a7ab"/><path d="M393.7 473.2l3.4-2.3l-2.6-.8l-3.5 2.5z" fill="#008db8"/><path d="M372.2 470.9l3.4-1.6l-2.6-3.5l-3.5 2z" fill="#00a4ad"/><path d="M350.7 471.7l3.4-1.8l-2.6-1.4l-3.5 1.8z" fill="#009db0"/><path d="M329.2 471l3.4-.5l-2.6-1.3l-3.5 .4z" fill="#00a4ad"/><path d="M399.7 470.1l3.4 .1l-2.6-.3l-3.4 1z" fill="#00aea8"/><path d="M378.2 473.2l3.4-1.3l-2.6-4.8l-3.4 2.2z" fill="#0091b7"/><path d="M356.7 471.4l3.4-1.9l-2.6-1.7l-3.4 2.1z" fill="#00a2ae"/><path d="M335.2 471.8l3.4-.5l-2.6-1.2l-3.4 .4z" fill="#009faf"/><path d="M384.2 474.9l3.4-.9l-2.6-3.6l-3.4 1.5z" fill="#0083bd"/><path d="M362.7 471.5l3.4-1.8l-2.6-2.3l-3.4 2.1z" fill="#00a5ad"/><path d="M341.2 472.5l3.4-.8l-2.6-1.2l-3.4 .8z" fill="#009bb1"/><path d="M390.2 475.1l3.5-1.9l-2.7-.6l-3.4 1.4z" fill="#0084bd"/><path d="M368.7 472.2l3.5-1.3l-2.7-3.1l-3.4 1.9z" fill="#00a0af"/><path d="M347.2 473l3.5-1.3l-2.7-1.4l-3.4 1.4z" fill="#009ab2"/><path d="M325.7 471.7l3.5-.7l-2.7-1.4l-3.4 .8z" fill="#00a7ac"/><path d="M396.3 472.8l3.4-2.7l-2.6 .8l-3.4 2.3z" fill="#009db1"/><path d="M374.8 473.8l3.4-.6l-2.6-3.9l-3.4 1.6z" fill="#0094b5"/><path d="M353.3 473.1l3.4-1.7l-2.6-1.5l-3.4 1.8z" fill="#009cb1"/><path d="M331.8 472.3l3.4-.5l-2.6-1.3l-3.4 .5z" fill="#00a4ad"/><path d="M380.8 475.5l3.4-.6l-2.6-3l-3.4 1.3z" fill="#0086bc"/><path d="M359.3 473.2l3.4-1.7l-2.6-2l-3.4 1.9z" fill="#009eb0"/><path d="M337.8 473l3.4-.5l-2.6-1.2l-3.4 .5z" fill="#00a0af"/><path d="M386.8 476.1l3.4-1l-2.6-1.1l-3.4 .9z" fill="#0084bd"/><path d="M365.3 473.6l3.4-1.4l-2.6-2.5l-3.4 1.8z" fill="#009db1"/><path d="M343.8 473.7l3.4-.7l-2.6-1.3l-3.4 .8z" fill="#009cb1"/><path d="M392.8 475l3.5-2.2l-2.6 .4l-3.5 1.9z" fill="#0091b6"/><path d="M371.3 474.5l3.5-.7l-2.6-2.9l-3.5 1.3z" fill="#0096b4"/><path d="M349.8 474.3l3.5-1.2l-2.6-1.4l-3.5 1.3z" fill="#0099b2"/><path d="M328.3 472.9l3.5-.6l-2.6-1.3l-3.5 .7z" fill="#00a8ab"/><path d="M377.4 475.8l3.4-.3l-2.6-2.3l-3.4 .6z" fill="#008db8"/><path d="M355.9 474.5l3.4-1.3l-2.6-1.8l-3.4 1.7z" fill="#009ab2"/><path d="M334.4 473.4l3.4-.4l-2.6-1.2l-3.4 .5z" fill="#00a5ac"/><path d="M383.4 476.5l3.4-.4l-2.6-1.2l-3.4 .6z" fill="#0089ba"/><path d="M361.9 474.8l3.4-1.2l-2.6-2.1l-3.4 1.7z" fill="#009ab2"/><path d="M340.4 474.1l3.4-.4l-2.6-1.2l-3.4 .5z" fill="#00a1ae"/><path d="M389.4 476.1l3.4-1.1l-2.6 .1l-3.4 1z" fill="#0090b7"/><path d="M367.9 475.4l3.4-.9l-2.6-2.3l-3.4 1.4z" fill="#0098b3"/><path d="M346.4 474.9l3.4-.6l-2.6-1.3l-3.4 .7z" fill="#009db1"/><path d="M373.9 476.1l3.5-.3l-2.6-2l-3.5 .7z" fill="#0093b5"/><path d="M352.4 475.4l3.5-.9l-2.6-1.4l-3.5 1.2z" fill="#009ab2"/><path d="M330.9 473.8l3.5-.4l-2.6-1.1l-3.5 .6z" fill="#00abaa"/><path d="M380 476.7l3.4-.2l-2.6-1l-3.4 .3z" fill="#0091b7"/><path d="M358.5 475.8l3.4-1l-2.6-1.6l-3.4 1.3z" fill="#0099b2"/><path d="M337 474.3l3.4-.2l-2.6-1.1l-3.4 .4z" fill="#00a9ab"/><path d="M386 476.6l3.4-.5l-2.6 0l-3.4 .4z" fill="#0094b5"/><path d="M364.5 476.2l3.4-.8l-2.6-1.8l-3.4 1.2z" fill="#0099b3"/><path d="M343 475l3.4-.1l-2.6-1.2l-3.4 .4z" fill="#00a5ad"/><path d="M370.5 476.6l3.4-.5l-2.6-1.6l-3.4 .9z" fill="#0097b3"/><path d="M349 475.8l3.4-.4l-2.6-1.1l-3.4 .6z" fill="#00a0af"/><path d="M376.6 477l3.4-.3l-2.6-.9l-3.5 .3z" fill="#0097b3"/><path d="M355.1 476.4l3.4-.6l-2.6-1.3l-3.5 .9z" fill="#009db0"/><path d="M333.6 474.4l3.4-.1l-2.6-.9l-3.5 .4z" fill="#00b1a7"/><path d="M382.6 476.9l3.4-.3l-2.6-.1l-3.4 .2z" fill="#009ab2"/><path d="M361.1 476.9l3.4-.7l-2.6-1.4l-3.4 1z" fill="#009cb1"/><path d="M339.6 475l3.4 0l-2.6-.9l-3.4 .2z" fill="#00aea8"/><path d="M367.1 477.2l3.4-.6l-2.6-1.2l-3.4 .8z" fill="#009bb2"/><path d="M345.6 475.8l3.4 0l-2.6-.9l-3.4 .1z" fill="#00a9aa"/><path d="M373.1 477.4l3.5-.4l-2.7-.9l-3.4 .5z" fill="#009cb1"/><path d="M351.6 476.6l3.5-.2l-2.7-1l-3.4 .4z" fill="#00a5ad"/><path d="M379.2 477.3l3.4-.4l-2.6-.2l-3.4 .3z" fill="#00a0af"/><path d="M357.7 477.2l3.4-.3l-2.6-1.1l-3.4 .6z" fill="#00a1ae"/><path d="M336.2 474.9l3.4 .1l-2.6-.7l-3.4 .1z" fill="#00b8a3"/><path d="M363.7 477.7l3.4-.5l-2.6-1l-3.4 .7z" fill="#00a0af"/><path d="M342.2 475.6l3.4 .2l-2.6-.8l-3.4 0z" fill="#00b5a5"/><path d="M369.7 477.9l3.4-.5l-2.6-.8l-3.4 .6z" fill="#00a0af"/><path d="M348.2 476.4l3.4 .2l-2.6-.8l-3.4 0z" fill="#00b0a7"/><path d="M375.7 477.8l3.5-.5l-2.6-.3l-3.5 .4z" fill="#00a4ad"/><path d="M354.2 477.2l3.5 0l-2.6-.8l-3.5 .2z" fill="#00abaa"/><path d="M360.3 477.9l3.4-.2l-2.6-.8l-3.4 .3z" fill="#00a7ac"/><path d="M338.8 475.4l3.4 .2l-2.6-.6l-3.4-.1z" fill="#00c09f"/><path d="M366.3 478.3l3.4-.4l-2.6-.7l-3.4 .5z" fill="#00a6ac"/><path d="M344.8 476l3.4 .4l-2.6-.6l-3.4-.2z" fill="#00bca1"/><path d="M372.3 478.3l3.4-.5l-2.6-.4l-3.4 .5z" fill="#00a9ab"/><path d="M350.8 476.9l3.4 .3l-2.6-.6l-3.4-.2z" fill="#00b7a4"/><path d="M356.8 477.8l3.5 .1l-2.6-.7l-3.5 0z" fill="#00b1a6"/><path d="M362.9 478.4l3.4-.1l-2.6-.6l-3.4 .2z" fill="#00aea8"/><path d="M341.4 475.7l3.4 .3l-2.6-.4l-3.4-.2z" fill="#00c89b"/><path d="M368.9 478.6l3.4-.3l-2.6-.4l-3.4 .4z" fill="#00aea8"/><path d="M347.4 476.4l3.4 .5l-2.6-.5l-3.4-.4z" fill="#00c49d"/><path d="M353.4 477.4l3.4 .4l-2.6-.6l-3.4-.3z" fill="#00bea0"/><path d="M359.5 478.3l3.4 .1l-2.6-.5l-3.5-.1z" fill="#00b8a3"/><path d="M365.5 478.8l3.4-.2l-2.6-.3l-3.4 .1z" fill="#00b6a4"/><path d="M344 476l3.4 .4l-2.6-.4l-3.4-.3z" fill="#00d196"/><path d="M350 476.8l3.4 .6l-2.6-.5l-3.4-.5z" fill="#00cd99"/><path d="M356 477.8l3.5 .5l-2.7-.5l-3.4-.4z" fill="#00c69c"/><path d="M362.1 478.7l3.4 .1l-2.6-.4l-3.4-.1z" fill="#00c09f"/><path d="M346.6 476.3l3.4 .5l-2.6-.4l-3.4-.4z" fill="#00db92"/><path d="M352.6 477.2l3.4 .6l-2.6-.4l-3.4-.6z" fill="#00d594"/><path d="M358.6 478.2l3.5 .5l-2.6-.4l-3.5-.5z" fill="#00ce98"/><path d="M349.2 476.6l3.4 .6l-2.6-.4l-3.4-.5z" fill="#00e48d"/><path d="M355.2 477.5l3.4 .7l-2.6-.4l-3.4-.6z" fill="#00de90"/><path d="M351.8 476.8l3.4 .7l-2.6-.3l-3.4-.6z" fill="#00ee88"/></g>
<path d="M273.6 403.9L273.6 487.9M273.6 487.9L351.8 525.5M351.8 525.5L454.4 496.8M273.6 487.9l-2 0.6M273.6 473.9l-2 0.6M273.6 459.9l-2 0.6M273.6 445.9l-2 0.6M273.6 431.9l-2 0.6M273.6 417.9l-2 0.6M273.6 403.9l-2 0.6M351.8 525.5l-2 0.6M312.7 506.7l-2 0.6M273.6 487.9l-2 0.6M351.8 525.5l1.8 0.9M377.4 518.3l1.8 0.9M403.1 511.1l1.8 0.9M428.8 504.0l1.8 0.9M454.4 496.8l1.8 0.9" fill="none" stroke="#262626" stroke-width="0.55"/>
<text x="269.6" y="489.6" text-anchor="end" class="tk">-1.5</text>
<text x="269.6" y="475.6" text-anchor="end" class="tk">-1</text>
<text x="269.6" y="461.6" text-anchor="end" class="tk">-0.5</text>
<text x="269.6" y="447.6" text-anchor="end" class="tk">0</text>
<text x="269.6" y="433.6" text-anchor="end" class="tk">0.5</text>
<text x="269.6" y="419.6" text-anchor="end" class="tk">1</text>
<text x="269.6" y="405.6" text-anchor="end" class="tk">1.5</text>
<text x="264.5" y="496.3" text-anchor="middle" class="tk">10</text>
<text x="305.3" y="515.8" text-anchor="middle" class="tk">0</text>
<text x="342.2" y="535.2" text-anchor="middle" class="tk">-10</text>
<text x="358.4" y="535.6" text-anchor="middle" class="tk">0</text>
<text x="384.4" y="528.7" text-anchor="middle" class="tk">5</text>
<text x="411.9" y="521.6" text-anchor="middle" class="tk">10</text>
<text x="437.4" y="514.2" text-anchor="middle" class="tk">15</text>
<text x="462.9" y="506.4" text-anchor="middle" class="tk">20</text>
<text x="281.2" y="536.5" text-anchor="middle" class="l3">y-coordinates [m]</text>
<text x="425.3" y="538.8" text-anchor="middle" class="l3">x-coordinates [m]</text>
<text transform="translate(252.2 446.8) rotate(-90)" text-anchor="middle" class="l3">Surface elevation [m]</text>
</svg>
</body></html>
